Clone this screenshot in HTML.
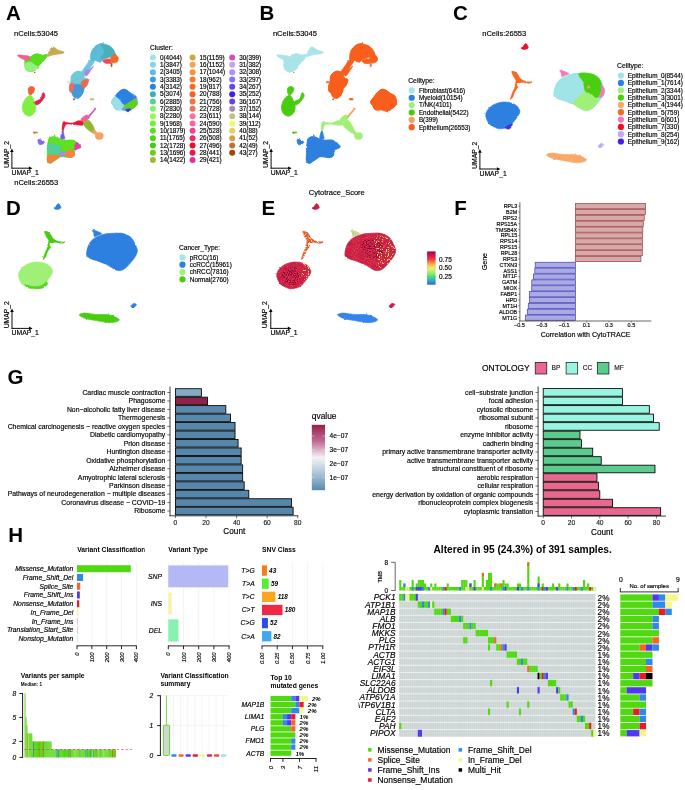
<!DOCTYPE html>
<html lang="en"><head><meta charset="utf-8"><title>Figure</title>
<style>html,body{margin:0;padding:0;background:#fff}svg{display:block}text{white-space:pre}</style>
</head><body>
<svg width="685" height="790" viewBox="0 0 685 790" font-family='"Liberation Sans", sans-serif'>
<defs>
<filter color-interpolation-filters="sRGB" id="rough" x="-5%" y="-5%" width="110%" height="110%"><feTurbulence type="fractalNoise" baseFrequency="0.09" numOctaves="2" seed="3" result="n"/><feDisplacementMap in="SourceGraphic" in2="n" scale="9" xChannelSelector="R" yChannelSelector="G"/></filter>
<filter color-interpolation-filters="sRGB" id="speckA" x="0" y="0" width="100%" height="100%"><feTurbulence type="fractalNoise" baseFrequency="0.2" numOctaves="2" seed="7" result="n"/><feColorMatrix in="n" type="matrix" values="0 0 0 0 0.92  0 0 0 0 0.22  0 0 0 0 0.22  14 0 0 0 -7.8" result="m"/><feComposite in="m" in2="SourceGraphic" operator="in"/></filter>
<filter color-interpolation-filters="sRGB" id="speckB" x="0" y="0" width="100%" height="100%"><feTurbulence type="fractalNoise" baseFrequency="0.2" numOctaves="2" seed="11" result="n"/><feColorMatrix in="n" type="matrix" values="0 0 0 0 0.97  0 0 0 0 0.86  0 0 0 0 0.4  0 14 0 0 -8.2" result="m"/><feComposite in="m" in2="SourceGraphic" operator="in"/></filter>
<filter color-interpolation-filters="sRGB" id="speckC" x="0" y="0" width="100%" height="100%"><feTurbulence type="fractalNoise" baseFrequency="0.2" numOctaves="2" seed="19" result="n"/><feColorMatrix in="n" type="matrix" values="0 0 0 0 0.55  0 0 0 0 0.02  0 0 0 0 0.24  0 0 14 0 -7.6" result="m"/><feComposite in="m" in2="SourceGraphic" operator="in"/></filter>
<linearGradient id="cyto" x1="0" y1="0" x2="0" y2="1"><stop offset="0" stop-color="#9E0058"/><stop offset="0.1" stop-color="#D01050"/><stop offset="0.22" stop-color="#F53040"/><stop offset="0.36" stop-color="#FF9A48"/><stop offset="0.5" stop-color="#F4F070"/><stop offset="0.64" stop-color="#9CF068"/><stop offset="0.78" stop-color="#40D880"/><stop offset="0.88" stop-color="#30A8C8"/><stop offset="1" stop-color="#3858F0"/></linearGradient>
<linearGradient id="qv" x1="0" y1="0" x2="0" y2="1"><stop offset="0" stop-color="#96204C"/><stop offset="0.25" stop-color="#C06A90"/><stop offset="0.5" stop-color="#F4F2F6"/><stop offset="0.75" stop-color="#A8C4D6"/><stop offset="1" stop-color="#5A8AAE"/></linearGradient>
<clipPath id="clipVC"><rect x="70" y="540" width="74.6" height="20"/></clipPath>
<clipPath id="clipGene"><rect x="358.6" y="585" width="50" height="160"/></clipPath>
</defs>
<rect x="0.00" y="0.00" width="685.00" height="790.00" fill="#fff" />
<text x="6.10" y="19.70" font-size="20.5" font-weight="bold" >A</text>
<text x="14.00" y="35.70" font-size="7.55" stroke="#000" stroke-width="0.16" >nCells:53045</text>
<g transform="translate(10.00,35.00) scale(0.20437)" filter="url(#rough)">
<path d="M497.0,327.0 C499.0,318.8 508.7,306.2 518.0,296.0 C527.3,285.8 541.3,268.2 553.0,266.0 C564.7,263.8 577.3,277.3 588.0,283.0 C598.7,288.7 611.3,291.0 617.0,300.0 C622.7,309.0 624.0,327.5 622.0,337.0 C620.0,346.5 612.3,351.0 605.0,357.0 C597.7,363.0 588.3,371.5 578.0,373.0 C567.7,374.5 553.0,367.5 543.0,366.0 C533.0,364.5 524.2,367.5 518.0,364.0 C511.8,360.5 509.5,351.2 506.0,345.0 C502.5,338.8 495.0,335.2 497.0,327.0Z" fill="#5CA8E0" stroke="#5CA8E0" stroke-width="3" stroke-linejoin="round" />
<path d="M190.0,508.0 C195.8,497.7 208.3,497.7 218.0,498.0 C227.7,498.3 238.8,507.2 248.0,510.0 C257.2,512.8 263.0,514.2 273.0,515.0 C283.0,515.8 299.7,512.8 308.0,515.0 C316.3,517.2 321.7,518.5 323.0,528.0 C324.3,537.5 317.8,561.3 316.0,572.0 C314.2,582.7 316.0,587.3 312.0,592.0 C308.0,596.7 300.3,599.3 292.0,600.0 C283.7,600.7 270.2,596.3 262.0,596.0 C253.8,595.7 250.3,594.8 243.0,598.0 C235.7,601.2 225.5,610.2 218.0,615.0 C210.5,619.8 203.8,626.7 198.0,627.0 C192.2,627.3 185.5,628.2 183.0,617.0 C180.5,605.8 181.8,578.2 183.0,560.0 C184.2,541.8 184.2,518.3 190.0,508.0Z" fill="#50D840" stroke="#50D840" stroke-width="3" stroke-linejoin="round" />
<path d="M75.0,112.0 C80.0,102.5 95.8,108.2 105.0,105.0 C114.2,101.8 120.8,94.0 130.0,93.0 C139.2,92.0 151.3,98.3 160.0,99.0 C168.7,99.7 180.3,93.5 182.0,97.0 C183.7,100.5 176.2,112.0 170.0,120.0 C163.8,128.0 150.8,138.0 145.0,145.0 C139.2,152.0 140.0,156.7 135.0,162.0 C130.0,167.3 122.5,174.5 115.0,177.0 C107.5,179.5 96.7,179.5 90.0,177.0 C83.3,174.5 77.5,172.8 75.0,162.0 C72.5,151.2 70.0,121.5 75.0,112.0Z" fill="#58DC20" stroke="#58DC20" stroke-width="3" stroke-linejoin="round" />
<path d="M304.0,195.0 C309.0,188.0 320.7,179.7 329.0,178.0 C337.3,176.3 347.7,179.7 354.0,185.0 C360.3,190.3 362.0,204.7 367.0,210.0 C372.0,215.3 382.3,211.2 384.0,217.0 C385.7,222.8 380.7,237.8 377.0,245.0 C373.3,252.2 365.8,252.5 362.0,260.0 C358.2,267.5 358.7,281.8 354.0,290.0 C349.3,298.2 340.7,306.7 334.0,309.0 C327.3,311.3 319.3,308.8 314.0,304.0 C308.7,299.2 305.7,285.0 302.0,280.0 C298.3,275.0 293.7,279.8 292.0,274.0 C290.3,268.2 290.8,254.0 292.0,245.0 C293.2,236.0 297.0,228.3 299.0,220.0 C301.0,211.7 299.0,202.0 304.0,195.0Z" fill="#78C8E0" stroke="#78C8E0" stroke-width="3" stroke-linejoin="round" />
<path d="M185.0,95.0 C187.5,88.3 195.0,70.8 200.0,65.0 C205.0,59.2 209.2,58.5 215.0,60.0 C220.8,61.5 226.7,70.0 235.0,74.0 C243.3,78.0 262.5,81.0 265.0,84.0 C267.5,87.0 256.7,90.2 250.0,92.0 C243.3,93.8 233.3,93.7 225.0,95.0 C216.7,96.3 206.7,98.3 200.0,100.0 C193.3,101.7 187.5,105.8 185.0,105.0 C182.5,104.2 182.5,101.7 185.0,95.0Z" fill="#C8A850" stroke="#C8A850" stroke-width="3" stroke-linejoin="round" />
<path d="M37.0,99.0 C38.7,96.5 55.8,98.2 65.0,99.0 C74.2,99.8 86.7,100.7 92.0,104.0 C97.3,107.3 99.0,115.7 97.0,119.0 C95.0,122.3 87.0,124.8 80.0,124.0 C73.0,123.2 62.2,118.2 55.0,114.0 C47.8,109.8 35.3,101.5 37.0,99.0Z" fill="#F06090" stroke="#F06090" stroke-width="3" stroke-linejoin="round" />
<path d="M72.0,142.0 C76.2,137.0 90.3,131.2 100.0,132.0 C109.7,132.8 124.2,142.0 130.0,147.0 C135.8,152.0 137.5,157.0 135.0,162.0 C132.5,167.0 122.5,174.5 115.0,177.0 C107.5,179.5 96.7,179.5 90.0,177.0 C83.3,174.5 78.0,167.8 75.0,162.0 C72.0,156.2 67.8,147.0 72.0,142.0Z" fill="#90F080" stroke="#90F080" stroke-width="3" stroke-linejoin="round" />
<path d="M105.0,104.0 C109.7,98.5 120.8,92.8 130.0,92.0 C139.2,91.2 151.3,98.2 160.0,99.0 C168.7,99.8 180.3,93.5 182.0,97.0 C183.7,100.5 176.2,112.0 170.0,120.0 C163.8,128.0 152.5,140.8 145.0,145.0 C137.5,149.2 132.2,148.3 125.0,145.0 C117.8,141.7 105.3,131.8 102.0,125.0 C98.7,118.2 100.3,109.5 105.0,104.0Z" fill="#58DC20" stroke="#58DC20" stroke-width="3" stroke-linejoin="round" />
<circle cx="121.00" cy="183.00" r="3.50" fill="#E03050" />
<path d="M392.0,122.0 C398.3,119.0 412.5,122.3 413.0,128.0 C413.5,133.7 400.7,147.8 395.0,156.0 C389.3,164.2 384.0,170.5 379.0,177.0 C374.0,183.5 370.3,193.0 365.0,195.0 C359.7,197.0 348.0,193.5 347.0,189.0 C346.0,184.5 354.3,175.2 359.0,168.0 C363.7,160.8 369.5,153.7 375.0,146.0 C380.5,138.3 385.7,125.0 392.0,122.0Z" fill="#70C4DC" stroke="#70C4DC" stroke-width="3" stroke-linejoin="round" />
<path d="M394.0,100.0 C395.2,91.3 398.2,78.8 404.0,70.0 C409.8,61.2 419.8,51.3 429.0,47.0 C438.2,42.7 452.2,40.2 459.0,44.0 C465.8,47.8 469.0,60.7 470.0,70.0 C471.0,79.3 469.3,89.7 465.0,100.0 C460.7,110.3 451.7,127.8 444.0,132.0 C436.3,136.2 426.8,126.7 419.0,125.0 C411.2,123.3 401.2,126.2 397.0,122.0 C392.8,117.8 392.8,108.7 394.0,100.0Z" fill="#5CBCD8" stroke="#5CBCD8" stroke-width="3" stroke-linejoin="round" />
<path d="M445.0,44.0 C449.5,39.7 478.0,48.2 489.0,54.0 C500.0,59.8 506.5,72.2 511.0,79.0 C515.5,85.8 518.8,90.3 516.0,95.0 C513.2,99.7 503.5,103.3 494.0,107.0 C484.5,110.7 467.0,116.5 459.0,117.0 C451.0,117.5 445.5,116.2 446.0,110.0 C446.5,103.8 462.2,91.0 462.0,80.0 C461.8,69.0 440.5,48.3 445.0,44.0Z" fill="#48B0BC" stroke="#48B0BC" stroke-width="3" stroke-linejoin="round" />
<path d="M454.0,124.0 C456.5,120.7 471.5,117.0 479.0,117.0 C486.5,117.0 497.3,120.3 499.0,124.0 C500.7,127.7 494.8,136.8 489.0,139.0 C483.2,141.2 469.8,139.5 464.0,137.0 C458.2,134.5 451.5,127.3 454.0,124.0Z" fill="#F04860" stroke="#F04860" stroke-width="3" stroke-linejoin="round" />
<path d="M494.0,109.0 C497.7,104.0 508.2,94.8 514.0,95.0 C519.8,95.2 527.0,104.2 529.0,110.0 C531.0,115.8 530.2,125.5 526.0,130.0 C521.8,134.5 509.7,137.8 504.0,137.0 C498.3,136.2 493.7,129.7 492.0,125.0 C490.3,120.3 490.3,114.0 494.0,109.0Z" fill="#F86820" stroke="#F86820" stroke-width="3" stroke-linejoin="round" />
<path d="M495.0,139.0 C495.7,136.5 498.3,136.5 499.0,139.0 C499.7,141.5 499.7,151.5 499.0,154.0 C498.3,156.5 495.7,156.5 495.0,154.0 C494.3,151.5 494.3,141.5 495.0,139.0Z" fill="#B04818" stroke="#B04818" stroke-width="3" stroke-linejoin="round" />
<path d="M304.0,195.0 C309.0,187.8 320.7,178.7 329.0,177.0 C337.3,175.3 347.7,179.5 354.0,185.0 C360.3,190.5 367.0,203.3 367.0,210.0 C367.0,216.7 358.7,220.0 354.0,225.0 C349.3,230.0 345.7,238.0 339.0,240.0 C332.3,242.0 320.7,240.3 314.0,237.0 C307.3,233.7 300.7,227.0 299.0,220.0 C297.3,213.0 299.0,202.2 304.0,195.0Z" fill="#70C8D8" stroke="#70C8D8" stroke-width="3" stroke-linejoin="round" />
<path d="M309.0,245.0 C316.0,239.0 335.2,241.5 344.0,244.0 C352.8,246.5 360.3,252.3 362.0,260.0 C363.7,267.7 358.7,281.8 354.0,290.0 C349.3,298.2 340.7,306.7 334.0,309.0 C327.3,311.3 319.3,308.8 314.0,304.0 C308.7,299.2 302.8,289.8 302.0,280.0 C301.2,270.2 302.0,251.0 309.0,245.0Z" fill="#4498D8" stroke="#4498D8" stroke-width="3" stroke-linejoin="round" />
<path d="M292.0,245.0 C294.0,238.5 300.3,235.0 304.0,235.0 C307.7,235.0 314.0,237.7 314.0,245.0 C314.0,252.3 307.7,274.2 304.0,279.0 C300.3,283.8 294.0,279.7 292.0,274.0 C290.0,268.3 290.0,251.5 292.0,245.0Z" fill="#F06868" stroke="#F06868" stroke-width="3" stroke-linejoin="round" />
<path d="M354.0,225.0 C359.8,220.3 380.2,213.7 384.0,217.0 C387.8,220.3 380.7,237.8 377.0,245.0 C373.3,252.2 366.7,260.0 362.0,260.0 C357.3,260.0 350.3,250.8 349.0,245.0 C347.7,239.2 348.2,229.7 354.0,225.0Z" fill="#F06850" stroke="#F06850" stroke-width="3" stroke-linejoin="round" />
<path d="M369.0,175.0 C372.7,170.5 382.3,170.8 389.0,167.0 C395.7,163.2 408.2,150.7 409.0,152.0 C409.8,153.3 399.3,167.2 394.0,175.0 C388.7,182.8 381.5,195.8 377.0,199.0 C372.5,202.2 368.3,198.0 367.0,194.0 C365.7,190.0 365.3,179.5 369.0,175.0Z" fill="#A888F0" stroke="#A888F0" stroke-width="3" stroke-linejoin="round" />
<circle cx="313.00" cy="314.00" r="5.00" fill="#8040D8" />
<path d="M280.0,229.0 C282.0,228.3 290.0,228.3 292.0,229.0 C294.0,229.7 294.0,232.3 292.0,233.0 C290.0,233.7 282.0,233.7 280.0,233.0 C278.0,232.3 278.0,229.7 280.0,229.0Z" fill="#E8F060" stroke="#E8F060" stroke-width="3" stroke-linejoin="round" />
<path d="M392.0,312.0 C394.3,311.0 405.0,310.2 408.0,311.0 C411.0,311.8 412.3,316.0 410.0,317.0 C407.7,318.0 397.0,317.8 394.0,317.0 C391.0,316.2 389.7,313.0 392.0,312.0Z" fill="#C0B860" stroke="#C0B860" stroke-width="3" stroke-linejoin="round" />
<path d="M496.0,327.0 C498.0,319.5 511.0,302.0 518.0,300.0 C525.0,298.0 531.3,308.3 538.0,315.0 C544.7,321.7 557.2,331.7 558.0,340.0 C558.8,348.3 549.7,360.8 543.0,365.0 C536.3,369.2 524.2,368.3 518.0,365.0 C511.8,361.7 509.7,351.3 506.0,345.0 C502.3,338.7 494.0,334.5 496.0,327.0Z" fill="#98E0E8" stroke="#98E0E8" stroke-width="3" stroke-linejoin="round" />
<path d="M518.0,295.0 C520.5,286.7 541.3,267.2 553.0,265.0 C564.7,262.8 578.8,274.5 588.0,282.0 C597.2,289.5 608.0,302.5 608.0,310.0 C608.0,317.5 596.3,322.0 588.0,327.0 C579.7,332.0 566.3,342.0 558.0,340.0 C549.7,338.0 544.7,322.5 538.0,315.0 C531.3,307.5 515.5,303.3 518.0,295.0Z" fill="#2C80E0" stroke="#2C80E0" stroke-width="3" stroke-linejoin="round" />
<path d="M558.0,350.0 C559.7,343.7 578.8,332.8 588.0,327.0 C597.2,321.2 607.0,313.3 613.0,315.0 C619.0,316.7 625.3,330.0 624.0,337.0 C622.7,344.0 612.7,352.3 605.0,357.0 C597.3,361.7 585.8,366.2 578.0,365.0 C570.2,363.8 556.3,356.3 558.0,350.0Z" fill="#60D020" stroke="#60D020" stroke-width="3" stroke-linejoin="round" />
<circle cx="613.00" cy="305.00" r="5.00" fill="#7050E0" />
<path d="M566.0,365.0 C568.0,362.7 588.0,360.2 590.0,362.0 C592.0,363.8 582.0,375.5 578.0,376.0 C574.0,376.5 564.0,367.3 566.0,365.0Z" fill="#3838E0" stroke="#3838E0" stroke-width="3" stroke-linejoin="round" />
<path d="M92.0,297.0 C98.2,293.7 102.3,295.3 107.0,300.0 C111.7,304.7 116.7,316.7 120.0,325.0 C123.3,333.3 127.0,340.8 127.0,350.0 C127.0,359.2 125.3,372.2 120.0,380.0 C114.7,387.8 103.3,396.2 95.0,397.0 C86.7,397.8 75.8,392.0 70.0,385.0 C64.2,378.0 60.0,365.8 60.0,355.0 C60.0,344.2 64.7,329.7 70.0,320.0 C75.3,310.3 85.8,300.3 92.0,297.0Z" fill="#80F040" stroke="#80F040" stroke-width="3" stroke-linejoin="round" />
<path d="M90.0,260.0 C92.5,254.2 102.0,252.0 107.0,252.0 C112.0,252.0 118.3,255.8 120.0,260.0 C121.7,264.2 119.5,271.7 117.0,277.0 C114.5,282.3 109.2,290.3 105.0,292.0 C100.8,293.7 94.5,292.3 92.0,287.0 C89.5,281.7 87.5,265.8 90.0,260.0Z" fill="#F06030" stroke="#F06030" stroke-width="3" stroke-linejoin="round" />
<path d="M122.0,327.0 C125.3,322.0 143.8,319.0 150.0,312.0 C156.2,305.0 156.2,289.5 159.0,285.0 C161.8,280.5 165.2,282.2 167.0,285.0 C168.8,287.8 172.8,294.5 170.0,302.0 C167.2,309.5 156.7,323.3 150.0,330.0 C143.3,336.7 134.7,342.5 130.0,342.0 C125.3,341.5 118.7,332.0 122.0,327.0Z" fill="#E02050" stroke="#E02050" stroke-width="3" stroke-linejoin="round" />
<path d="M257.0,440.0 C258.2,434.0 258.5,426.0 262.0,424.0 C265.5,422.0 270.3,426.8 278.0,428.0 C285.7,429.2 298.8,432.3 308.0,431.0 C317.2,429.7 324.7,421.3 333.0,420.0 C341.3,418.7 353.8,419.7 358.0,423.0 C362.2,426.3 362.2,437.2 358.0,440.0 C353.8,442.8 341.3,440.3 333.0,440.0 C324.7,439.7 317.2,438.7 308.0,438.0 C298.8,437.3 285.0,433.7 278.0,436.0 C271.0,438.3 269.2,445.8 266.0,452.0 C262.8,458.2 260.8,471.7 259.0,473.0 C257.2,474.3 255.3,465.5 255.0,460.0 C254.7,454.5 255.8,446.0 257.0,440.0Z" fill="#E81830" stroke="#E81830" stroke-width="3" stroke-linejoin="round" />
<path d="M348.0,412.0 C350.5,406.8 366.3,393.7 373.0,392.0 C379.7,390.3 387.7,397.7 388.0,402.0 C388.3,406.3 380.0,414.5 375.0,418.0 C370.0,421.5 362.5,424.0 358.0,423.0 C353.5,422.0 345.5,417.2 348.0,412.0Z" fill="#F060A0" stroke="#F060A0" stroke-width="3" stroke-linejoin="round" />
<path d="M383.0,397.0 C385.0,393.2 394.2,384.5 400.0,378.0 C405.8,371.5 414.8,360.5 418.0,358.0 C421.2,355.5 421.5,358.8 419.0,363.0 C416.5,367.2 408.2,376.7 403.0,383.0 C397.8,389.3 391.3,398.7 388.0,401.0 C384.7,403.3 381.0,400.8 383.0,397.0Z" fill="#D050C0" stroke="#D050C0" stroke-width="3" stroke-linejoin="round" />
<path d="M360.0,430.0 C362.5,424.5 375.8,415.7 383.0,417.0 C390.2,418.3 397.7,429.5 403.0,438.0 C408.3,446.5 414.2,461.0 415.0,468.0 C415.8,475.0 412.5,480.0 408.0,480.0 C403.5,480.0 394.7,473.0 388.0,468.0 C381.3,463.0 372.7,456.3 368.0,450.0 C363.3,443.7 357.5,435.5 360.0,430.0Z" fill="#90B830" stroke="#90B830" stroke-width="3" stroke-linejoin="round" />
<ellipse cx="437.0" cy="494.0" rx="21.0" ry="18.0" fill="#F8A060" />
<path d="M405.0,470.0 C405.3,466.7 412.7,464.3 416.0,466.0 C419.3,467.7 425.3,476.7 425.0,480.0 C424.7,483.3 417.3,487.7 414.0,486.0 C410.7,484.3 404.7,473.3 405.0,470.0Z" fill="#F8A060" stroke="#F8A060" stroke-width="3" stroke-linejoin="round" />
<path d="M248.0,507.0 C245.5,502.2 251.0,484.2 253.0,478.0 C255.0,471.8 258.0,467.7 260.0,470.0 C262.0,472.3 263.7,485.8 265.0,492.0 C266.3,498.2 270.8,504.5 268.0,507.0 C265.2,509.5 250.5,511.8 248.0,507.0Z" fill="#7060F0" stroke="#7060F0" stroke-width="3" stroke-linejoin="round" />
<path d="M137.0,512.0 C138.7,509.8 142.8,510.3 148.0,512.0 C153.2,513.7 165.5,518.7 168.0,522.0 C170.5,525.3 166.8,529.5 163.0,532.0 C159.2,534.5 149.2,538.2 145.0,537.0 C140.8,535.8 139.3,529.2 138.0,525.0 C136.7,520.8 135.3,514.2 137.0,512.0Z" fill="#8868F0" stroke="#8868F0" stroke-width="3" stroke-linejoin="round" />
<path d="M190.0,508.0 C193.3,502.3 208.3,497.7 218.0,498.0 C227.7,498.3 238.8,507.2 248.0,510.0 C257.2,512.8 263.0,514.2 273.0,515.0 C283.0,515.8 299.7,512.8 308.0,515.0 C316.3,517.2 322.2,521.8 323.0,528.0 C323.8,534.2 318.8,545.5 313.0,552.0 C307.2,558.5 296.3,564.5 288.0,567.0 C279.7,569.5 269.7,571.2 263.0,567.0 C256.3,562.8 253.8,547.8 248.0,542.0 C242.2,536.2 236.3,533.7 228.0,532.0 C219.7,530.3 204.3,536.0 198.0,532.0 C191.7,528.0 186.7,513.7 190.0,508.0Z" fill="#60E020" stroke="#60E020" stroke-width="3" stroke-linejoin="round" />
<path d="M183.0,542.0 C185.5,536.7 190.5,531.2 198.0,530.0 C205.5,528.8 219.7,531.3 228.0,535.0 C236.3,538.7 245.5,545.0 248.0,552.0 C250.5,559.0 248.0,571.2 243.0,577.0 C238.0,582.8 226.3,586.2 218.0,587.0 C209.7,587.8 198.8,586.2 193.0,582.0 C187.2,577.8 184.7,568.7 183.0,562.0 C181.3,555.3 180.5,547.3 183.0,542.0Z" fill="#50D098" stroke="#50D098" stroke-width="3" stroke-linejoin="round" />
<path d="M243.0,577.0 C244.7,572.8 258.0,569.2 263.0,570.0 C268.0,570.8 274.7,577.8 273.0,582.0 C271.3,586.2 258.0,595.8 253.0,595.0 C248.0,594.2 241.3,581.2 243.0,577.0Z" fill="#B088E0" stroke="#B088E0" stroke-width="3" stroke-linejoin="round" />
<path d="M273.0,577.0 C276.8,572.0 291.0,562.8 298.0,562.0 C305.0,561.2 312.5,567.0 315.0,572.0 C317.5,577.0 316.7,587.3 313.0,592.0 C309.3,596.7 299.3,600.0 293.0,600.0 C286.7,600.0 278.3,595.8 275.0,592.0 C271.7,588.2 269.2,582.0 273.0,577.0Z" fill="#F88040" stroke="#F88040" stroke-width="3" stroke-linejoin="round" />
<path d="M183.0,597.0 C185.5,592.0 190.5,588.2 198.0,587.0 C205.5,585.8 220.5,588.3 228.0,590.0 C235.5,591.7 244.7,592.8 243.0,597.0 C241.3,601.2 225.5,610.0 218.0,615.0 C210.5,620.0 203.8,626.7 198.0,627.0 C192.2,627.3 185.5,622.0 183.0,617.0 C180.5,612.0 180.5,602.0 183.0,597.0Z" fill="#F88038" stroke="#F88038" stroke-width="3" stroke-linejoin="round" />
<path d="M318.0,537.0 C319.7,530.8 323.0,523.3 328.0,525.0 C333.0,526.7 347.2,541.7 348.0,547.0 C348.8,552.3 338.0,554.5 333.0,557.0 C328.0,559.5 320.5,565.3 318.0,562.0 C315.5,558.7 316.3,543.2 318.0,537.0Z" fill="#E040A0" stroke="#E040A0" stroke-width="3" stroke-linejoin="round" />
<path d="M115.0,475.0 C118.0,474.3 130.0,474.3 133.0,475.0 C136.0,475.7 136.0,478.3 133.0,479.0 C130.0,479.7 118.0,479.7 115.0,479.0 C112.0,478.3 112.0,475.7 115.0,475.0Z" fill="#C08030" stroke="#C08030" stroke-width="3" stroke-linejoin="round" />
<circle cx="218.00" cy="491.00" r="4.00" fill="#B0B030" />
<circle cx="333.00" cy="366.00" r="2.00" fill="#6080D0" />
</g>
<line x1="11.90" y1="168.65" x2="11.90" y2="151.40" stroke="#000" stroke-width="0.95" />
<line x1="11.45" y1="168.20" x2="29.40" y2="168.20" stroke="#000" stroke-width="0.95" />
<path d="M10.10,151.90 L11.90,148.40 L13.70,151.90Z" fill="#000"/>
<path d="M28.90,166.40 L32.40,168.20 L28.90,170.00Z" fill="#000"/>
<text x="8.60" y="168.10" font-size="6.8" transform="rotate(-90 8.60 168.10)" stroke="#000" stroke-width="0.16" >UMAP_2</text>
<text x="11.50" y="175.00" font-size="6.8" stroke="#000" stroke-width="0.16" >UMAP_1</text>
<text x="14.20" y="184.50" font-size="7.55" stroke="#000" stroke-width="0.16" >nCells:26553</text>
<text x="150.00" y="49.70" font-size="6.6" stroke="#000" stroke-width="0.16" >Cluster:</text>
<circle cx="152.90" cy="57.50" r="3.00" fill="#A0E4E6" />
<text x="159.90" y="59.70" font-size="6.4" stroke="#000" stroke-width="0.16" >0(4044)</text>
<circle cx="152.90" cy="64.83" r="3.00" fill="#80D6E4" />
<text x="159.90" y="67.03" font-size="6.4" stroke="#000" stroke-width="0.16" >1(3847)</text>
<circle cx="152.90" cy="72.16" r="3.00" fill="#5CBCE6" />
<text x="159.90" y="74.36" font-size="6.4" stroke="#000" stroke-width="0.16" >2(3405)</text>
<circle cx="152.90" cy="79.49" r="3.00" fill="#3C9CE6" />
<text x="159.90" y="81.69" font-size="6.4" stroke="#000" stroke-width="0.16" >3(3383)</text>
<circle cx="152.90" cy="86.82" r="3.00" fill="#2A82E0" />
<text x="159.90" y="89.02" font-size="6.4" stroke="#000" stroke-width="0.16" >4(3142)</text>
<circle cx="152.90" cy="94.15" r="3.00" fill="#40AEB4" />
<text x="159.90" y="96.35" font-size="6.4" stroke="#000" stroke-width="0.16" >5(3074)</text>
<circle cx="152.90" cy="101.48" r="3.00" fill="#54D096" />
<text x="159.90" y="103.68" font-size="6.4" stroke="#000" stroke-width="0.16" >6(2885)</text>
<circle cx="152.90" cy="108.81" r="3.00" fill="#84F074" />
<text x="159.90" y="111.01" font-size="6.4" stroke="#000" stroke-width="0.16" >7(2830)</text>
<circle cx="152.90" cy="116.14" r="3.00" fill="#92F852" />
<text x="159.90" y="118.34" font-size="6.4" stroke="#000" stroke-width="0.16" >8(2280)</text>
<circle cx="152.90" cy="123.47" r="3.00" fill="#70F030" />
<text x="159.90" y="125.67" font-size="6.4" stroke="#000" stroke-width="0.16" >9(1968)</text>
<circle cx="152.90" cy="130.80" r="3.00" fill="#58E020" />
<text x="159.90" y="133.00" font-size="6.4" stroke="#000" stroke-width="0.16" >10(1879)</text>
<circle cx="152.90" cy="138.13" r="3.00" fill="#48D818" />
<text x="159.90" y="140.33" font-size="6.4" stroke="#000" stroke-width="0.16" >11(1765)</text>
<circle cx="152.90" cy="145.46" r="3.00" fill="#40CC10" />
<text x="159.90" y="147.66" font-size="6.4" stroke="#000" stroke-width="0.16" >12(1728)</text>
<circle cx="152.90" cy="152.79" r="3.00" fill="#6CCC20" />
<text x="159.90" y="154.99" font-size="6.4" stroke="#000" stroke-width="0.16" >13(1696)</text>
<circle cx="152.90" cy="160.12" r="3.00" fill="#A0B838" />
<text x="159.90" y="162.32" font-size="6.4" stroke="#000" stroke-width="0.16" >14(1422)</text>
<circle cx="192.55" cy="57.50" r="3.00" fill="#D0A83C" />
<text x="199.55" y="59.70" font-size="6.4" stroke="#000" stroke-width="0.16" >15(1159)</text>
<circle cx="192.55" cy="64.83" r="3.00" fill="#F6A254" />
<text x="199.55" y="67.03" font-size="6.4" stroke="#000" stroke-width="0.16" >16(1152)</text>
<circle cx="192.55" cy="72.16" r="3.00" fill="#F89040" />
<text x="199.55" y="74.36" font-size="6.4" stroke="#000" stroke-width="0.16" >17(1044)</text>
<circle cx="192.55" cy="79.49" r="3.00" fill="#F87A2A" />
<text x="199.55" y="81.69" font-size="6.4" stroke="#000" stroke-width="0.16" >18(962)</text>
<circle cx="192.55" cy="86.82" r="3.00" fill="#F86A20" />
<text x="199.55" y="89.02" font-size="6.4" stroke="#000" stroke-width="0.16" >19(817)</text>
<circle cx="192.55" cy="94.15" r="3.00" fill="#F86020" />
<text x="199.55" y="96.35" font-size="6.4" stroke="#000" stroke-width="0.16" >20(788)</text>
<circle cx="192.55" cy="101.48" r="3.00" fill="#F8703A" />
<text x="199.55" y="103.68" font-size="6.4" stroke="#000" stroke-width="0.16" >21(756)</text>
<circle cx="192.55" cy="108.81" r="3.00" fill="#F07062" />
<text x="199.55" y="111.01" font-size="6.4" stroke="#000" stroke-width="0.16" >22(728)</text>
<circle cx="192.55" cy="116.14" r="3.00" fill="#F872A0" />
<text x="199.55" y="118.34" font-size="6.4" stroke="#000" stroke-width="0.16" >23(611)</text>
<circle cx="192.55" cy="123.47" r="3.00" fill="#F862A8" />
<text x="199.55" y="125.67" font-size="6.4" stroke="#000" stroke-width="0.16" >24(590)</text>
<circle cx="192.55" cy="130.80" r="3.00" fill="#F2428A" />
<text x="199.55" y="133.00" font-size="6.4" stroke="#000" stroke-width="0.16" >25(528)</text>
<circle cx="192.55" cy="138.13" r="3.00" fill="#F02A62" />
<text x="199.55" y="140.33" font-size="6.4" stroke="#000" stroke-width="0.16" >26(508)</text>
<circle cx="192.55" cy="145.46" r="3.00" fill="#E81030" />
<text x="199.55" y="147.66" font-size="6.4" stroke="#000" stroke-width="0.16" >27(496)</text>
<circle cx="192.55" cy="152.79" r="3.00" fill="#E81A4A" />
<text x="199.55" y="154.99" font-size="6.4" stroke="#000" stroke-width="0.16" >28(441)</text>
<circle cx="192.55" cy="160.12" r="3.00" fill="#E030A0" />
<text x="199.55" y="162.32" font-size="6.4" stroke="#000" stroke-width="0.16" >29(421)</text>
<circle cx="232.20" cy="57.50" r="3.00" fill="#D050C0" />
<text x="239.20" y="59.70" font-size="6.4" stroke="#000" stroke-width="0.16" >30(399)</text>
<circle cx="232.20" cy="64.83" r="3.00" fill="#C8A0F0" />
<text x="239.20" y="67.03" font-size="6.4" stroke="#000" stroke-width="0.16" >31(382)</text>
<circle cx="232.20" cy="72.16" r="3.00" fill="#B090F8" />
<text x="239.20" y="74.36" font-size="6.4" stroke="#000" stroke-width="0.16" >32(308)</text>
<circle cx="232.20" cy="79.49" r="3.00" fill="#8A72F8" />
<text x="239.20" y="81.69" font-size="6.4" stroke="#000" stroke-width="0.16" >33(297)</text>
<circle cx="232.20" cy="86.82" r="3.00" fill="#5A4AF0" />
<text x="239.20" y="89.02" font-size="6.4" stroke="#000" stroke-width="0.16" >34(267)</text>
<circle cx="232.20" cy="94.15" r="3.00" fill="#4020F0" />
<text x="239.20" y="96.35" font-size="6.4" stroke="#000" stroke-width="0.16" >35(252)</text>
<circle cx="232.20" cy="101.48" r="3.00" fill="#6248D8" />
<text x="239.20" y="103.68" font-size="6.4" stroke="#000" stroke-width="0.16" >36(167)</text>
<circle cx="232.20" cy="108.81" r="3.00" fill="#A090B4" />
<text x="239.20" y="111.01" font-size="6.4" stroke="#000" stroke-width="0.16" >37(152)</text>
<circle cx="232.20" cy="116.14" r="3.00" fill="#C2C084" />
<text x="239.20" y="118.34" font-size="6.4" stroke="#000" stroke-width="0.16" >38(144)</text>
<circle cx="232.20" cy="123.47" r="3.00" fill="#F0F870" />
<text x="239.20" y="125.67" font-size="6.4" stroke="#000" stroke-width="0.16" >39(112)</text>
<circle cx="232.20" cy="130.80" r="3.00" fill="#E8D060" />
<text x="239.20" y="133.00" font-size="6.4" stroke="#000" stroke-width="0.16" >40(88)</text>
<circle cx="232.20" cy="138.13" r="3.00" fill="#D2A24A" />
<text x="239.20" y="140.33" font-size="6.4" stroke="#000" stroke-width="0.16" >41(52)</text>
<circle cx="232.20" cy="145.46" r="3.00" fill="#C07232" />
<text x="239.20" y="147.66" font-size="6.4" stroke="#000" stroke-width="0.16" >42(49)</text>
<circle cx="232.20" cy="152.79" r="3.00" fill="#A84010" />
<text x="239.20" y="154.99" font-size="6.4" stroke="#000" stroke-width="0.16" >43(27)</text>
<text x="259.40" y="19.50" font-size="20.5" font-weight="bold" >B</text>
<text x="272.90" y="35.70" font-size="7.55" stroke="#000" stroke-width="0.16" >nCells:53045</text>
<g transform="translate(269.20,35.00) scale(0.20437)" filter="url(#rough)">
<path d="M497.0,327.0 C499.0,318.8 508.7,306.2 518.0,296.0 C527.3,285.8 541.3,268.2 553.0,266.0 C564.7,263.8 577.3,277.3 588.0,283.0 C598.7,288.7 611.3,291.0 617.0,300.0 C622.7,309.0 624.0,327.5 622.0,337.0 C620.0,346.5 612.3,351.0 605.0,357.0 C597.7,363.0 588.3,371.5 578.0,373.0 C567.7,374.5 553.0,367.5 543.0,366.0 C533.0,364.5 524.2,367.5 518.0,364.0 C511.8,360.5 509.5,351.2 506.0,345.0 C502.5,338.8 495.0,335.2 497.0,327.0Z" fill="#F85E1C" stroke="#F85E1C" stroke-width="4" stroke-linejoin="round" />
<path d="M190.0,508.0 C195.8,497.7 208.3,497.7 218.0,498.0 C227.7,498.3 238.8,507.2 248.0,510.0 C257.2,512.8 263.0,514.2 273.0,515.0 C283.0,515.8 299.7,512.8 308.0,515.0 C316.3,517.2 321.7,518.5 323.0,528.0 C324.3,537.5 317.8,561.3 316.0,572.0 C314.2,582.7 316.0,587.3 312.0,592.0 C308.0,596.7 300.3,599.3 292.0,600.0 C283.7,600.7 270.2,596.3 262.0,596.0 C253.8,595.7 250.3,594.8 243.0,598.0 C235.7,601.2 225.5,610.2 218.0,615.0 C210.5,619.8 203.8,626.7 198.0,627.0 C192.2,627.3 185.5,628.2 183.0,617.0 C180.5,605.8 181.8,578.2 183.0,560.0 C184.2,541.8 184.2,518.3 190.0,508.0Z" fill="#2E80E0" stroke="#2E80E0" stroke-width="4" stroke-linejoin="round" />
<path d="M75.0,112.0 C80.0,102.5 95.8,108.2 105.0,105.0 C114.2,101.8 120.8,94.0 130.0,93.0 C139.2,92.0 151.3,98.3 160.0,99.0 C168.7,99.7 180.3,93.5 182.0,97.0 C183.7,100.5 176.2,112.0 170.0,120.0 C163.8,128.0 150.8,138.0 145.0,145.0 C139.2,152.0 140.0,156.7 135.0,162.0 C130.0,167.3 122.5,174.5 115.0,177.0 C107.5,179.5 96.7,179.5 90.0,177.0 C83.3,174.5 77.5,172.8 75.0,162.0 C72.5,151.2 70.0,121.5 75.0,112.0Z" fill="#A8E4EA" stroke="#A8E4EA" stroke-width="4" stroke-linejoin="round" />
<path d="M304.0,195.0 C309.0,188.0 320.7,179.7 329.0,178.0 C337.3,176.3 347.7,179.7 354.0,185.0 C360.3,190.3 362.0,204.7 367.0,210.0 C372.0,215.3 382.3,211.2 384.0,217.0 C385.7,222.8 380.7,237.8 377.0,245.0 C373.3,252.2 365.8,252.5 362.0,260.0 C358.2,267.5 358.7,281.8 354.0,290.0 C349.3,298.2 340.7,306.7 334.0,309.0 C327.3,311.3 319.3,308.8 314.0,304.0 C308.7,299.2 305.7,285.0 302.0,280.0 C298.3,275.0 293.7,279.8 292.0,274.0 C290.3,268.2 290.8,254.0 292.0,245.0 C293.2,236.0 297.0,228.3 299.0,220.0 C301.0,211.7 299.0,202.0 304.0,195.0Z" fill="#F85E1C" stroke="#F85E1C" stroke-width="4" stroke-linejoin="round" />
<path d="M185.0,95.0 C187.5,88.3 195.0,70.8 200.0,65.0 C205.0,59.2 209.2,58.5 215.0,60.0 C220.8,61.5 226.7,70.0 235.0,74.0 C243.3,78.0 262.5,81.0 265.0,84.0 C267.5,87.0 256.7,90.2 250.0,92.0 C243.3,93.8 233.3,93.7 225.0,95.0 C216.7,96.3 206.7,98.3 200.0,100.0 C193.3,101.7 187.5,105.8 185.0,105.0 C182.5,104.2 182.5,101.7 185.0,95.0Z" fill="#A8E4EA" stroke="#A8E4EA" stroke-width="4" stroke-linejoin="round" />
<path d="M37.0,99.0 C38.7,96.5 55.8,98.2 65.0,99.0 C74.2,99.8 86.7,100.7 92.0,104.0 C97.3,107.3 99.0,115.7 97.0,119.0 C95.0,122.3 87.0,124.8 80.0,124.0 C73.0,123.2 62.2,118.2 55.0,114.0 C47.8,109.8 35.3,101.5 37.0,99.0Z" fill="#A8E4EA" stroke="#A8E4EA" stroke-width="4" stroke-linejoin="round" />
<path d="M72.0,142.0 C76.2,137.0 90.3,131.2 100.0,132.0 C109.7,132.8 124.2,142.0 130.0,147.0 C135.8,152.0 137.5,157.0 135.0,162.0 C132.5,167.0 122.5,174.5 115.0,177.0 C107.5,179.5 96.7,179.5 90.0,177.0 C83.3,174.5 78.0,167.8 75.0,162.0 C72.0,156.2 67.8,147.0 72.0,142.0Z" fill="#A8E4EA" stroke="#A8E4EA" stroke-width="4" stroke-linejoin="round" />
<path d="M105.0,104.0 C109.7,98.5 120.8,92.8 130.0,92.0 C139.2,91.2 151.3,98.2 160.0,99.0 C168.7,99.8 180.3,93.5 182.0,97.0 C183.7,100.5 176.2,112.0 170.0,120.0 C163.8,128.0 152.5,140.8 145.0,145.0 C137.5,149.2 132.2,148.3 125.0,145.0 C117.8,141.7 105.3,131.8 102.0,125.0 C98.7,118.2 100.3,109.5 105.0,104.0Z" fill="#A8E4EA" stroke="#A8E4EA" stroke-width="4" stroke-linejoin="round" />
<circle cx="121.00" cy="183.00" r="3.50" fill="#48CC10" />
<path d="M392.0,122.0 C398.3,119.0 412.5,122.3 413.0,128.0 C413.5,133.7 400.7,147.8 395.0,156.0 C389.3,164.2 384.0,170.5 379.0,177.0 C374.0,183.5 370.3,193.0 365.0,195.0 C359.7,197.0 348.0,193.5 347.0,189.0 C346.0,184.5 354.3,175.2 359.0,168.0 C363.7,160.8 369.5,153.7 375.0,146.0 C380.5,138.3 385.7,125.0 392.0,122.0Z" fill="#F85E1C" stroke="#F85E1C" stroke-width="4" stroke-linejoin="round" />
<path d="M394.0,100.0 C395.2,91.3 398.2,78.8 404.0,70.0 C409.8,61.2 419.8,51.3 429.0,47.0 C438.2,42.7 452.2,40.2 459.0,44.0 C465.8,47.8 469.0,60.7 470.0,70.0 C471.0,79.3 469.3,89.7 465.0,100.0 C460.7,110.3 451.7,127.8 444.0,132.0 C436.3,136.2 426.8,126.7 419.0,125.0 C411.2,123.3 401.2,126.2 397.0,122.0 C392.8,117.8 392.8,108.7 394.0,100.0Z" fill="#F85E1C" stroke="#F85E1C" stroke-width="4" stroke-linejoin="round" />
<path d="M445.0,44.0 C449.5,39.7 478.0,48.2 489.0,54.0 C500.0,59.8 506.5,72.2 511.0,79.0 C515.5,85.8 518.8,90.3 516.0,95.0 C513.2,99.7 503.5,103.3 494.0,107.0 C484.5,110.7 467.0,116.5 459.0,117.0 C451.0,117.5 445.5,116.2 446.0,110.0 C446.5,103.8 462.2,91.0 462.0,80.0 C461.8,69.0 440.5,48.3 445.0,44.0Z" fill="#F85E1C" stroke="#F85E1C" stroke-width="4" stroke-linejoin="round" />
<path d="M454.0,124.0 C456.5,120.7 471.5,117.0 479.0,117.0 C486.5,117.0 497.3,120.3 499.0,124.0 C500.7,127.7 494.8,136.8 489.0,139.0 C483.2,141.2 469.8,139.5 464.0,137.0 C458.2,134.5 451.5,127.3 454.0,124.0Z" fill="#F85E1C" stroke="#F85E1C" stroke-width="4" stroke-linejoin="round" />
<path d="M494.0,109.0 C497.7,104.0 508.2,94.8 514.0,95.0 C519.8,95.2 527.0,104.2 529.0,110.0 C531.0,115.8 530.2,125.5 526.0,130.0 C521.8,134.5 509.7,137.8 504.0,137.0 C498.3,136.2 493.7,129.7 492.0,125.0 C490.3,120.3 490.3,114.0 494.0,109.0Z" fill="#F85E1C" stroke="#F85E1C" stroke-width="4" stroke-linejoin="round" />
<path d="M495.0,139.0 C495.7,136.5 498.3,136.5 499.0,139.0 C499.7,141.5 499.7,151.5 499.0,154.0 C498.3,156.5 495.7,156.5 495.0,154.0 C494.3,151.5 494.3,141.5 495.0,139.0Z" fill="#F85E1C" stroke="#F85E1C" stroke-width="4" stroke-linejoin="round" />
<path d="M304.0,195.0 C309.0,187.8 320.7,178.7 329.0,177.0 C337.3,175.3 347.7,179.5 354.0,185.0 C360.3,190.5 367.0,203.3 367.0,210.0 C367.0,216.7 358.7,220.0 354.0,225.0 C349.3,230.0 345.7,238.0 339.0,240.0 C332.3,242.0 320.7,240.3 314.0,237.0 C307.3,233.7 300.7,227.0 299.0,220.0 C297.3,213.0 299.0,202.2 304.0,195.0Z" fill="#F85E1C" stroke="#F85E1C" stroke-width="4" stroke-linejoin="round" />
<path d="M309.0,245.0 C316.0,239.0 335.2,241.5 344.0,244.0 C352.8,246.5 360.3,252.3 362.0,260.0 C363.7,267.7 358.7,281.8 354.0,290.0 C349.3,298.2 340.7,306.7 334.0,309.0 C327.3,311.3 319.3,308.8 314.0,304.0 C308.7,299.2 302.8,289.8 302.0,280.0 C301.2,270.2 302.0,251.0 309.0,245.0Z" fill="#F85E1C" stroke="#F85E1C" stroke-width="4" stroke-linejoin="round" />
<path d="M292.0,245.0 C294.0,238.5 300.3,235.0 304.0,235.0 C307.7,235.0 314.0,237.7 314.0,245.0 C314.0,252.3 307.7,274.2 304.0,279.0 C300.3,283.8 294.0,279.7 292.0,274.0 C290.0,268.3 290.0,251.5 292.0,245.0Z" fill="#F85E1C" stroke="#F85E1C" stroke-width="4" stroke-linejoin="round" />
<path d="M354.0,225.0 C359.8,220.3 380.2,213.7 384.0,217.0 C387.8,220.3 380.7,237.8 377.0,245.0 C373.3,252.2 366.7,260.0 362.0,260.0 C357.3,260.0 350.3,250.8 349.0,245.0 C347.7,239.2 348.2,229.7 354.0,225.0Z" fill="#F85E1C" stroke="#F85E1C" stroke-width="4" stroke-linejoin="round" />
<path d="M369.0,175.0 C372.7,170.5 382.3,170.8 389.0,167.0 C395.7,163.2 408.2,150.7 409.0,152.0 C409.8,153.3 399.3,167.2 394.0,175.0 C388.7,182.8 381.5,195.8 377.0,199.0 C372.5,202.2 368.3,198.0 367.0,194.0 C365.7,190.0 365.3,179.5 369.0,175.0Z" fill="#F85E1C" stroke="#F85E1C" stroke-width="4" stroke-linejoin="round" />
<circle cx="313.00" cy="314.00" r="5.00" fill="#F85E1C" />
<path d="M280.0,229.0 C282.0,228.3 290.0,228.3 292.0,229.0 C294.0,229.7 294.0,232.3 292.0,233.0 C290.0,233.7 282.0,233.7 280.0,233.0 C278.0,232.3 278.0,229.7 280.0,229.0Z" fill="#F85E1C" stroke="#F85E1C" stroke-width="4" stroke-linejoin="round" />
<path d="M392.0,312.0 C394.3,311.0 405.0,310.2 408.0,311.0 C411.0,311.8 412.3,316.0 410.0,317.0 C407.7,318.0 397.0,317.8 394.0,317.0 C391.0,316.2 389.7,313.0 392.0,312.0Z" fill="#F85E1C" stroke="#F85E1C" stroke-width="4" stroke-linejoin="round" />
<path d="M496.0,327.0 C498.0,319.5 511.0,302.0 518.0,300.0 C525.0,298.0 531.3,308.3 538.0,315.0 C544.7,321.7 557.2,331.7 558.0,340.0 C558.8,348.3 549.7,360.8 543.0,365.0 C536.3,369.2 524.2,368.3 518.0,365.0 C511.8,361.7 509.7,351.3 506.0,345.0 C502.3,338.7 494.0,334.5 496.0,327.0Z" fill="#F85E1C" stroke="#F85E1C" stroke-width="4" stroke-linejoin="round" />
<path d="M518.0,295.0 C520.5,286.7 541.3,267.2 553.0,265.0 C564.7,262.8 578.8,274.5 588.0,282.0 C597.2,289.5 608.0,302.5 608.0,310.0 C608.0,317.5 596.3,322.0 588.0,327.0 C579.7,332.0 566.3,342.0 558.0,340.0 C549.7,338.0 544.7,322.5 538.0,315.0 C531.3,307.5 515.5,303.3 518.0,295.0Z" fill="#F85E1C" stroke="#F85E1C" stroke-width="4" stroke-linejoin="round" />
<path d="M558.0,350.0 C559.7,343.7 578.8,332.8 588.0,327.0 C597.2,321.2 607.0,313.3 613.0,315.0 C619.0,316.7 625.3,330.0 624.0,337.0 C622.7,344.0 612.7,352.3 605.0,357.0 C597.3,361.7 585.8,366.2 578.0,365.0 C570.2,363.8 556.3,356.3 558.0,350.0Z" fill="#F85E1C" stroke="#F85E1C" stroke-width="4" stroke-linejoin="round" />
<circle cx="613.00" cy="305.00" r="5.00" fill="#F85E1C" />
<path d="M566.0,365.0 C568.0,362.7 588.0,360.2 590.0,362.0 C592.0,363.8 582.0,375.5 578.0,376.0 C574.0,376.5 564.0,367.3 566.0,365.0Z" fill="#F85E1C" stroke="#F85E1C" stroke-width="4" stroke-linejoin="round" />
<path d="M92.0,297.0 C98.2,293.7 102.3,295.3 107.0,300.0 C111.7,304.7 116.7,316.7 120.0,325.0 C123.3,333.3 127.0,340.8 127.0,350.0 C127.0,359.2 125.3,372.2 120.0,380.0 C114.7,387.8 103.3,396.2 95.0,397.0 C86.7,397.8 75.8,392.0 70.0,385.0 C64.2,378.0 60.0,365.8 60.0,355.0 C60.0,344.2 64.7,329.7 70.0,320.0 C75.3,310.3 85.8,300.3 92.0,297.0Z" fill="#48CC10" stroke="#48CC10" stroke-width="4" stroke-linejoin="round" />
<path d="M90.0,260.0 C92.5,254.2 102.0,252.0 107.0,252.0 C112.0,252.0 118.3,255.8 120.0,260.0 C121.7,264.2 119.5,271.7 117.0,277.0 C114.5,282.3 109.2,290.3 105.0,292.0 C100.8,293.7 94.5,292.3 92.0,287.0 C89.5,281.7 87.5,265.8 90.0,260.0Z" fill="#48CC10" stroke="#48CC10" stroke-width="4" stroke-linejoin="round" />
<path d="M122.0,327.0 C125.3,322.0 143.8,319.0 150.0,312.0 C156.2,305.0 156.2,289.5 159.0,285.0 C161.8,280.5 165.2,282.2 167.0,285.0 C168.8,287.8 172.8,294.5 170.0,302.0 C167.2,309.5 156.7,323.3 150.0,330.0 C143.3,336.7 134.7,342.5 130.0,342.0 C125.3,341.5 118.7,332.0 122.0,327.0Z" fill="#48CC10" stroke="#48CC10" stroke-width="4" stroke-linejoin="round" />
<path d="M257.0,440.0 C258.2,434.0 258.5,426.0 262.0,424.0 C265.5,422.0 270.3,426.8 278.0,428.0 C285.7,429.2 298.8,432.3 308.0,431.0 C317.2,429.7 324.7,421.3 333.0,420.0 C341.3,418.7 353.8,419.7 358.0,423.0 C362.2,426.3 362.2,437.2 358.0,440.0 C353.8,442.8 341.3,440.3 333.0,440.0 C324.7,439.7 317.2,438.7 308.0,438.0 C298.8,437.3 285.0,433.7 278.0,436.0 C271.0,438.3 269.2,445.8 266.0,452.0 C262.8,458.2 260.8,471.7 259.0,473.0 C257.2,474.3 255.3,465.5 255.0,460.0 C254.7,454.5 255.8,446.0 257.0,440.0Z" fill="#A0F078" stroke="#A0F078" stroke-width="4" stroke-linejoin="round" />
<path d="M348.0,412.0 C350.5,406.8 366.3,393.7 373.0,392.0 C379.7,390.3 387.7,397.7 388.0,402.0 C388.3,406.3 380.0,414.5 375.0,418.0 C370.0,421.5 362.5,424.0 358.0,423.0 C353.5,422.0 345.5,417.2 348.0,412.0Z" fill="#A0F078" stroke="#A0F078" stroke-width="4" stroke-linejoin="round" />
<path d="M383.0,397.0 C385.0,393.2 394.2,384.5 400.0,378.0 C405.8,371.5 414.8,360.5 418.0,358.0 C421.2,355.5 421.5,358.8 419.0,363.0 C416.5,367.2 408.2,376.7 403.0,383.0 C397.8,389.3 391.3,398.7 388.0,401.0 C384.7,403.3 381.0,400.8 383.0,397.0Z" fill="#F5A060" stroke="#F5A060" stroke-width="4" stroke-linejoin="round" />
<path d="M360.0,430.0 C362.5,424.5 375.8,415.7 383.0,417.0 C390.2,418.3 397.7,429.5 403.0,438.0 C408.3,446.5 414.2,461.0 415.0,468.0 C415.8,475.0 412.5,480.0 408.0,480.0 C403.5,480.0 394.7,473.0 388.0,468.0 C381.3,463.0 372.7,456.3 368.0,450.0 C363.3,443.7 357.5,435.5 360.0,430.0Z" fill="#A0F078" stroke="#A0F078" stroke-width="4" stroke-linejoin="round" />
<ellipse cx="437.0" cy="494.0" rx="21.0" ry="18.0" fill="#A0F078" />
<path d="M405.0,470.0 C405.3,466.7 412.7,464.3 416.0,466.0 C419.3,467.7 425.3,476.7 425.0,480.0 C424.7,483.3 417.3,487.7 414.0,486.0 C410.7,484.3 404.7,473.3 405.0,470.0Z" fill="#A0F078" stroke="#A0F078" stroke-width="4" stroke-linejoin="round" />
<path d="M248.0,507.0 C245.5,502.2 251.0,484.2 253.0,478.0 C255.0,471.8 258.0,467.7 260.0,470.0 C262.0,472.3 263.7,485.8 265.0,492.0 C266.3,498.2 270.8,504.5 268.0,507.0 C265.2,509.5 250.5,511.8 248.0,507.0Z" fill="#2E80E0" stroke="#2E80E0" stroke-width="4" stroke-linejoin="round" />
<path d="M137.0,512.0 C138.7,509.8 142.8,510.3 148.0,512.0 C153.2,513.7 165.5,518.7 168.0,522.0 C170.5,525.3 166.8,529.5 163.0,532.0 C159.2,534.5 149.2,538.2 145.0,537.0 C140.8,535.8 139.3,529.2 138.0,525.0 C136.7,520.8 135.3,514.2 137.0,512.0Z" fill="#2E80E0" stroke="#2E80E0" stroke-width="4" stroke-linejoin="round" />
<path d="M190.0,508.0 C193.3,502.3 208.3,497.7 218.0,498.0 C227.7,498.3 238.8,507.2 248.0,510.0 C257.2,512.8 263.0,514.2 273.0,515.0 C283.0,515.8 299.7,512.8 308.0,515.0 C316.3,517.2 322.2,521.8 323.0,528.0 C323.8,534.2 318.8,545.5 313.0,552.0 C307.2,558.5 296.3,564.5 288.0,567.0 C279.7,569.5 269.7,571.2 263.0,567.0 C256.3,562.8 253.8,547.8 248.0,542.0 C242.2,536.2 236.3,533.7 228.0,532.0 C219.7,530.3 204.3,536.0 198.0,532.0 C191.7,528.0 186.7,513.7 190.0,508.0Z" fill="#2E80E0" stroke="#2E80E0" stroke-width="4" stroke-linejoin="round" />
<path d="M183.0,542.0 C185.5,536.7 190.5,531.2 198.0,530.0 C205.5,528.8 219.7,531.3 228.0,535.0 C236.3,538.7 245.5,545.0 248.0,552.0 C250.5,559.0 248.0,571.2 243.0,577.0 C238.0,582.8 226.3,586.2 218.0,587.0 C209.7,587.8 198.8,586.2 193.0,582.0 C187.2,577.8 184.7,568.7 183.0,562.0 C181.3,555.3 180.5,547.3 183.0,542.0Z" fill="#2E80E0" stroke="#2E80E0" stroke-width="4" stroke-linejoin="round" />
<path d="M243.0,577.0 C244.7,572.8 258.0,569.2 263.0,570.0 C268.0,570.8 274.7,577.8 273.0,582.0 C271.3,586.2 258.0,595.8 253.0,595.0 C248.0,594.2 241.3,581.2 243.0,577.0Z" fill="#2E80E0" stroke="#2E80E0" stroke-width="4" stroke-linejoin="round" />
<path d="M273.0,577.0 C276.8,572.0 291.0,562.8 298.0,562.0 C305.0,561.2 312.5,567.0 315.0,572.0 C317.5,577.0 316.7,587.3 313.0,592.0 C309.3,596.7 299.3,600.0 293.0,600.0 C286.7,600.0 278.3,595.8 275.0,592.0 C271.7,588.2 269.2,582.0 273.0,577.0Z" fill="#2E80E0" stroke="#2E80E0" stroke-width="4" stroke-linejoin="round" />
<path d="M183.0,597.0 C185.5,592.0 190.5,588.2 198.0,587.0 C205.5,585.8 220.5,588.3 228.0,590.0 C235.5,591.7 244.7,592.8 243.0,597.0 C241.3,601.2 225.5,610.0 218.0,615.0 C210.5,620.0 203.8,626.7 198.0,627.0 C192.2,627.3 185.5,622.0 183.0,617.0 C180.5,612.0 180.5,602.0 183.0,597.0Z" fill="#2E80E0" stroke="#2E80E0" stroke-width="4" stroke-linejoin="round" />
<path d="M318.0,537.0 C319.7,530.8 323.0,523.3 328.0,525.0 C333.0,526.7 347.2,541.7 348.0,547.0 C348.8,552.3 338.0,554.5 333.0,557.0 C328.0,559.5 320.5,565.3 318.0,562.0 C315.5,558.7 316.3,543.2 318.0,537.0Z" fill="#2E80E0" stroke="#2E80E0" stroke-width="4" stroke-linejoin="round" />
<path d="M115.0,475.0 C118.0,474.3 130.0,474.3 133.0,475.0 C136.0,475.7 136.0,478.3 133.0,479.0 C130.0,479.7 118.0,479.7 115.0,479.0 C112.0,478.3 112.0,475.7 115.0,475.0Z" fill="#48CC10" stroke="#48CC10" stroke-width="4" stroke-linejoin="round" />
<circle cx="218.00" cy="491.00" r="4.00" fill="#2E80E0" />
<circle cx="333.00" cy="366.00" r="2.00" fill="#2E80E0" />
</g>
<line x1="271.10" y1="168.65" x2="271.10" y2="151.40" stroke="#000" stroke-width="0.95" />
<line x1="270.65" y1="168.20" x2="288.60" y2="168.20" stroke="#000" stroke-width="0.95" />
<path d="M269.30,151.90 L271.10,148.40 L272.90,151.90Z" fill="#000"/>
<path d="M288.10,166.40 L291.60,168.20 L288.10,170.00Z" fill="#000"/>
<text x="267.80" y="168.10" font-size="6.8" transform="rotate(-90 267.80 168.10)" stroke="#000" stroke-width="0.16" >UMAP_2</text>
<text x="270.70" y="175.00" font-size="6.8" stroke="#000" stroke-width="0.16" >UMAP_1</text>
<text x="408.20" y="82.80" font-size="6.8" stroke="#000" stroke-width="0.16" >Celltype:</text>
<circle cx="411.70" cy="90.40" r="3.10" fill="#A8E4EA" />
<text x="418.90" y="92.70" font-size="6.35" stroke="#000" stroke-width="0.16" >Fibroblast(6416)</text>
<circle cx="411.70" cy="97.76" r="3.10" fill="#2E80E0" />
<text x="418.90" y="100.06" font-size="6.35" stroke="#000" stroke-width="0.16" >Myeloid(10154)</text>
<circle cx="411.70" cy="105.12" r="3.10" fill="#A0F078" />
<text x="418.90" y="107.42" font-size="6.35" stroke="#000" stroke-width="0.16" >T/NK(4101)</text>
<circle cx="411.70" cy="112.48" r="3.10" fill="#48CC10" />
<text x="418.90" y="114.78" font-size="6.35" stroke="#000" stroke-width="0.16" >Endothelial(5422)</text>
<circle cx="411.70" cy="119.84" r="3.10" fill="#F5A060" />
<text x="418.90" y="122.14" font-size="6.35" stroke="#000" stroke-width="0.16" >B(399)</text>
<circle cx="411.70" cy="127.20" r="3.10" fill="#F85E1C" />
<text x="418.90" y="129.50" font-size="6.35" stroke="#000" stroke-width="0.16" >Epithelium(26553)</text>
<text x="453.10" y="19.70" font-size="20.5" font-weight="bold" >C</text>
<text x="482.20" y="35.50" font-size="7.55" stroke="#000" stroke-width="0.16" >nCells:26553</text>
<g transform="translate(470.00,30.00) scale(0.21896)" filter="url(#rough)">
<path d="M239.0,84.0 C240.0,79.5 249.5,62.5 254.0,62.0 C258.5,61.5 267.0,76.5 266.0,81.0 C265.0,85.5 252.5,88.5 248.0,89.0 C243.5,89.5 238.0,88.5 239.0,84.0Z" fill="#F01020" stroke="#F01020" stroke-width="3" stroke-linejoin="round" />
<path d="M190.0,189.0 C191.0,185.0 200.2,187.8 205.0,190.0 C209.8,192.2 214.7,196.7 219.0,202.0 C223.3,207.3 225.2,216.7 231.0,222.0 C236.8,227.3 245.2,231.3 254.0,234.0 C262.8,236.7 281.7,236.3 284.0,238.0 C286.3,239.7 275.0,243.7 268.0,244.0 C261.0,244.3 249.2,239.8 242.0,240.0 C234.8,240.2 226.8,242.7 225.0,245.0 C223.2,247.3 232.5,250.5 231.0,254.0 C229.5,257.5 220.3,261.2 216.0,266.0 C211.7,270.8 208.3,276.3 205.0,283.0 C201.7,289.7 199.5,300.2 196.0,306.0 C192.5,311.8 185.0,319.8 184.0,318.0 C183.0,316.2 187.0,303.7 190.0,295.0 C193.0,286.3 199.3,273.8 202.0,266.0 C204.7,258.2 204.8,253.8 206.0,248.0 C207.2,242.2 210.2,236.7 209.0,231.0 C207.8,225.3 202.2,221.0 199.0,214.0 C195.8,207.0 189.0,193.0 190.0,189.0Z" fill="#F86820" stroke="#F86820" stroke-width="1" stroke-linejoin="round" />
<path d="M214.0,244.0 C216.3,241.3 234.7,242.2 236.0,245.0 C237.3,247.8 225.7,261.2 222.0,261.0 C218.3,260.8 211.7,246.7 214.0,244.0Z" fill="#fff" stroke="#fff" stroke-width="0" stroke-linejoin="round" />
<path d="M72.0,387.0 C72.5,376.3 78.8,366.2 86.0,358.0 C93.2,349.8 104.3,342.8 115.0,338.0 C125.7,333.2 138.5,330.0 150.0,329.0 C161.5,328.0 173.5,329.2 184.0,332.0 C194.5,334.8 205.7,339.7 213.0,346.0 C220.3,352.3 227.0,362.2 228.0,370.0 C229.0,377.8 223.3,385.3 219.0,393.0 C214.7,400.7 207.8,408.8 202.0,416.0 C196.2,423.2 190.8,430.7 184.0,436.0 C177.2,441.3 169.7,445.5 161.0,448.0 C152.3,450.5 141.7,452.5 132.0,451.0 C122.3,449.5 111.2,443.8 103.0,439.0 C94.8,434.2 88.2,430.7 83.0,422.0 C77.8,413.3 71.5,397.7 72.0,387.0Z" fill="#2E80E0" stroke="#2E80E0" stroke-width="3" stroke-linejoin="round" />
<path d="M161.0,445.0 C163.8,440.8 188.7,428.0 193.0,428.0 C197.3,428.0 189.8,440.8 187.0,445.0 C184.2,449.2 180.3,453.0 176.0,453.0 C171.7,453.0 158.2,449.2 161.0,445.0Z" fill="#4030E0" stroke="#4030E0" stroke-width="2" stroke-linejoin="round" />
<path d="M409.0,184.0 C411.2,182.3 421.7,184.3 429.0,187.0 C436.3,189.7 451.8,196.7 453.0,200.0 C454.2,203.3 441.7,204.8 436.0,207.0 C430.3,209.2 422.3,214.7 419.0,213.0 C415.7,211.3 417.7,201.8 416.0,197.0 C414.3,192.2 406.8,185.7 409.0,184.0Z" fill="#F878B8" stroke="#F878B8" stroke-width="1" stroke-linejoin="round" />
<path d="M383.0,297.0 C381.8,286.5 387.0,262.8 393.0,250.0 C399.0,237.2 408.0,227.8 419.0,220.0 C430.0,212.2 445.7,206.7 459.0,203.0 C472.3,199.3 484.5,198.8 499.0,198.0 C513.5,197.2 531.5,194.8 546.0,198.0 C560.5,201.2 576.0,208.3 586.0,217.0 C596.0,225.7 601.2,240.0 606.0,250.0 C610.8,260.0 615.0,268.2 615.0,277.0 C615.0,285.8 610.8,294.2 606.0,303.0 C601.2,311.8 595.0,320.0 586.0,330.0 C577.0,340.0 563.2,357.0 552.0,363.0 C540.8,369.0 531.2,369.3 519.0,366.0 C506.8,362.7 492.3,349.7 479.0,343.0 C465.7,336.3 452.2,331.0 439.0,326.0 C425.8,321.0 409.3,317.8 400.0,313.0 C390.7,308.2 384.2,307.5 383.0,297.0Z" fill="#A0E4E8" stroke="#A0E4E8" stroke-width="3" stroke-linejoin="round" />
<path d="M383.0,297.0 C381.8,286.5 387.0,262.8 393.0,250.0 C399.0,237.2 408.0,227.8 419.0,220.0 C430.0,212.2 446.2,206.3 459.0,203.0 C471.8,199.7 486.5,194.3 496.0,200.0 C505.5,205.7 511.0,223.7 516.0,237.0 C521.0,250.3 528.8,269.0 526.0,280.0 C523.2,291.0 508.5,293.7 499.0,303.0 C489.5,312.3 479.0,332.2 469.0,336.0 C459.0,339.8 450.5,329.8 439.0,326.0 C427.5,322.2 409.3,317.8 400.0,313.0 C390.7,308.2 384.2,307.5 383.0,297.0Z" fill="#A0E4E8" stroke="#A0E4E8" stroke-width="1" stroke-linejoin="round" />
<path d="M526.0,280.0 C534.8,277.8 542.7,284.5 552.0,290.0 C561.3,295.5 576.3,306.3 582.0,313.0 C587.7,319.7 591.0,321.7 586.0,330.0 C581.0,338.3 563.2,357.0 552.0,363.0 C540.8,369.0 531.2,369.3 519.0,366.0 C506.8,362.7 487.3,348.0 479.0,343.0 C470.7,338.0 465.7,342.7 469.0,336.0 C472.3,329.3 489.5,312.3 499.0,303.0 C508.5,293.7 517.2,282.2 526.0,280.0Z" fill="#A0F078" stroke="#A0F078" stroke-width="1" stroke-linejoin="round" />
<path d="M496.0,200.0 C501.0,193.5 531.0,195.2 546.0,198.0 C561.0,200.8 576.7,208.3 586.0,217.0 C595.3,225.7 599.8,239.0 602.0,250.0 C604.2,261.0 602.8,273.0 599.0,283.0 C595.2,293.0 586.8,308.8 579.0,310.0 C571.2,311.2 560.8,295.0 552.0,290.0 C543.2,285.0 532.0,288.8 526.0,280.0 C520.0,271.2 521.0,250.3 516.0,237.0 C511.0,223.7 491.0,206.5 496.0,200.0Z" fill="#48D010" stroke="#48D010" stroke-width="1" stroke-linejoin="round" />
<path d="M599.0,250.0 C601.7,248.3 613.3,264.7 615.0,273.0 C616.7,281.3 613.3,293.8 609.0,300.0 C604.7,306.2 590.7,312.8 589.0,310.0 C587.3,307.2 597.3,293.0 599.0,283.0 C600.7,273.0 596.3,251.7 599.0,250.0Z" fill="#F878B8" stroke="#F878B8" stroke-width="1" stroke-linejoin="round" />
<circle cx="542.00" cy="260.00" r="7.00" fill="#E8A070" />
<path d="M350.0,569.0 C352.2,566.2 363.7,562.5 373.0,562.0 C382.3,561.5 395.0,564.8 406.0,566.0 C417.0,567.2 426.8,568.5 439.0,569.0 C451.2,569.5 466.8,567.3 479.0,569.0 C491.2,570.7 503.2,575.2 512.0,579.0 C520.8,582.8 530.8,588.2 532.0,592.0 C533.2,595.8 526.7,599.7 519.0,602.0 C511.3,604.3 496.0,606.0 486.0,606.0 C476.0,606.0 469.0,603.7 459.0,602.0 C449.0,600.3 438.2,598.2 426.0,596.0 C413.8,593.8 397.0,591.8 386.0,589.0 C375.0,586.2 366.0,582.3 360.0,579.0 C354.0,575.7 347.8,571.8 350.0,569.0Z" fill="#F8A868" stroke="#F8A868" stroke-width="3" stroke-linejoin="round" />
<path d="M586.0,529.0 C587.7,525.8 594.8,518.0 599.0,517.0 C603.2,516.0 610.5,520.2 611.0,523.0 C611.5,525.8 605.7,531.8 602.0,534.0 C598.3,536.2 591.7,536.8 589.0,536.0 C586.3,535.2 584.3,532.2 586.0,529.0Z" fill="#C0A8F8" stroke="#C0A8F8" stroke-width="2" stroke-linejoin="round" />
</g>
<line x1="479.90" y1="169.45" x2="479.90" y2="152.20" stroke="#000" stroke-width="0.95" />
<line x1="479.45" y1="169.00" x2="497.40" y2="169.00" stroke="#000" stroke-width="0.95" />
<path d="M478.10,152.70 L479.90,149.20 L481.70,152.70Z" fill="#000"/>
<path d="M496.90,167.20 L500.40,169.00 L496.90,170.80Z" fill="#000"/>
<text x="476.60" y="168.90" font-size="6.8" transform="rotate(-90 476.60 168.90)" stroke="#000" stroke-width="0.16" >UMAP_2</text>
<text x="479.50" y="175.80" font-size="6.8" stroke="#000" stroke-width="0.16" >UMAP_1</text>
<text x="617.00" y="68.00" font-size="6.8" stroke="#000" stroke-width="0.16" >Celltype:</text>
<circle cx="620.90" cy="75.60" r="3.10" fill="#A0E4E8" />
<text x="627.80" y="77.90" font-size="6.35" stroke="#000" stroke-width="0.16" >Epithelium_0(8544)</text>
<circle cx="620.90" cy="82.92" r="3.10" fill="#2E80E0" />
<text x="627.80" y="85.22" font-size="6.35" stroke="#000" stroke-width="0.16" >Epithelium_1(7614)</text>
<circle cx="620.90" cy="90.25" r="3.10" fill="#A0F078" />
<text x="627.80" y="92.55" font-size="6.35" stroke="#000" stroke-width="0.16" >Epithelium_2(3344)</text>
<circle cx="620.90" cy="97.57" r="3.10" fill="#48D010" />
<text x="627.80" y="99.87" font-size="6.35" stroke="#000" stroke-width="0.16" >Epithelium_3(3001)</text>
<circle cx="620.90" cy="104.90" r="3.10" fill="#F8A868" />
<text x="627.80" y="107.20" font-size="6.35" stroke="#000" stroke-width="0.16" >Epithelium_4(1944)</text>
<circle cx="620.90" cy="112.22" r="3.10" fill="#F86820" />
<text x="627.80" y="114.52" font-size="6.35" stroke="#000" stroke-width="0.16" >Epithelium_5(759)</text>
<circle cx="620.90" cy="119.55" r="3.10" fill="#F878B8" />
<text x="627.80" y="121.85" font-size="6.35" stroke="#000" stroke-width="0.16" >Epithelium_6(601)</text>
<circle cx="620.90" cy="126.88" r="3.10" fill="#F01020" />
<text x="627.80" y="129.18" font-size="6.35" stroke="#000" stroke-width="0.16" >Epithelium_7(330)</text>
<circle cx="620.90" cy="134.20" r="3.10" fill="#C0A8F8" />
<text x="627.80" y="136.50" font-size="6.35" stroke="#000" stroke-width="0.16" >Epithelium_8(254)</text>
<circle cx="620.90" cy="141.52" r="3.10" fill="#4020F0" />
<text x="627.80" y="143.82" font-size="6.35" stroke="#000" stroke-width="0.16" >Epithelium_9(162)</text>
<text x="6.10" y="215.10" font-size="20.5" font-weight="bold" >D</text>
<g transform="translate(2.70,190.00) scale(0.21896)" filter="url(#rough)">
<path d="M239.0,84.0 C240.0,79.5 249.5,62.5 254.0,62.0 C258.5,61.5 267.0,76.5 266.0,81.0 C265.0,85.5 252.5,88.5 248.0,89.0 C243.5,89.5 238.0,88.5 239.0,84.0Z" fill="#2E80E0" stroke="#2E80E0" stroke-width="3" stroke-linejoin="round" />
<path d="M190.0,189.0 C191.0,185.0 200.2,187.8 205.0,190.0 C209.8,192.2 214.7,196.7 219.0,202.0 C223.3,207.3 225.2,216.7 231.0,222.0 C236.8,227.3 245.2,231.3 254.0,234.0 C262.8,236.7 281.7,236.3 284.0,238.0 C286.3,239.7 275.0,243.7 268.0,244.0 C261.0,244.3 249.2,239.8 242.0,240.0 C234.8,240.2 226.8,242.7 225.0,245.0 C223.2,247.3 232.5,250.5 231.0,254.0 C229.5,257.5 220.3,261.2 216.0,266.0 C211.7,270.8 208.3,276.3 205.0,283.0 C201.7,289.7 199.5,300.2 196.0,306.0 C192.5,311.8 185.0,319.8 184.0,318.0 C183.0,316.2 187.0,303.7 190.0,295.0 C193.0,286.3 199.3,273.8 202.0,266.0 C204.7,258.2 204.8,253.8 206.0,248.0 C207.2,242.2 210.2,236.7 209.0,231.0 C207.8,225.3 202.2,221.0 199.0,214.0 C195.8,207.0 189.0,193.0 190.0,189.0Z" fill="#48CC10" stroke="#48CC10" stroke-width="1" stroke-linejoin="round" />
<path d="M214.0,244.0 C216.3,241.3 234.7,242.2 236.0,245.0 C237.3,247.8 225.7,261.2 222.0,261.0 C218.3,260.8 211.7,246.7 214.0,244.0Z" fill="#fff" stroke="#fff" stroke-width="0" stroke-linejoin="round" />
<path d="M72.0,387.0 C72.5,376.3 78.8,366.2 86.0,358.0 C93.2,349.8 104.3,342.8 115.0,338.0 C125.7,333.2 138.5,330.0 150.0,329.0 C161.5,328.0 173.5,329.2 184.0,332.0 C194.5,334.8 205.7,339.7 213.0,346.0 C220.3,352.3 227.0,362.2 228.0,370.0 C229.0,377.8 223.3,385.3 219.0,393.0 C214.7,400.7 207.8,408.8 202.0,416.0 C196.2,423.2 190.8,430.7 184.0,436.0 C177.2,441.3 169.7,445.5 161.0,448.0 C152.3,450.5 141.7,452.5 132.0,451.0 C122.3,449.5 111.2,443.8 103.0,439.0 C94.8,434.2 88.2,430.7 83.0,422.0 C77.8,413.3 71.5,397.7 72.0,387.0Z" fill="#A0F078" stroke="#A0F078" stroke-width="3" stroke-linejoin="round" />
<path d="M100.0,432.0 C103.3,430.7 127.5,439.3 140.0,440.0 C152.5,440.7 165.0,439.3 175.0,436.0 C185.0,432.7 195.0,420.7 200.0,420.0 C205.0,419.3 207.5,427.5 205.0,432.0 C202.5,436.5 192.5,443.7 185.0,447.0 C177.5,450.3 170.8,451.8 160.0,452.0 C149.2,452.2 130.0,451.3 120.0,448.0 C110.0,444.7 96.7,433.3 100.0,432.0Z" fill="#58D424" stroke="#58D424" stroke-width="1" stroke-linejoin="round" />
<path d="M409.0,184.0 C411.2,182.3 421.7,184.3 429.0,187.0 C436.3,189.7 451.8,196.7 453.0,200.0 C454.2,203.3 441.7,204.8 436.0,207.0 C430.3,209.2 422.3,214.7 419.0,213.0 C415.7,211.3 417.7,201.8 416.0,197.0 C414.3,192.2 406.8,185.7 409.0,184.0Z" fill="#2E80E0" stroke="#2E80E0" stroke-width="2" stroke-linejoin="round" />
<path d="M383.0,297.0 C381.8,286.5 387.0,262.8 393.0,250.0 C399.0,237.2 408.0,227.8 419.0,220.0 C430.0,212.2 445.7,206.7 459.0,203.0 C472.3,199.3 484.5,198.8 499.0,198.0 C513.5,197.2 531.5,194.8 546.0,198.0 C560.5,201.2 576.0,208.3 586.0,217.0 C596.0,225.7 601.2,240.0 606.0,250.0 C610.8,260.0 615.0,268.2 615.0,277.0 C615.0,285.8 610.8,294.2 606.0,303.0 C601.2,311.8 595.0,320.0 586.0,330.0 C577.0,340.0 563.2,357.0 552.0,363.0 C540.8,369.0 531.2,369.3 519.0,366.0 C506.8,362.7 492.3,349.7 479.0,343.0 C465.7,336.3 452.2,331.0 439.0,326.0 C425.8,321.0 409.3,317.8 400.0,313.0 C390.7,308.2 384.2,307.5 383.0,297.0Z" fill="#2E80E0" stroke="#2E80E0" stroke-width="3" stroke-linejoin="round" />
<path d="M350.0,569.0 C352.2,566.2 363.7,562.5 373.0,562.0 C382.3,561.5 395.0,564.8 406.0,566.0 C417.0,567.2 426.8,568.5 439.0,569.0 C451.2,569.5 466.8,567.3 479.0,569.0 C491.2,570.7 503.2,575.2 512.0,579.0 C520.8,582.8 530.8,588.2 532.0,592.0 C533.2,595.8 526.7,599.7 519.0,602.0 C511.3,604.3 496.0,606.0 486.0,606.0 C476.0,606.0 469.0,603.7 459.0,602.0 C449.0,600.3 438.2,598.2 426.0,596.0 C413.8,593.8 397.0,591.8 386.0,589.0 C375.0,586.2 366.0,582.3 360.0,579.0 C354.0,575.7 347.8,571.8 350.0,569.0Z" fill="#48CC10" stroke="#48CC10" stroke-width="3" stroke-linejoin="round" />
<path d="M586.0,529.0 C587.7,525.8 594.8,518.0 599.0,517.0 C603.2,516.0 610.5,520.2 611.0,523.0 C611.5,525.8 605.7,531.8 602.0,534.0 C598.3,536.2 591.7,536.8 589.0,536.0 C586.3,535.2 584.3,532.2 586.0,529.0Z" fill="#2E80E0" stroke="#2E80E0" stroke-width="2" stroke-linejoin="round" />
</g>
<line x1="12.00" y1="328.85" x2="12.00" y2="311.60" stroke="#000" stroke-width="0.95" />
<line x1="11.55" y1="328.40" x2="29.50" y2="328.40" stroke="#000" stroke-width="0.95" />
<path d="M10.20,312.10 L12.00,308.60 L13.80,312.10Z" fill="#000"/>
<path d="M29.00,326.60 L32.50,328.40 L29.00,330.20Z" fill="#000"/>
<text x="8.70" y="328.30" font-size="6.8" transform="rotate(-90 8.70 328.30)" stroke="#000" stroke-width="0.16" >UMAP_2</text>
<text x="11.60" y="335.20" font-size="6.8" stroke="#000" stroke-width="0.16" >UMAP_1</text>
<text x="179.00" y="249.60" font-size="6.6" stroke="#000" stroke-width="0.16" >Cancer_Type:</text>
<circle cx="182.50" cy="257.40" r="3.10" fill="#A8E4EA" />
<text x="189.80" y="259.70" font-size="6.35" stroke="#000" stroke-width="0.16" >pRCC(16)</text>
<circle cx="182.50" cy="264.70" r="3.10" fill="#2E80E0" />
<text x="189.80" y="267.00" font-size="6.35" stroke="#000" stroke-width="0.16" >ccRCC(15961)</text>
<circle cx="182.50" cy="272.00" r="3.10" fill="#A0F078" />
<text x="189.80" y="274.30" font-size="6.35" stroke="#000" stroke-width="0.16" >chRCC(7816)</text>
<circle cx="182.50" cy="279.30" r="3.10" fill="#48CC10" />
<text x="189.80" y="281.60" font-size="6.35" stroke="#000" stroke-width="0.16" >Normal(2760)</text>
<text x="261.60" y="215.10" font-size="20.5" font-weight="bold" >E</text>
<text x="308.80" y="194.80" font-size="7.52" stroke="#000" stroke-width="0.16" >Cytotrace_Score</text>
<g transform="translate(261.00,190.00) scale(0.21896)" filter="url(#rough)">
<path d="M239.0,84.0 C240.0,79.5 249.5,62.5 254.0,62.0 C258.5,61.5 267.0,76.5 266.0,81.0 C265.0,85.5 252.5,88.5 248.0,89.0 C243.5,89.5 238.0,88.5 239.0,84.0Z" fill="#C4204A" stroke="#C4204A" stroke-width="3" stroke-linejoin="round" />
<path d="M72.0,387.0 C72.5,376.3 78.8,366.2 86.0,358.0 C93.2,349.8 104.3,342.8 115.0,338.0 C125.7,333.2 138.5,330.0 150.0,329.0 C161.5,328.0 173.5,329.2 184.0,332.0 C194.5,334.8 205.7,339.7 213.0,346.0 C220.3,352.3 227.0,362.2 228.0,370.0 C229.0,377.8 223.3,385.3 219.0,393.0 C214.7,400.7 207.8,408.8 202.0,416.0 C196.2,423.2 190.8,430.7 184.0,436.0 C177.2,441.3 169.7,445.5 161.0,448.0 C152.3,450.5 141.7,452.5 132.0,451.0 C122.3,449.5 111.2,443.8 103.0,439.0 C94.8,434.2 88.2,430.7 83.0,422.0 C77.8,413.3 71.5,397.7 72.0,387.0Z" fill="#C4204A" stroke="#C4204A" stroke-width="3" stroke-linejoin="round" />
<path d="M383.0,297.0 C381.8,286.5 387.0,262.8 393.0,250.0 C399.0,237.2 408.0,227.8 419.0,220.0 C430.0,212.2 445.7,206.7 459.0,203.0 C472.3,199.3 484.5,198.8 499.0,198.0 C513.5,197.2 531.5,194.8 546.0,198.0 C560.5,201.2 576.0,208.3 586.0,217.0 C596.0,225.7 601.2,240.0 606.0,250.0 C610.8,260.0 615.0,268.2 615.0,277.0 C615.0,285.8 610.8,294.2 606.0,303.0 C601.2,311.8 595.0,320.0 586.0,330.0 C577.0,340.0 563.2,357.0 552.0,363.0 C540.8,369.0 531.2,369.3 519.0,366.0 C506.8,362.7 492.3,349.7 479.0,343.0 C465.7,336.3 452.2,331.0 439.0,326.0 C425.8,321.0 409.3,317.8 400.0,313.0 C390.7,308.2 384.2,307.5 383.0,297.0Z" fill="#C4204A" stroke="#C4204A" stroke-width="3" stroke-linejoin="round" />
<path d="M586.0,529.0 C587.7,525.8 594.8,518.0 599.0,517.0 C603.2,516.0 610.5,520.2 611.0,523.0 C611.5,525.8 605.7,531.8 602.0,534.0 C598.3,536.2 591.7,536.8 589.0,536.0 C586.3,535.2 584.3,532.2 586.0,529.0Z" fill="#C4204A" stroke="#C4204A" stroke-width="3" stroke-linejoin="round" />
<path d="M190.0,189.0 C191.0,185.0 200.2,187.8 205.0,190.0 C209.8,192.2 214.7,196.7 219.0,202.0 C223.3,207.3 225.2,216.7 231.0,222.0 C236.8,227.3 245.2,231.3 254.0,234.0 C262.8,236.7 281.7,236.3 284.0,238.0 C286.3,239.7 275.0,243.7 268.0,244.0 C261.0,244.3 249.2,239.8 242.0,240.0 C234.8,240.2 226.8,242.7 225.0,245.0 C223.2,247.3 232.5,250.5 231.0,254.0 C229.5,257.5 220.3,261.2 216.0,266.0 C211.7,270.8 208.3,276.3 205.0,283.0 C201.7,289.7 199.5,300.2 196.0,306.0 C192.5,311.8 185.0,319.8 184.0,318.0 C183.0,316.2 187.0,303.7 190.0,295.0 C193.0,286.3 199.3,273.8 202.0,266.0 C204.7,258.2 204.8,253.8 206.0,248.0 C207.2,242.2 210.2,236.7 209.0,231.0 C207.8,225.3 202.2,221.0 199.0,214.0 C195.8,207.0 189.0,193.0 190.0,189.0Z" fill="#E06848" stroke="#E06848" stroke-width="1" stroke-linejoin="round" />
<path d="M409.0,184.0 C411.2,182.3 421.7,184.3 429.0,187.0 C436.3,189.7 451.8,196.7 453.0,200.0 C454.2,203.3 441.7,204.8 436.0,207.0 C430.3,209.2 422.3,214.7 419.0,213.0 C415.7,211.3 417.7,201.8 416.0,197.0 C414.3,192.2 406.8,185.7 409.0,184.0Z" fill="#B8D890" stroke="#B8D890" stroke-width="1" stroke-linejoin="round" />
<path d="M214.0,244.0 C216.3,241.3 234.7,242.2 236.0,245.0 C237.3,247.8 225.7,261.2 222.0,261.0 C218.3,260.8 211.7,246.7 214.0,244.0Z" fill="#fff" stroke="#fff" stroke-width="0" stroke-linejoin="round" />
</g>
<g transform="translate(261.00,190.00) scale(0.21896)" filter="url(#speckA)">
<path d="M190.0,189.0 C191.0,185.0 200.2,187.8 205.0,190.0 C209.8,192.2 214.7,196.7 219.0,202.0 C223.3,207.3 225.2,216.7 231.0,222.0 C236.8,227.3 245.2,231.3 254.0,234.0 C262.8,236.7 281.7,236.3 284.0,238.0 C286.3,239.7 275.0,243.7 268.0,244.0 C261.0,244.3 249.2,239.8 242.0,240.0 C234.8,240.2 226.8,242.7 225.0,245.0 C223.2,247.3 232.5,250.5 231.0,254.0 C229.5,257.5 220.3,261.2 216.0,266.0 C211.7,270.8 208.3,276.3 205.0,283.0 C201.7,289.7 199.5,300.2 196.0,306.0 C192.5,311.8 185.0,319.8 184.0,318.0 C183.0,316.2 187.0,303.7 190.0,295.0 C193.0,286.3 199.3,273.8 202.0,266.0 C204.7,258.2 204.8,253.8 206.0,248.0 C207.2,242.2 210.2,236.7 209.0,231.0 C207.8,225.3 202.2,221.0 199.0,214.0 C195.8,207.0 189.0,193.0 190.0,189.0Z" fill="#fff" stroke="#fff" stroke-width="0" stroke-linejoin="round" />
<path d="M72.0,387.0 C72.5,376.3 78.8,366.2 86.0,358.0 C93.2,349.8 104.3,342.8 115.0,338.0 C125.7,333.2 138.5,330.0 150.0,329.0 C161.5,328.0 173.5,329.2 184.0,332.0 C194.5,334.8 205.7,339.7 213.0,346.0 C220.3,352.3 227.0,362.2 228.0,370.0 C229.0,377.8 223.3,385.3 219.0,393.0 C214.7,400.7 207.8,408.8 202.0,416.0 C196.2,423.2 190.8,430.7 184.0,436.0 C177.2,441.3 169.7,445.5 161.0,448.0 C152.3,450.5 141.7,452.5 132.0,451.0 C122.3,449.5 111.2,443.8 103.0,439.0 C94.8,434.2 88.2,430.7 83.0,422.0 C77.8,413.3 71.5,397.7 72.0,387.0Z" fill="#fff" stroke="#fff" stroke-width="0" stroke-linejoin="round" />
<path d="M383.0,297.0 C381.8,286.5 387.0,262.8 393.0,250.0 C399.0,237.2 408.0,227.8 419.0,220.0 C430.0,212.2 445.7,206.7 459.0,203.0 C472.3,199.3 484.5,198.8 499.0,198.0 C513.5,197.2 531.5,194.8 546.0,198.0 C560.5,201.2 576.0,208.3 586.0,217.0 C596.0,225.7 601.2,240.0 606.0,250.0 C610.8,260.0 615.0,268.2 615.0,277.0 C615.0,285.8 610.8,294.2 606.0,303.0 C601.2,311.8 595.0,320.0 586.0,330.0 C577.0,340.0 563.2,357.0 552.0,363.0 C540.8,369.0 531.2,369.3 519.0,366.0 C506.8,362.7 492.3,349.7 479.0,343.0 C465.7,336.3 452.2,331.0 439.0,326.0 C425.8,321.0 409.3,317.8 400.0,313.0 C390.7,308.2 384.2,307.5 383.0,297.0Z" fill="#fff" stroke="#fff" stroke-width="0" stroke-linejoin="round" />
</g>
<g transform="translate(261.00,190.00) scale(0.21896)" filter="url(#speckC)">
<path d="M470.0,230.0 C481.7,221.7 515.0,219.7 530.0,225.0 C545.0,230.3 558.3,248.7 560.0,262.0 C561.7,275.3 551.7,297.0 540.0,305.0 C528.3,313.0 503.3,315.0 490.0,310.0 C476.7,305.0 463.3,288.3 460.0,275.0 C456.7,261.7 458.3,238.3 470.0,230.0Z" fill="#fff" stroke="#fff" stroke-width="0" stroke-linejoin="round" />
<path d="M95.0,370.0 C100.8,357.5 135.8,346.7 150.0,350.0 C164.2,353.3 178.3,376.7 180.0,390.0 C181.7,403.3 170.8,424.2 160.0,430.0 C149.2,435.8 125.8,435.0 115.0,425.0 C104.2,415.0 89.2,382.5 95.0,370.0Z" fill="#fff" stroke="#fff" stroke-width="0" stroke-linejoin="round" />
</g>
<g transform="translate(261.00,190.00) scale(0.21896)" filter="url(#speckB)">
<path d="M520.0,212.0 C530.3,199.5 574.7,216.2 590.0,225.0 C605.3,233.8 609.3,252.5 612.0,265.0 C614.7,277.5 610.5,288.3 606.0,300.0 C601.5,311.7 595.2,325.7 585.0,335.0 C574.8,344.3 554.5,361.8 545.0,356.0 C535.5,350.2 532.2,324.0 528.0,300.0 C523.8,276.0 509.7,224.5 520.0,212.0Z" fill="#fff" stroke="#fff" stroke-width="0" stroke-linejoin="round" />
<path d="M172.0,335.0 C177.5,328.3 205.7,335.0 215.0,340.0 C224.3,345.0 227.8,355.0 228.0,365.0 C228.2,375.0 221.5,389.8 216.0,400.0 C210.5,410.2 200.7,429.3 195.0,426.0 C189.3,422.7 185.8,395.2 182.0,380.0 C178.2,364.8 166.5,341.7 172.0,335.0Z" fill="#fff" stroke="#fff" stroke-width="0" stroke-linejoin="round" />
<path d="M190.0,189.0 C191.0,185.0 200.2,187.8 205.0,190.0 C209.8,192.2 214.7,196.7 219.0,202.0 C223.3,207.3 225.2,216.7 231.0,222.0 C236.8,227.3 245.2,231.3 254.0,234.0 C262.8,236.7 281.7,236.3 284.0,238.0 C286.3,239.7 275.0,243.7 268.0,244.0 C261.0,244.3 249.2,239.8 242.0,240.0 C234.8,240.2 226.8,242.7 225.0,245.0 C223.2,247.3 232.5,250.5 231.0,254.0 C229.5,257.5 220.3,261.2 216.0,266.0 C211.7,270.8 208.3,276.3 205.0,283.0 C201.7,289.7 199.5,300.2 196.0,306.0 C192.5,311.8 185.0,319.8 184.0,318.0 C183.0,316.2 187.0,303.7 190.0,295.0 C193.0,286.3 199.3,273.8 202.0,266.0 C204.7,258.2 204.8,253.8 206.0,248.0 C207.2,242.2 210.2,236.7 209.0,231.0 C207.8,225.3 202.2,221.0 199.0,214.0 C195.8,207.0 189.0,193.0 190.0,189.0Z" fill="#fff" stroke="#fff" stroke-width="0" stroke-linejoin="round" />
<path d="M409.0,184.0 C411.2,182.3 421.7,184.3 429.0,187.0 C436.3,189.7 451.8,196.7 453.0,200.0 C454.2,203.3 441.7,204.8 436.0,207.0 C430.3,209.2 422.3,214.7 419.0,213.0 C415.7,211.3 417.7,201.8 416.0,197.0 C414.3,192.2 406.8,185.7 409.0,184.0Z" fill="#fff" stroke="#fff" stroke-width="0" stroke-linejoin="round" />
</g>
<g transform="translate(261.00,190.00) scale(0.21896)" filter="url(#rough)">
<path d="M350.0,569.0 C352.2,566.2 363.7,562.5 373.0,562.0 C382.3,561.5 395.0,564.8 406.0,566.0 C417.0,567.2 426.8,568.5 439.0,569.0 C451.2,569.5 466.8,567.3 479.0,569.0 C491.2,570.7 503.2,575.2 512.0,579.0 C520.8,582.8 530.8,588.2 532.0,592.0 C533.2,595.8 526.7,599.7 519.0,602.0 C511.3,604.3 496.0,606.0 486.0,606.0 C476.0,606.0 469.0,603.7 459.0,602.0 C449.0,600.3 438.2,598.2 426.0,596.0 C413.8,593.8 397.0,591.8 386.0,589.0 C375.0,586.2 366.0,582.3 360.0,579.0 C354.0,575.7 347.8,571.8 350.0,569.0Z" fill="#3484EC" stroke="#3484EC" stroke-width="3" stroke-linejoin="round" />
</g>
<line x1="270.80" y1="328.85" x2="270.80" y2="311.60" stroke="#000" stroke-width="0.95" />
<line x1="270.35" y1="328.40" x2="288.30" y2="328.40" stroke="#000" stroke-width="0.95" />
<path d="M269.00,312.10 L270.80,308.60 L272.60,312.10Z" fill="#000"/>
<path d="M287.80,326.60 L291.30,328.40 L287.80,330.20Z" fill="#000"/>
<text x="267.50" y="328.30" font-size="6.8" transform="rotate(-90 267.50 328.30)" stroke="#000" stroke-width="0.16" >UMAP_2</text>
<text x="270.40" y="335.20" font-size="6.8" stroke="#000" stroke-width="0.16" >UMAP_1</text>
<rect x="427.10" y="251.40" width="8.50" height="33.30" fill="url(#cyto)" />
<text x="439.10" y="261.80" font-size="6.5" stroke="#000" stroke-width="0.16" >0.75</text>
<line x1="427.10" y1="259.50" x2="428.60" y2="259.50" stroke="#444" stroke-width="0.3" />
<line x1="434.10" y1="259.50" x2="435.60" y2="259.50" stroke="#444" stroke-width="0.3" />
<text x="439.10" y="270.30" font-size="6.5" stroke="#000" stroke-width="0.16" >0.50</text>
<line x1="427.10" y1="268.00" x2="428.60" y2="268.00" stroke="#444" stroke-width="0.3" />
<line x1="434.10" y1="268.00" x2="435.60" y2="268.00" stroke="#444" stroke-width="0.3" />
<text x="439.10" y="278.80" font-size="6.5" stroke="#000" stroke-width="0.16" >0.25</text>
<line x1="427.10" y1="276.50" x2="428.60" y2="276.50" stroke="#444" stroke-width="0.3" />
<line x1="434.10" y1="276.50" x2="435.60" y2="276.50" stroke="#444" stroke-width="0.3" />
<text x="454.20" y="215.10" font-size="20.5" font-weight="bold" >F</text>
<rect x="575.40" y="203.55" width="70.20" height="5.17" fill="#D7AAA8" stroke="#A0444E" stroke-width="0.75" />
<text x="517.20" y="208.03" font-size="5.4" text-anchor="end" stroke="#000" stroke-width="0.16" >RPL3</text>
<line x1="518.20" y1="206.13" x2="519.90" y2="206.13" stroke="#000" stroke-width="0.4" />
<rect x="575.40" y="209.42" width="70.20" height="5.17" fill="#D7AAA8" stroke="#A0444E" stroke-width="0.75" />
<text x="517.20" y="213.91" font-size="5.4" text-anchor="end" stroke="#000" stroke-width="0.16" >B2M</text>
<line x1="518.20" y1="212.00" x2="519.90" y2="212.00" stroke="#000" stroke-width="0.4" />
<rect x="575.40" y="215.29" width="68.80" height="5.17" fill="#D7AAA8" stroke="#A0444E" stroke-width="0.75" />
<text x="517.20" y="219.78" font-size="5.4" text-anchor="end" stroke="#000" stroke-width="0.16" >RPS2</text>
<line x1="518.20" y1="217.88" x2="519.90" y2="217.88" stroke="#000" stroke-width="0.4" />
<rect x="575.40" y="221.16" width="67.90" height="5.17" fill="#D7AAA8" stroke="#A0444E" stroke-width="0.75" />
<text x="517.20" y="225.65" font-size="5.4" text-anchor="end" stroke="#000" stroke-width="0.16" >RPS15A</text>
<line x1="518.20" y1="223.75" x2="519.90" y2="223.75" stroke="#000" stroke-width="0.4" />
<rect x="575.40" y="227.03" width="67.40" height="5.17" fill="#D7AAA8" stroke="#A0444E" stroke-width="0.75" />
<text x="517.20" y="231.51" font-size="5.4" text-anchor="end" stroke="#000" stroke-width="0.16" >TMSB4X</text>
<line x1="518.20" y1="229.61" x2="519.90" y2="229.61" stroke="#000" stroke-width="0.4" />
<rect x="575.40" y="232.90" width="67.20" height="5.17" fill="#D7AAA8" stroke="#A0444E" stroke-width="0.75" />
<text x="517.20" y="237.38" font-size="5.4" text-anchor="end" stroke="#000" stroke-width="0.16" >RPL15</text>
<line x1="518.20" y1="235.48" x2="519.90" y2="235.48" stroke="#000" stroke-width="0.4" />
<rect x="575.40" y="238.77" width="67.20" height="5.17" fill="#D7AAA8" stroke="#A0444E" stroke-width="0.75" />
<text x="517.20" y="243.25" font-size="5.4" text-anchor="end" stroke="#000" stroke-width="0.16" >RPS14</text>
<line x1="518.20" y1="241.35" x2="519.90" y2="241.35" stroke="#000" stroke-width="0.4" />
<rect x="575.40" y="244.64" width="67.00" height="5.17" fill="#D7AAA8" stroke="#A0444E" stroke-width="0.75" />
<text x="517.20" y="249.12" font-size="5.4" text-anchor="end" stroke="#000" stroke-width="0.16" >RPS15</text>
<line x1="518.20" y1="247.22" x2="519.90" y2="247.22" stroke="#000" stroke-width="0.4" />
<rect x="575.40" y="250.51" width="66.90" height="5.17" fill="#D7AAA8" stroke="#A0444E" stroke-width="0.75" />
<text x="517.20" y="255.00" font-size="5.4" text-anchor="end" stroke="#000" stroke-width="0.16" >RPL28</text>
<line x1="518.20" y1="253.09" x2="519.90" y2="253.09" stroke="#000" stroke-width="0.4" />
<rect x="575.40" y="256.38" width="65.50" height="5.17" fill="#D7AAA8" stroke="#A0444E" stroke-width="0.75" />
<text x="517.20" y="260.86" font-size="5.4" text-anchor="end" stroke="#000" stroke-width="0.16" >RPS3</text>
<line x1="518.20" y1="258.96" x2="519.90" y2="258.96" stroke="#000" stroke-width="0.4" />
<rect x="535.20" y="262.25" width="40.20" height="5.17" fill="#AAAAE4" stroke="#4E48B8" stroke-width="0.75" />
<text x="517.20" y="266.73" font-size="5.4" text-anchor="end" stroke="#000" stroke-width="0.16" >CTXN3</text>
<line x1="518.20" y1="264.83" x2="519.90" y2="264.83" stroke="#000" stroke-width="0.4" />
<rect x="534.80" y="268.12" width="40.60" height="5.17" fill="#AAAAE4" stroke="#4E48B8" stroke-width="0.75" />
<text x="517.20" y="272.60" font-size="5.4" text-anchor="end" stroke="#000" stroke-width="0.16" >ASS1</text>
<line x1="518.20" y1="270.70" x2="519.90" y2="270.70" stroke="#000" stroke-width="0.4" />
<rect x="533.40" y="273.99" width="42.00" height="5.17" fill="#AAAAE4" stroke="#4E48B8" stroke-width="0.75" />
<text x="517.20" y="278.47" font-size="5.4" text-anchor="end" stroke="#000" stroke-width="0.16" >MT1F</text>
<line x1="518.20" y1="276.57" x2="519.90" y2="276.57" stroke="#000" stroke-width="0.4" />
<rect x="531.80" y="279.86" width="43.60" height="5.17" fill="#AAAAE4" stroke="#4E48B8" stroke-width="0.75" />
<text x="517.20" y="284.34" font-size="5.4" text-anchor="end" stroke="#000" stroke-width="0.16" >GATM</text>
<line x1="518.20" y1="282.44" x2="519.90" y2="282.44" stroke="#000" stroke-width="0.4" />
<rect x="531.70" y="285.73" width="43.70" height="5.17" fill="#AAAAE4" stroke="#4E48B8" stroke-width="0.75" />
<text x="517.20" y="290.21" font-size="5.4" text-anchor="end" stroke="#000" stroke-width="0.16" >MIOX</text>
<line x1="518.20" y1="288.31" x2="519.90" y2="288.31" stroke="#000" stroke-width="0.4" />
<rect x="529.60" y="291.60" width="45.80" height="5.17" fill="#AAAAE4" stroke="#4E48B8" stroke-width="0.75" />
<text x="517.20" y="296.08" font-size="5.4" text-anchor="end" stroke="#000" stroke-width="0.16" >FABP1</text>
<line x1="518.20" y1="294.19" x2="519.90" y2="294.19" stroke="#000" stroke-width="0.4" />
<rect x="529.40" y="297.47" width="46.00" height="5.17" fill="#AAAAE4" stroke="#4E48B8" stroke-width="0.75" />
<text x="517.20" y="301.95" font-size="5.4" text-anchor="end" stroke="#000" stroke-width="0.16" >HPD</text>
<line x1="518.20" y1="300.06" x2="519.90" y2="300.06" stroke="#000" stroke-width="0.4" />
<rect x="528.30" y="303.34" width="47.10" height="5.17" fill="#AAAAE4" stroke="#4E48B8" stroke-width="0.75" />
<text x="517.20" y="307.82" font-size="5.4" text-anchor="end" stroke="#000" stroke-width="0.16" >MT1H</text>
<line x1="518.20" y1="305.93" x2="519.90" y2="305.93" stroke="#000" stroke-width="0.4" />
<rect x="527.30" y="309.21" width="48.10" height="5.17" fill="#AAAAE4" stroke="#4E48B8" stroke-width="0.75" />
<text x="517.20" y="313.69" font-size="5.4" text-anchor="end" stroke="#000" stroke-width="0.16" >ALDOB</text>
<line x1="518.20" y1="311.80" x2="519.90" y2="311.80" stroke="#000" stroke-width="0.4" />
<rect x="525.60" y="315.08" width="49.80" height="5.17" fill="#AAAAE4" stroke="#4E48B8" stroke-width="0.75" />
<text x="517.20" y="319.56" font-size="5.4" text-anchor="end" stroke="#000" stroke-width="0.16" >MT1G</text>
<line x1="518.20" y1="317.67" x2="519.90" y2="317.67" stroke="#000" stroke-width="0.4" />
<line x1="519.90" y1="202.20" x2="519.90" y2="321.20" stroke="#000" stroke-width="0.6" />
<line x1="519.40" y1="321.00" x2="651.30" y2="321.00" stroke="#000" stroke-width="0.6" />
<line x1="519.40" y1="321.00" x2="519.40" y2="322.60" stroke="#000" stroke-width="0.4" />
<text x="519.40" y="327.30" font-size="5.5" text-anchor="middle" stroke="#000" stroke-width="0.16" >−0.5</text>
<line x1="541.80" y1="321.00" x2="541.80" y2="322.60" stroke="#000" stroke-width="0.4" />
<text x="541.80" y="327.30" font-size="5.5" text-anchor="middle" stroke="#000" stroke-width="0.16" >−0.3</text>
<line x1="564.20" y1="321.00" x2="564.20" y2="322.60" stroke="#000" stroke-width="0.4" />
<text x="564.20" y="327.30" font-size="5.5" text-anchor="middle" stroke="#000" stroke-width="0.16" >−0.1</text>
<line x1="586.60" y1="321.00" x2="586.60" y2="322.60" stroke="#000" stroke-width="0.4" />
<text x="586.60" y="327.30" font-size="5.5" text-anchor="middle" stroke="#000" stroke-width="0.16" >0.1</text>
<line x1="609.00" y1="321.00" x2="609.00" y2="322.60" stroke="#000" stroke-width="0.4" />
<text x="609.00" y="327.30" font-size="5.5" text-anchor="middle" stroke="#000" stroke-width="0.16" >0.3</text>
<line x1="631.40" y1="321.00" x2="631.40" y2="322.60" stroke="#000" stroke-width="0.4" />
<text x="631.40" y="327.30" font-size="5.5" text-anchor="middle" stroke="#000" stroke-width="0.16" >0.5</text>
<text x="585.60" y="337.20" font-size="7.1" text-anchor="middle" stroke="#000" stroke-width="0.16" >Correlation with CytoTRACE</text>
<text x="487.30" y="261.60" font-size="7.0" text-anchor="middle" transform="rotate(-90 487.30 261.60)" stroke="#000" stroke-width="0.16" >Gene</text>
<text x="7.50" y="383.50" font-size="20.5" font-weight="bold" >G</text>
<rect x="175.40" y="388.70" width="25.99" height="7.60" fill="#82ACC6" stroke="#000" stroke-width="0.85" />
<text x="165.30" y="394.90" font-size="6.88" text-anchor="end" stroke="#000" stroke-width="0.16" >Cardiac muscle contraction</text>
<line x1="167.30" y1="392.50" x2="170.00" y2="392.50" stroke="#000" stroke-width="0.55" />
<rect x="175.40" y="397.16" width="32.11" height="7.60" fill="#8F2249" stroke="#000" stroke-width="0.85" />
<text x="165.30" y="403.36" font-size="6.88" text-anchor="end" stroke="#000" stroke-width="0.16" >Phagosome</text>
<line x1="167.30" y1="400.96" x2="170.00" y2="400.96" stroke="#000" stroke-width="0.55" />
<rect x="175.40" y="405.63" width="50.46" height="7.60" fill="#5A8AAE" stroke="#000" stroke-width="0.85" />
<text x="165.30" y="411.83" font-size="6.88" text-anchor="end" stroke="#000" stroke-width="0.16" >Non−alcoholic fatty liver disease</text>
<line x1="167.30" y1="409.43" x2="170.00" y2="409.43" stroke="#000" stroke-width="0.55" />
<rect x="175.40" y="414.09" width="55.04" height="7.60" fill="#5888AC" stroke="#000" stroke-width="0.85" />
<text x="165.30" y="420.29" font-size="6.88" text-anchor="end" stroke="#000" stroke-width="0.16" >Thermogenesis</text>
<line x1="167.30" y1="417.89" x2="170.00" y2="417.89" stroke="#000" stroke-width="0.55" />
<rect x="175.40" y="422.56" width="59.63" height="7.60" fill="#5686AA" stroke="#000" stroke-width="0.85" />
<text x="165.30" y="428.76" font-size="6.88" text-anchor="end" stroke="#000" stroke-width="0.16" >Chemical carcinogenesis − reactive oxygen species</text>
<line x1="167.30" y1="426.36" x2="170.00" y2="426.36" stroke="#000" stroke-width="0.55" />
<rect x="175.40" y="431.02" width="59.63" height="7.60" fill="#5686AA" stroke="#000" stroke-width="0.85" />
<text x="165.30" y="437.22" font-size="6.88" text-anchor="end" stroke="#000" stroke-width="0.16" >Diabetic cardiomyopathy</text>
<line x1="167.30" y1="434.82" x2="170.00" y2="434.82" stroke="#000" stroke-width="0.55" />
<rect x="175.40" y="439.49" width="62.69" height="7.60" fill="#5686AA" stroke="#000" stroke-width="0.85" />
<text x="165.30" y="445.69" font-size="6.88" text-anchor="end" stroke="#000" stroke-width="0.16" >Prion disease</text>
<line x1="167.30" y1="443.29" x2="170.00" y2="443.29" stroke="#000" stroke-width="0.55" />
<rect x="175.40" y="447.95" width="65.75" height="7.60" fill="#5686AA" stroke="#000" stroke-width="0.85" />
<text x="165.30" y="454.15" font-size="6.88" text-anchor="end" stroke="#000" stroke-width="0.16" >Huntington disease</text>
<line x1="167.30" y1="451.75" x2="170.00" y2="451.75" stroke="#000" stroke-width="0.55" />
<rect x="175.40" y="456.42" width="65.75" height="7.60" fill="#5686AA" stroke="#000" stroke-width="0.85" />
<text x="165.30" y="462.62" font-size="6.88" text-anchor="end" stroke="#000" stroke-width="0.16" >Oxidative phosphorylation</text>
<line x1="167.30" y1="460.22" x2="170.00" y2="460.22" stroke="#000" stroke-width="0.55" />
<rect x="175.40" y="464.88" width="67.28" height="7.60" fill="#5686AA" stroke="#000" stroke-width="0.85" />
<text x="165.30" y="471.08" font-size="6.88" text-anchor="end" stroke="#000" stroke-width="0.16" >Alzheimer disease</text>
<line x1="167.30" y1="468.69" x2="170.00" y2="468.69" stroke="#000" stroke-width="0.55" />
<rect x="175.40" y="473.35" width="67.28" height="7.60" fill="#5686AA" stroke="#000" stroke-width="0.85" />
<text x="165.30" y="479.55" font-size="6.88" text-anchor="end" stroke="#000" stroke-width="0.16" >Amyotrophic lateral sclerosis</text>
<line x1="167.30" y1="477.15" x2="170.00" y2="477.15" stroke="#000" stroke-width="0.55" />
<rect x="175.40" y="481.81" width="68.80" height="7.60" fill="#5686AA" stroke="#000" stroke-width="0.85" />
<text x="165.30" y="488.01" font-size="6.88" text-anchor="end" stroke="#000" stroke-width="0.16" >Parkinson disease</text>
<line x1="167.30" y1="485.62" x2="170.00" y2="485.62" stroke="#000" stroke-width="0.55" />
<rect x="175.40" y="490.28" width="73.39" height="7.60" fill="#5686AA" stroke="#000" stroke-width="0.85" />
<text x="165.30" y="496.48" font-size="6.88" text-anchor="end" stroke="#000" stroke-width="0.16" >Pathways of neurodegeneration − multiple diseases</text>
<line x1="167.30" y1="494.08" x2="170.00" y2="494.08" stroke="#000" stroke-width="0.55" />
<rect x="175.40" y="498.75" width="116.20" height="7.60" fill="#5686AA" stroke="#000" stroke-width="0.85" />
<text x="165.30" y="504.94" font-size="6.88" text-anchor="end" stroke="#000" stroke-width="0.16" >Coronavirus disease − COVID−19</text>
<line x1="167.30" y1="502.55" x2="170.00" y2="502.55" stroke="#000" stroke-width="0.55" />
<rect x="175.40" y="507.21" width="117.73" height="7.60" fill="#5686AA" stroke="#000" stroke-width="0.85" />
<text x="165.30" y="513.41" font-size="6.88" text-anchor="end" stroke="#000" stroke-width="0.16" >Ribosome</text>
<line x1="167.30" y1="511.01" x2="170.00" y2="511.01" stroke="#000" stroke-width="0.55" />
<line x1="170.00" y1="386.50" x2="170.00" y2="516.10" stroke="#000" stroke-width="0.75" />
<line x1="169.60" y1="515.80" x2="298.30" y2="515.80" stroke="#000" stroke-width="0.75" />
<line x1="175.40" y1="515.80" x2="175.40" y2="518.20" stroke="#000" stroke-width="0.55" />
<text x="175.40" y="525.00" font-size="6.6" text-anchor="middle" fill="#222" stroke="#222" stroke-width="0.16" >0</text>
<line x1="205.98" y1="515.80" x2="205.98" y2="518.20" stroke="#000" stroke-width="0.55" />
<text x="205.98" y="525.00" font-size="6.6" text-anchor="middle" fill="#222" stroke="#222" stroke-width="0.16" >20</text>
<line x1="236.56" y1="515.80" x2="236.56" y2="518.20" stroke="#000" stroke-width="0.55" />
<text x="236.56" y="525.00" font-size="6.6" text-anchor="middle" fill="#222" stroke="#222" stroke-width="0.16" >40</text>
<line x1="267.14" y1="515.80" x2="267.14" y2="518.20" stroke="#000" stroke-width="0.55" />
<text x="267.14" y="525.00" font-size="6.6" text-anchor="middle" fill="#222" stroke="#222" stroke-width="0.16" >60</text>
<line x1="297.72" y1="515.80" x2="297.72" y2="518.20" stroke="#000" stroke-width="0.55" />
<text x="297.72" y="525.00" font-size="6.6" text-anchor="middle" fill="#222" stroke="#222" stroke-width="0.16" >80</text>
<text x="234.30" y="534.40" font-size="8.2" text-anchor="middle" stroke="#000" stroke-width="0.16" >Count</text>
<text x="311.80" y="419.40" font-size="8.4" stroke="#000" stroke-width="0.16" >qvalue</text>
<rect x="311.80" y="424.80" width="13.20" height="65.40" fill="url(#qv)" />
<text x="329.60" y="438.30" font-size="6.6" stroke="#000" stroke-width="0.16" >4e−07</text>
<line x1="311.80" y1="435.90" x2="314.40" y2="435.90" stroke="#fff" stroke-width="0.4" />
<line x1="322.40" y1="435.90" x2="325.00" y2="435.90" stroke="#fff" stroke-width="0.4" />
<text x="329.60" y="452.10" font-size="6.6" stroke="#000" stroke-width="0.16" >3e−07</text>
<line x1="311.80" y1="449.70" x2="314.40" y2="449.70" stroke="#fff" stroke-width="0.4" />
<line x1="322.40" y1="449.70" x2="325.00" y2="449.70" stroke="#fff" stroke-width="0.4" />
<text x="329.60" y="465.80" font-size="6.6" stroke="#000" stroke-width="0.16" >2e−07</text>
<line x1="311.80" y1="463.40" x2="314.40" y2="463.40" stroke="#fff" stroke-width="0.4" />
<line x1="322.40" y1="463.40" x2="325.00" y2="463.40" stroke="#fff" stroke-width="0.4" />
<text x="329.60" y="479.60" font-size="6.6" stroke="#000" stroke-width="0.16" >1e−07</text>
<line x1="311.80" y1="477.20" x2="314.40" y2="477.20" stroke="#fff" stroke-width="0.4" />
<line x1="322.40" y1="477.20" x2="325.00" y2="477.20" stroke="#fff" stroke-width="0.4" />
<rect x="543.20" y="388.60" width="79.24" height="7.60" fill="#98F5E1" stroke="#000" stroke-width="0.85" />
<text x="533.20" y="394.80" font-size="6.88" text-anchor="end" stroke="#000" stroke-width="0.16" >cell−substrate junction</text>
<line x1="535.40" y1="392.40" x2="538.10" y2="392.40" stroke="#000" stroke-width="0.55" />
<rect x="543.20" y="397.11" width="79.24" height="7.60" fill="#98F5E1" stroke="#000" stroke-width="0.85" />
<text x="533.20" y="403.31" font-size="6.88" text-anchor="end" stroke="#000" stroke-width="0.16" >focal adhesion</text>
<line x1="535.40" y1="400.91" x2="538.10" y2="400.91" stroke="#000" stroke-width="0.55" />
<rect x="543.20" y="405.62" width="106.12" height="7.60" fill="#98F5E1" stroke="#000" stroke-width="0.85" />
<text x="533.20" y="411.82" font-size="6.88" text-anchor="end" stroke="#000" stroke-width="0.16" >cytosolic ribosome</text>
<line x1="535.40" y1="409.42" x2="538.10" y2="409.42" stroke="#000" stroke-width="0.55" />
<rect x="543.20" y="414.13" width="110.37" height="7.60" fill="#98F5E1" stroke="#000" stroke-width="0.85" />
<text x="533.20" y="420.33" font-size="6.88" text-anchor="end" stroke="#000" stroke-width="0.16" >ribosomal subunit</text>
<line x1="535.40" y1="417.93" x2="538.10" y2="417.93" stroke="#000" stroke-width="0.55" />
<rect x="543.20" y="422.64" width="116.03" height="7.60" fill="#98F5E1" stroke="#000" stroke-width="0.85" />
<text x="533.20" y="428.84" font-size="6.88" text-anchor="end" stroke="#000" stroke-width="0.16" >ribosome</text>
<line x1="535.40" y1="426.44" x2="538.10" y2="426.44" stroke="#000" stroke-width="0.55" />
<rect x="543.20" y="431.15" width="36.79" height="7.60" fill="#5CCB8E" stroke="#000" stroke-width="0.85" />
<text x="533.20" y="437.35" font-size="6.88" text-anchor="end" stroke="#000" stroke-width="0.16" >enzyme inhibitor activity</text>
<line x1="535.40" y1="434.95" x2="538.10" y2="434.95" stroke="#000" stroke-width="0.55" />
<rect x="543.20" y="439.66" width="38.20" height="7.60" fill="#5CCB8E" stroke="#000" stroke-width="0.85" />
<text x="533.20" y="445.86" font-size="6.88" text-anchor="end" stroke="#000" stroke-width="0.16" >cadherin binding</text>
<line x1="535.40" y1="443.46" x2="538.10" y2="443.46" stroke="#000" stroke-width="0.55" />
<rect x="543.20" y="448.17" width="49.52" height="7.60" fill="#5CCB8E" stroke="#000" stroke-width="0.85" />
<text x="533.20" y="454.37" font-size="6.88" text-anchor="end" stroke="#000" stroke-width="0.16" >primary active transmembrane transporter activity</text>
<line x1="535.40" y1="451.97" x2="538.10" y2="451.97" stroke="#000" stroke-width="0.55" />
<rect x="543.20" y="456.68" width="58.02" height="7.60" fill="#5CCB8E" stroke="#000" stroke-width="0.85" />
<text x="533.20" y="462.88" font-size="6.88" text-anchor="end" stroke="#000" stroke-width="0.16" >active transmembrane transporter activity</text>
<line x1="535.40" y1="460.48" x2="538.10" y2="460.48" stroke="#000" stroke-width="0.55" />
<rect x="543.20" y="465.19" width="111.78" height="7.60" fill="#5CCB8E" stroke="#000" stroke-width="0.85" />
<text x="533.20" y="471.39" font-size="6.88" text-anchor="end" stroke="#000" stroke-width="0.16" >structural constituent of ribosome</text>
<line x1="535.40" y1="468.99" x2="538.10" y2="468.99" stroke="#000" stroke-width="0.55" />
<rect x="543.20" y="473.70" width="53.77" height="7.60" fill="#E8688F" stroke="#000" stroke-width="0.85" />
<text x="533.20" y="479.90" font-size="6.88" text-anchor="end" stroke="#000" stroke-width="0.16" >aerobic respiration</text>
<line x1="535.40" y1="477.50" x2="538.10" y2="477.50" stroke="#000" stroke-width="0.55" />
<rect x="543.20" y="482.21" width="55.19" height="7.60" fill="#E8688F" stroke="#000" stroke-width="0.85" />
<text x="533.20" y="488.41" font-size="6.88" text-anchor="end" stroke="#000" stroke-width="0.16" >cellular respiration</text>
<line x1="535.40" y1="486.01" x2="538.10" y2="486.01" stroke="#000" stroke-width="0.55" />
<rect x="543.20" y="490.72" width="56.60" height="7.60" fill="#E8688F" stroke="#000" stroke-width="0.85" />
<text x="533.20" y="496.92" font-size="6.88" text-anchor="end" stroke="#000" stroke-width="0.16" >energy derivation by oxidation of organic compounds</text>
<line x1="535.40" y1="494.52" x2="538.10" y2="494.52" stroke="#000" stroke-width="0.55" />
<rect x="543.20" y="499.23" width="69.34" height="7.60" fill="#E8688F" stroke="#000" stroke-width="0.85" />
<text x="533.20" y="505.43" font-size="6.88" text-anchor="end" stroke="#000" stroke-width="0.16" >ribonucleoprotein complex biogenesis</text>
<line x1="535.40" y1="503.03" x2="538.10" y2="503.03" stroke="#000" stroke-width="0.55" />
<rect x="543.20" y="507.74" width="117.45" height="7.60" fill="#E8688F" stroke="#000" stroke-width="0.85" />
<text x="533.20" y="513.94" font-size="6.88" text-anchor="end" stroke="#000" stroke-width="0.16" >cytoplasmic translation</text>
<line x1="535.40" y1="511.54" x2="538.10" y2="511.54" stroke="#000" stroke-width="0.55" />
<line x1="538.10" y1="386.50" x2="538.10" y2="516.40" stroke="#000" stroke-width="0.75" />
<line x1="537.70" y1="516.10" x2="665.90" y2="516.10" stroke="#000" stroke-width="0.75" />
<line x1="543.20" y1="516.10" x2="543.20" y2="518.50" stroke="#000" stroke-width="0.55" />
<text x="543.20" y="525.20" font-size="6.6" text-anchor="middle" fill="#222" stroke="#222" stroke-width="0.16" >0</text>
<line x1="571.50" y1="516.10" x2="571.50" y2="518.50" stroke="#000" stroke-width="0.55" />
<text x="571.50" y="525.20" font-size="6.6" text-anchor="middle" fill="#222" stroke="#222" stroke-width="0.16" >20</text>
<line x1="599.80" y1="516.10" x2="599.80" y2="518.50" stroke="#000" stroke-width="0.55" />
<text x="599.80" y="525.20" font-size="6.6" text-anchor="middle" fill="#222" stroke="#222" stroke-width="0.16" >40</text>
<line x1="628.10" y1="516.10" x2="628.10" y2="518.50" stroke="#000" stroke-width="0.55" />
<text x="628.10" y="525.20" font-size="6.6" text-anchor="middle" fill="#222" stroke="#222" stroke-width="0.16" >60</text>
<line x1="656.40" y1="516.10" x2="656.40" y2="518.50" stroke="#000" stroke-width="0.55" />
<text x="656.40" y="525.20" font-size="6.6" text-anchor="middle" fill="#222" stroke="#222" stroke-width="0.16" >80</text>
<text x="602.00" y="534.80" font-size="8.2" text-anchor="middle" stroke="#000" stroke-width="0.16" >Count</text>
<text x="482.00" y="371.00" font-size="8.45" stroke="#000" stroke-width="0.16" >ONTOLOGY</text>
<rect x="535.20" y="362.40" width="11.60" height="11.60" fill="#E8688F" stroke="#111" stroke-width="0.7" />
<text x="551.60" y="370.20" font-size="6.6" fill="#222" stroke="#222" stroke-width="0.16" >BP</text>
<rect x="566.10" y="362.40" width="11.60" height="11.60" fill="#98F5E1" stroke="#111" stroke-width="0.7" />
<text x="582.80" y="370.20" font-size="6.6" fill="#222" stroke="#222" stroke-width="0.16" >CC</text>
<rect x="597.30" y="362.40" width="11.60" height="11.60" fill="#5CCB8E" stroke="#111" stroke-width="0.7" />
<text x="614.20" y="370.20" font-size="6.6" fill="#222" stroke="#222" stroke-width="0.16" >MF</text>
<text x="8.30" y="542.30" font-size="20.5" font-weight="bold" >H</text>
<text x="77.20" y="551.90" font-size="6.75" font-weight="bold" clip-path="url(#clipVC)">Variant Classification</text>
<line x1="77.00" y1="562.00" x2="77.00" y2="645.80" stroke="#E6EAEA" stroke-width="0.5" />
<line x1="91.85" y1="562.00" x2="91.85" y2="645.80" stroke="#E6EAEA" stroke-width="0.5" />
<line x1="106.70" y1="562.00" x2="106.70" y2="645.80" stroke="#E6EAEA" stroke-width="0.5" />
<line x1="121.55" y1="562.00" x2="121.55" y2="645.80" stroke="#E6EAEA" stroke-width="0.5" />
<line x1="136.40" y1="562.00" x2="136.40" y2="645.80" stroke="#E6EAEA" stroke-width="0.5" />
<rect x="77.00" y="565.20" width="53.76" height="7.00" fill="#50D810" />
<text x="73.30" y="571.00" font-size="6.75" text-anchor="end" font-style="italic" stroke="#000" stroke-width="0.16" >Missense_Mutation</text>
<rect x="77.00" y="573.96" width="6.09" height="7.00" fill="#3088E8" />
<text x="73.30" y="579.76" font-size="6.75" text-anchor="end" font-style="italic" stroke="#000" stroke-width="0.16" >Frame_Shift_Del</text>
<rect x="77.00" y="582.72" width="3.27" height="7.00" fill="#F86428" />
<text x="73.30" y="588.52" font-size="6.75" text-anchor="end" font-style="italic" stroke="#000" stroke-width="0.16" >Splice_Site</text>
<rect x="77.00" y="591.48" width="2.82" height="7.00" fill="#5038F0" />
<text x="73.30" y="597.28" font-size="6.75" text-anchor="end" font-style="italic" stroke="#000" stroke-width="0.16" >Frame_Shift_Ins</text>
<rect x="77.00" y="600.24" width="2.23" height="7.00" fill="#F01828" />
<text x="73.30" y="606.04" font-size="6.75" text-anchor="end" font-style="italic" stroke="#000" stroke-width="0.16" >Nonsense_Mutation</text>
<rect x="77.00" y="609.00" width="1.19" height="7.00" fill="#F6F68C" />
<text x="73.30" y="614.80" font-size="6.75" text-anchor="end" font-style="italic" stroke="#000" stroke-width="0.16" >In_Frame_Del</text>
<rect x="77.00" y="617.76" width="0.70" height="7.00" fill="#D8A8D8" />
<text x="73.30" y="623.56" font-size="6.75" text-anchor="end" font-style="italic" stroke="#000" stroke-width="0.16" >In_Frame_Ins</text>
<rect x="77.00" y="626.52" width="0.70" height="7.00" fill="#F0A8B8" />
<text x="73.30" y="632.32" font-size="6.75" text-anchor="end" font-style="italic" stroke="#000" stroke-width="0.16" >Translation_Start_Site</text>
<rect x="77.00" y="635.28" width="0.70" height="7.00" fill="#C8F0F0" />
<text x="73.30" y="641.08" font-size="6.75" text-anchor="end" font-style="italic" stroke="#000" stroke-width="0.16" >Nonstop_Mutation</text>
<line x1="76.60" y1="645.80" x2="136.80" y2="645.80" stroke="#000" stroke-width="0.85" />
<line x1="77.00" y1="645.80" x2="77.00" y2="649.20" stroke="#000" stroke-width="0.85" />
<text x="79.10" y="652.40" font-size="5.9" text-anchor="end" font-style="italic" transform="rotate(-90 79.10 652.40)" stroke="#000" stroke-width="0.16" >0</text>
<line x1="91.85" y1="645.80" x2="91.85" y2="649.20" stroke="#000" stroke-width="0.85" />
<text x="93.95" y="652.40" font-size="5.9" text-anchor="end" font-style="italic" transform="rotate(-90 93.95 652.40)" stroke="#000" stroke-width="0.16" >100</text>
<line x1="106.70" y1="645.80" x2="106.70" y2="649.20" stroke="#000" stroke-width="0.85" />
<text x="108.80" y="652.40" font-size="5.9" text-anchor="end" font-style="italic" transform="rotate(-90 108.80 652.40)" stroke="#000" stroke-width="0.16" >200</text>
<line x1="121.55" y1="645.80" x2="121.55" y2="649.20" stroke="#000" stroke-width="0.85" />
<text x="123.65" y="652.40" font-size="5.9" text-anchor="end" font-style="italic" transform="rotate(-90 123.65 652.40)" stroke="#000" stroke-width="0.16" >300</text>
<line x1="136.40" y1="645.80" x2="136.40" y2="649.20" stroke="#000" stroke-width="0.85" />
<text x="138.50" y="652.40" font-size="5.9" text-anchor="end" font-style="italic" transform="rotate(-90 138.50 652.40)" stroke="#000" stroke-width="0.16" >400</text>
<text x="168.30" y="552.20" font-size="6.75" font-weight="bold" >Variant Type</text>
<line x1="168.30" y1="562.00" x2="168.30" y2="645.90" stroke="#E6EAEA" stroke-width="0.5" />
<line x1="183.50" y1="562.00" x2="183.50" y2="645.90" stroke="#E6EAEA" stroke-width="0.5" />
<line x1="198.70" y1="562.00" x2="198.70" y2="645.90" stroke="#E6EAEA" stroke-width="0.5" />
<line x1="213.90" y1="562.00" x2="213.90" y2="645.90" stroke="#E6EAEA" stroke-width="0.5" />
<line x1="229.10" y1="562.00" x2="229.10" y2="645.90" stroke="#E6EAEA" stroke-width="0.5" />
<rect x="168.30" y="565.40" width="59.89" height="21.90" fill="#B4B8F4" />
<text x="162.00" y="578.65" font-size="6.75" text-anchor="end" font-style="italic" stroke="#000" stroke-width="0.16" >SNP</text>
<rect x="168.30" y="592.60" width="3.50" height="21.90" fill="#F4F4A8" />
<text x="162.00" y="605.85" font-size="6.75" text-anchor="end" font-style="italic" stroke="#000" stroke-width="0.16" >INS</text>
<rect x="168.30" y="619.40" width="10.18" height="22.20" fill="#88F0B0" />
<text x="162.00" y="632.80" font-size="6.75" text-anchor="end" font-style="italic" stroke="#000" stroke-width="0.16" >DEL</text>
<line x1="167.90" y1="645.90" x2="229.50" y2="645.90" stroke="#000" stroke-width="0.85" />
<line x1="168.30" y1="645.90" x2="168.30" y2="649.30" stroke="#000" stroke-width="0.85" />
<text x="170.40" y="652.40" font-size="5.9" text-anchor="end" font-style="italic" transform="rotate(-90 170.40 652.40)" stroke="#000" stroke-width="0.16" >0</text>
<line x1="183.50" y1="645.90" x2="183.50" y2="649.30" stroke="#000" stroke-width="0.85" />
<text x="185.60" y="652.40" font-size="5.9" text-anchor="end" font-style="italic" transform="rotate(-90 185.60 652.40)" stroke="#000" stroke-width="0.16" >100</text>
<line x1="198.70" y1="645.90" x2="198.70" y2="649.30" stroke="#000" stroke-width="0.85" />
<text x="200.80" y="652.40" font-size="5.9" text-anchor="end" font-style="italic" transform="rotate(-90 200.80 652.40)" stroke="#000" stroke-width="0.16" >200</text>
<line x1="213.90" y1="645.90" x2="213.90" y2="649.30" stroke="#000" stroke-width="0.85" />
<text x="216.00" y="652.40" font-size="5.9" text-anchor="end" font-style="italic" transform="rotate(-90 216.00 652.40)" stroke="#000" stroke-width="0.16" >300</text>
<line x1="229.10" y1="645.90" x2="229.10" y2="649.30" stroke="#000" stroke-width="0.85" />
<text x="231.20" y="652.40" font-size="5.9" text-anchor="end" font-style="italic" transform="rotate(-90 231.20 652.40)" stroke="#000" stroke-width="0.16" >400</text>
<text x="262.00" y="552.20" font-size="6.75" font-weight="bold" >SNV Class</text>
<line x1="262.00" y1="562.00" x2="262.00" y2="645.90" stroke="#E6EAEA" stroke-width="0.5" />
<line x1="277.20" y1="562.00" x2="277.20" y2="645.90" stroke="#E6EAEA" stroke-width="0.5" />
<line x1="292.40" y1="562.00" x2="292.40" y2="645.90" stroke="#E6EAEA" stroke-width="0.5" />
<line x1="307.60" y1="562.00" x2="307.60" y2="645.90" stroke="#E6EAEA" stroke-width="0.5" />
<line x1="322.80" y1="562.00" x2="322.80" y2="645.90" stroke="#E6EAEA" stroke-width="0.5" />
<rect x="262.00" y="565.40" width="4.90" height="10.30" fill="#F57C18" />
<text x="254.70" y="572.90" font-size="6.75" text-anchor="end" font-style="italic" stroke="#000" stroke-width="0.16" >T&gt;G</text>
<text x="269.10" y="572.90" font-size="6.4" font-weight="bold" font-style="italic" >43</text>
<rect x="262.00" y="578.54" width="6.72" height="10.30" fill="#58EE30" />
<text x="254.70" y="586.04" font-size="6.75" text-anchor="end" font-style="italic" stroke="#000" stroke-width="0.16" >T&gt;A</text>
<text x="270.92" y="586.04" font-size="6.4" font-weight="bold" font-style="italic" >59</text>
<rect x="262.00" y="591.68" width="13.44" height="10.30" fill="#F8A820" />
<text x="254.70" y="599.18" font-size="6.75" text-anchor="end" font-style="italic" stroke="#000" stroke-width="0.16" >T&gt;C</text>
<text x="277.64" y="599.18" font-size="6.4" font-weight="bold" font-style="italic" >118</text>
<rect x="262.00" y="604.82" width="20.49" height="10.30" fill="#F02848" />
<text x="254.70" y="612.32" font-size="6.75" text-anchor="end" font-style="italic" stroke="#000" stroke-width="0.16" >C&gt;T</text>
<text x="284.69" y="612.32" font-size="6.4" font-weight="bold" font-style="italic" >180</text>
<rect x="262.00" y="617.96" width="5.92" height="10.30" fill="#3048F0" />
<text x="254.70" y="625.46" font-size="6.75" text-anchor="end" font-style="italic" stroke="#000" stroke-width="0.16" >C&gt;G</text>
<text x="270.12" y="625.46" font-size="6.4" font-weight="bold" font-style="italic" >52</text>
<rect x="262.00" y="631.10" width="9.34" height="10.30" fill="#40A8F0" />
<text x="254.70" y="638.60" font-size="6.75" text-anchor="end" font-style="italic" stroke="#000" stroke-width="0.16" >C&gt;A</text>
<text x="273.54" y="638.60" font-size="6.4" font-weight="bold" font-style="italic" >82</text>
<line x1="261.60" y1="645.90" x2="323.20" y2="645.90" stroke="#000" stroke-width="0.85" />
<line x1="262.00" y1="645.90" x2="262.00" y2="649.30" stroke="#000" stroke-width="0.85" />
<text x="264.10" y="652.60" font-size="5.9" text-anchor="end" font-style="italic" transform="rotate(-90 264.10 652.60)" stroke="#000" stroke-width="0.16" >0.00</text>
<line x1="277.20" y1="645.90" x2="277.20" y2="649.30" stroke="#000" stroke-width="0.85" />
<text x="279.30" y="652.60" font-size="5.9" text-anchor="end" font-style="italic" transform="rotate(-90 279.30 652.60)" stroke="#000" stroke-width="0.16" >0.25</text>
<line x1="292.40" y1="645.90" x2="292.40" y2="649.30" stroke="#000" stroke-width="0.85" />
<text x="294.50" y="652.60" font-size="5.9" text-anchor="end" font-style="italic" transform="rotate(-90 294.50 652.60)" stroke="#000" stroke-width="0.16" >0.50</text>
<line x1="307.60" y1="645.90" x2="307.60" y2="649.30" stroke="#000" stroke-width="0.85" />
<text x="309.70" y="652.60" font-size="5.9" text-anchor="end" font-style="italic" transform="rotate(-90 309.70 652.60)" stroke="#000" stroke-width="0.16" >0.75</text>
<line x1="322.80" y1="645.90" x2="322.80" y2="649.30" stroke="#000" stroke-width="0.85" />
<text x="324.90" y="652.60" font-size="5.9" text-anchor="end" font-style="italic" transform="rotate(-90 324.90 652.60)" stroke="#000" stroke-width="0.16" >1.00</text>
<text x="20.80" y="677.80" font-size="6.75" font-weight="bold" >Variants per sample</text>
<text x="20.80" y="685.60" font-size="4.6" font-weight="bold" >Median: 1</text>
<line x1="22.60" y1="693.10" x2="22.60" y2="757.80" stroke="#000" stroke-width="0.9" />
<line x1="19.40" y1="693.48" x2="22.60" y2="693.48" stroke="#000" stroke-width="0.9" />
<text x="16.20" y="695.88" font-size="6.6" text-anchor="end" font-style="italic" stroke="#000" stroke-width="0.16" >8</text>
<line x1="19.40" y1="717.45" x2="22.60" y2="717.45" stroke="#000" stroke-width="0.9" />
<text x="16.20" y="719.85" font-size="6.6" text-anchor="end" font-style="italic" stroke="#000" stroke-width="0.16" >5</text>
<line x1="19.40" y1="741.42" x2="22.60" y2="741.42" stroke="#000" stroke-width="0.9" />
<text x="16.20" y="743.82" font-size="6.6" text-anchor="end" font-style="italic" stroke="#000" stroke-width="0.16" >2</text>
<line x1="19.40" y1="757.40" x2="22.60" y2="757.40" stroke="#000" stroke-width="0.9" />
<text x="16.20" y="759.80" font-size="6.6" text-anchor="end" font-style="italic" stroke="#000" stroke-width="0.16" >0</text>
<rect x="24.50" y="693.48" width="1.04" height="63.92" fill="#50D810" />
<rect x="24.50" y="693.48" width="1.04" height="63.92" fill="#E8E8D0" opacity="0.55"/>
<rect x="25.46" y="717.45" width="1.04" height="39.95" fill="#50D810" />
<rect x="26.43" y="725.44" width="1.04" height="31.96" fill="#50D810" />
<rect x="27.39" y="733.43" width="1.04" height="23.97" fill="#50D810" />
<rect x="27.39" y="733.43" width="1.04" height="23.97" fill="#F86428" opacity="0.55"/>
<rect x="28.35" y="733.43" width="1.04" height="23.97" fill="#50D810" />
<rect x="28.35" y="733.43" width="1.04" height="23.97" fill="#F6F68C" opacity="0.55"/>
<rect x="29.32" y="733.43" width="1.04" height="23.97" fill="#50D810" />
<rect x="30.28" y="733.43" width="1.04" height="23.97" fill="#50D810" />
<rect x="31.24" y="733.43" width="1.04" height="23.97" fill="#50D810" />
<rect x="32.21" y="741.42" width="1.04" height="15.98" fill="#50D810" />
<rect x="33.17" y="741.42" width="1.04" height="15.98" fill="#50D810" />
<rect x="33.17" y="741.42" width="1.04" height="15.98" fill="#5038F0" opacity="0.55"/>
<rect x="34.13" y="741.42" width="1.04" height="15.98" fill="#50D810" />
<rect x="35.09" y="741.42" width="1.04" height="15.98" fill="#50D810" />
<rect x="36.06" y="741.42" width="1.04" height="15.98" fill="#50D810" />
<rect x="37.02" y="741.42" width="1.04" height="15.98" fill="#50D810" />
<rect x="37.98" y="741.42" width="1.04" height="15.98" fill="#50D810" />
<rect x="38.95" y="741.42" width="1.04" height="15.98" fill="#50D810" />
<rect x="38.95" y="741.42" width="1.04" height="15.98" fill="#F86428" opacity="0.55"/>
<rect x="39.91" y="741.42" width="1.04" height="15.98" fill="#50D810" />
<rect x="40.87" y="741.42" width="1.04" height="15.98" fill="#50D810" />
<rect x="41.84" y="741.42" width="1.04" height="15.98" fill="#50D810" />
<rect x="42.80" y="741.42" width="1.04" height="15.98" fill="#50D810" />
<rect x="42.80" y="741.42" width="1.04" height="15.98" fill="#F01828" opacity="0.55"/>
<rect x="43.76" y="741.42" width="1.04" height="15.98" fill="#50D810" />
<rect x="44.73" y="741.42" width="1.04" height="15.98" fill="#50D810" />
<rect x="45.69" y="741.42" width="1.04" height="15.98" fill="#50D810" />
<rect x="46.65" y="741.42" width="1.04" height="15.98" fill="#50D810" />
<rect x="47.62" y="741.42" width="1.04" height="15.98" fill="#50D810" />
<rect x="48.58" y="741.42" width="1.04" height="15.98" fill="#50D810" />
<rect x="49.54" y="741.42" width="1.04" height="15.98" fill="#50D810" />
<rect x="50.51" y="741.42" width="1.04" height="15.98" fill="#50D810" />
<rect x="51.47" y="749.41" width="1.04" height="7.99" fill="#50D810" />
<rect x="52.43" y="749.41" width="1.04" height="7.99" fill="#50D810" />
<rect x="53.39" y="749.41" width="1.04" height="7.99" fill="#50D810" />
<rect x="54.36" y="749.41" width="1.04" height="7.99" fill="#50D810" />
<rect x="55.32" y="749.41" width="1.04" height="7.99" fill="#50D810" />
<rect x="56.28" y="749.41" width="1.04" height="7.99" fill="#50D810" />
<rect x="56.28" y="749.41" width="1.04" height="7.99" fill="#3088E8" opacity="0.55"/>
<rect x="57.25" y="749.41" width="1.04" height="7.99" fill="#50D810" />
<rect x="57.25" y="749.41" width="1.04" height="7.99" fill="#3088E8" opacity="0.55"/>
<rect x="58.21" y="749.41" width="1.04" height="7.99" fill="#50D810" />
<rect x="58.21" y="749.41" width="1.04" height="7.99" fill="#5038F0" opacity="0.55"/>
<rect x="59.17" y="749.41" width="1.04" height="7.99" fill="#50D810" />
<rect x="60.14" y="749.41" width="1.04" height="7.99" fill="#50D810" />
<rect x="61.10" y="749.41" width="1.04" height="7.99" fill="#50D810" />
<rect x="62.06" y="749.41" width="1.04" height="7.99" fill="#50D810" />
<rect x="63.03" y="749.41" width="1.04" height="7.99" fill="#50D810" />
<rect x="63.99" y="749.41" width="1.04" height="7.99" fill="#50D810" />
<rect x="64.95" y="749.41" width="1.04" height="7.99" fill="#50D810" />
<rect x="65.92" y="749.41" width="1.04" height="7.99" fill="#50D810" />
<rect x="66.88" y="749.41" width="1.04" height="7.99" fill="#50D810" />
<rect x="67.84" y="749.41" width="1.04" height="7.99" fill="#50D810" />
<rect x="67.84" y="749.41" width="1.04" height="7.99" fill="#3088E8" opacity="0.55"/>
<rect x="68.81" y="749.41" width="1.04" height="7.99" fill="#50D810" />
<rect x="69.77" y="749.41" width="1.04" height="7.99" fill="#50D810" />
<rect x="69.77" y="749.41" width="1.04" height="7.99" fill="#F01828" opacity="0.55"/>
<rect x="70.73" y="749.41" width="1.04" height="7.99" fill="#50D810" />
<rect x="71.69" y="749.41" width="1.04" height="7.99" fill="#50D810" />
<rect x="72.66" y="749.41" width="1.04" height="7.99" fill="#50D810" />
<rect x="73.62" y="749.41" width="1.04" height="7.99" fill="#50D810" />
<rect x="74.58" y="749.41" width="1.04" height="7.99" fill="#50D810" />
<rect x="74.58" y="749.41" width="1.04" height="7.99" fill="#F6F68C" opacity="0.55"/>
<rect x="75.55" y="749.41" width="1.04" height="7.99" fill="#50D810" />
<rect x="76.51" y="749.41" width="1.04" height="7.99" fill="#50D810" />
<rect x="77.47" y="749.41" width="1.04" height="7.99" fill="#50D810" />
<rect x="78.44" y="749.41" width="1.04" height="7.99" fill="#50D810" />
<rect x="79.40" y="749.41" width="1.04" height="7.99" fill="#50D810" />
<rect x="79.40" y="749.41" width="1.04" height="7.99" fill="#F86428" opacity="0.55"/>
<rect x="80.36" y="749.41" width="1.04" height="7.99" fill="#50D810" />
<rect x="81.33" y="749.41" width="1.04" height="7.99" fill="#50D810" />
<rect x="82.29" y="749.41" width="1.04" height="7.99" fill="#50D810" />
<rect x="83.25" y="749.41" width="1.04" height="7.99" fill="#50D810" />
<rect x="84.22" y="749.41" width="1.04" height="7.99" fill="#50D810" />
<rect x="85.18" y="749.41" width="1.04" height="7.99" fill="#50D810" />
<rect x="85.18" y="749.41" width="1.04" height="7.99" fill="#3088E8" opacity="0.55"/>
<rect x="86.14" y="749.41" width="1.04" height="7.99" fill="#50D810" />
<rect x="87.11" y="749.41" width="1.04" height="7.99" fill="#50D810" />
<rect x="87.11" y="749.41" width="1.04" height="7.99" fill="#3088E8" opacity="0.55"/>
<rect x="88.07" y="749.41" width="1.04" height="7.99" fill="#50D810" />
<rect x="89.03" y="749.41" width="1.04" height="7.99" fill="#50D810" />
<rect x="89.99" y="749.41" width="1.04" height="7.99" fill="#50D810" />
<rect x="89.99" y="749.41" width="1.04" height="7.99" fill="#3088E8" opacity="0.55"/>
<rect x="90.96" y="749.41" width="1.04" height="7.99" fill="#50D810" />
<rect x="91.92" y="749.41" width="1.04" height="7.99" fill="#50D810" />
<rect x="91.92" y="749.41" width="1.04" height="7.99" fill="#F6F68C" opacity="0.55"/>
<rect x="92.88" y="749.41" width="1.04" height="7.99" fill="#50D810" />
<rect x="92.88" y="749.41" width="1.04" height="7.99" fill="#3088E8" opacity="0.55"/>
<rect x="93.85" y="749.41" width="1.04" height="7.99" fill="#50D810" />
<rect x="94.81" y="749.41" width="1.04" height="7.99" fill="#50D810" />
<rect x="95.77" y="749.41" width="1.04" height="7.99" fill="#50D810" />
<rect x="95.77" y="749.41" width="1.04" height="7.99" fill="#F86428" opacity="0.55"/>
<rect x="96.74" y="749.41" width="1.04" height="7.99" fill="#50D810" />
<rect x="97.70" y="749.41" width="1.04" height="7.99" fill="#50D810" />
<rect x="98.66" y="749.41" width="1.04" height="7.99" fill="#50D810" />
<rect x="98.66" y="749.41" width="1.04" height="7.99" fill="#F6F68C" opacity="0.55"/>
<rect x="99.63" y="749.41" width="1.04" height="7.99" fill="#50D810" />
<rect x="99.63" y="749.41" width="1.04" height="7.99" fill="#3088E8" opacity="0.55"/>
<rect x="100.59" y="749.41" width="1.04" height="7.99" fill="#50D810" />
<rect x="101.55" y="749.41" width="1.04" height="7.99" fill="#50D810" />
<rect x="102.52" y="749.41" width="1.04" height="7.99" fill="#50D810" />
<rect x="103.48" y="749.41" width="1.04" height="7.99" fill="#50D810" />
<rect x="103.48" y="749.41" width="1.04" height="7.99" fill="#F6F68C" opacity="0.55"/>
<rect x="104.44" y="749.41" width="1.04" height="7.99" fill="#50D810" />
<rect x="105.41" y="749.41" width="1.04" height="7.99" fill="#50D810" />
<rect x="106.37" y="749.41" width="1.04" height="7.99" fill="#50D810" />
<rect x="107.33" y="749.41" width="1.04" height="7.99" fill="#50D810" />
<rect x="108.29" y="749.41" width="1.04" height="7.99" fill="#50D810" />
<rect x="109.26" y="749.41" width="1.04" height="7.99" fill="#50D810" />
<rect x="109.26" y="749.41" width="1.04" height="7.99" fill="#F86428" opacity="0.55"/>
<rect x="110.22" y="749.41" width="1.04" height="7.99" fill="#50D810" />
<rect x="111.18" y="749.41" width="1.04" height="7.99" fill="#50D810" />
<rect x="112.15" y="749.41" width="1.04" height="7.99" fill="#50D810" />
<rect x="112.15" y="749.41" width="1.04" height="7.99" fill="#F01828" opacity="0.55"/>
<rect x="113.11" y="749.41" width="1.04" height="7.99" fill="#50D810" />
<rect x="114.07" y="749.41" width="1.04" height="7.99" fill="#50D810" />
<rect x="114.07" y="749.41" width="1.04" height="7.99" fill="#F86428" opacity="0.55"/>
<rect x="115.04" y="749.41" width="1.04" height="7.99" fill="#50D810" />
<line x1="24.50" y1="749.50" x2="132.50" y2="749.50" stroke="#B03070" stroke-width="0.6" stroke-dasharray="2.2 2.2"/>
<text x="160.40" y="678.10" font-size="6.75" font-weight="bold" >Variant Classification</text>
<text x="160.40" y="685.70" font-size="6.75" font-weight="bold" >summary</text>
<line x1="166.40" y1="695.70" x2="166.40" y2="755.50" stroke="#E6EAEA" stroke-width="0.5" />
<line x1="173.50" y1="695.70" x2="173.50" y2="755.50" stroke="#E6EAEA" stroke-width="0.5" />
<line x1="180.60" y1="695.70" x2="180.60" y2="755.50" stroke="#E6EAEA" stroke-width="0.5" />
<line x1="187.70" y1="695.70" x2="187.70" y2="755.50" stroke="#E6EAEA" stroke-width="0.5" />
<line x1="194.80" y1="695.70" x2="194.80" y2="755.50" stroke="#E6EAEA" stroke-width="0.5" />
<line x1="201.90" y1="695.70" x2="201.90" y2="755.50" stroke="#E6EAEA" stroke-width="0.5" />
<line x1="209.00" y1="695.70" x2="209.00" y2="755.50" stroke="#E6EAEA" stroke-width="0.5" />
<line x1="216.10" y1="695.70" x2="216.10" y2="755.50" stroke="#E6EAEA" stroke-width="0.5" />
<line x1="223.20" y1="695.70" x2="223.20" y2="755.50" stroke="#E6EAEA" stroke-width="0.5" />
<line x1="160.40" y1="695.70" x2="229.00" y2="695.70" stroke="#E6EAEA" stroke-width="0.5" />
<line x1="160.40" y1="725.60" x2="229.00" y2="725.60" stroke="#E6EAEA" stroke-width="0.5" />
<line x1="160.40" y1="695.30" x2="160.40" y2="755.90" stroke="#000" stroke-width="0.9" />
<line x1="157.20" y1="695.70" x2="160.40" y2="695.70" stroke="#000" stroke-width="0.9" />
<text x="153.20" y="698.10" font-size="6.6" text-anchor="end" font-style="italic" stroke="#000" stroke-width="0.16" >2</text>
<line x1="157.20" y1="725.60" x2="160.40" y2="725.60" stroke="#000" stroke-width="0.9" />
<text x="153.20" y="728.00" font-size="6.6" text-anchor="end" font-style="italic" stroke="#000" stroke-width="0.16" >1</text>
<line x1="157.20" y1="755.50" x2="160.40" y2="755.50" stroke="#000" stroke-width="0.9" />
<text x="153.20" y="757.90" font-size="6.6" text-anchor="end" font-style="italic" stroke="#000" stroke-width="0.16" >0</text>
<line x1="166.40" y1="695.70" x2="166.40" y2="725.00" stroke="#50D810" stroke-width="0.8" />
<rect x="163.40" y="725.20" width="6.20" height="30.30" fill="#D2D6D2" stroke="#50D810" stroke-width="0.9" rx="1"/>
<rect x="171.40" y="754.20" width="5.20" height="2.60" fill="#3088E8" rx="0.8"/>
<rect x="178.50" y="754.20" width="5.20" height="2.60" fill="#F86428" rx="0.8"/>
<rect x="185.60" y="754.20" width="5.20" height="2.60" fill="#5038F0" rx="0.8"/>
<rect x="192.70" y="754.20" width="5.20" height="2.60" fill="#F01828" rx="0.8"/>
<rect x="199.80" y="754.20" width="5.20" height="2.60" fill="#F6F68C" rx="0.8"/>
<rect x="206.90" y="754.20" width="5.20" height="2.60" fill="#E02070" rx="0.8"/>
<rect x="214.00" y="754.20" width="5.20" height="2.60" fill="#F84838" rx="0.8"/>
<rect x="221.10" y="754.20" width="5.20" height="2.60" fill="#90E8F0" rx="0.8"/>
<text x="270.50" y="680.00" font-size="6.75" font-weight="bold" >Top 10</text>
<text x="270.50" y="688.40" font-size="6.75" font-weight="bold" >mutated genes</text>
<rect x="270.50" y="695.90" width="20.75" height="5.30" fill="#50D810" />
<rect x="291.20" y="695.90" width="4.19" height="5.30" fill="#3088E8" />
<rect x="295.34" y="695.90" width="4.19" height="5.30" fill="#5038F0" />
<rect x="299.48" y="695.90" width="8.33" height="5.30" fill="#F6F68C" />
<text x="311.96" y="700.90" font-size="6.1" font-weight="bold" font-style="italic" >2%</text>
<rect x="270.50" y="701.97" width="24.89" height="5.30" fill="#50D810" />
<rect x="295.34" y="701.97" width="4.19" height="5.30" fill="#3088E8" />
<rect x="299.48" y="701.97" width="4.19" height="5.30" fill="#F01828" />
<text x="264.30" y="706.97" font-size="6.75" text-anchor="end" font-style="italic" stroke="#000" stroke-width="0.16" >MAP1B</text>
<text x="307.82" y="706.97" font-size="6.1" font-weight="bold" font-style="italic" >2%</text>
<rect x="270.50" y="708.04" width="20.75" height="5.30" fill="#50D810" />
<rect x="291.20" y="708.04" width="8.33" height="5.30" fill="#3088E8" />
<rect x="299.48" y="708.04" width="4.19" height="5.30" fill="#F6F68C" />
<text x="307.82" y="713.04" font-size="6.1" font-weight="bold" font-style="italic" >2%</text>
<rect x="270.50" y="714.11" width="12.47" height="5.30" fill="#50D810" />
<rect x="282.92" y="714.11" width="4.19" height="5.30" fill="#3088E8" />
<rect x="287.06" y="714.11" width="4.19" height="5.30" fill="#5038F0" />
<rect x="291.20" y="714.11" width="4.19" height="5.30" fill="#F01828" />
<text x="264.30" y="719.11" font-size="6.75" text-anchor="end" font-style="italic" stroke="#000" stroke-width="0.16" >LIMA1</text>
<text x="299.54" y="719.11" font-size="6.1" font-weight="bold" font-style="italic" >1%</text>
<rect x="270.50" y="720.18" width="12.47" height="5.30" fill="#50D810" />
<rect x="282.92" y="720.18" width="4.19" height="5.30" fill="#3088E8" />
<rect x="287.06" y="720.18" width="4.19" height="5.30" fill="#5038F0" />
<rect x="291.20" y="720.18" width="4.19" height="5.30" fill="#F86428" />
<text x="299.54" y="725.18" font-size="6.1" font-weight="bold" font-style="italic" >2%</text>
<rect x="270.50" y="726.25" width="20.75" height="5.30" fill="#50D810" />
<rect x="291.20" y="726.25" width="4.19" height="5.30" fill="#F86428" />
<text x="264.30" y="731.25" font-size="6.75" text-anchor="end" font-style="italic" stroke="#000" stroke-width="0.16" >PLG</text>
<text x="299.54" y="731.25" font-size="6.1" font-weight="bold" font-style="italic" >2%</text>
<rect x="270.50" y="732.32" width="24.89" height="5.30" fill="#50D810" />
<text x="299.54" y="737.32" font-size="6.1" font-weight="bold" font-style="italic" >2%</text>
<rect x="270.50" y="738.39" width="20.75" height="5.30" fill="#50D810" />
<rect x="291.20" y="738.39" width="4.19" height="5.30" fill="#3088E8" />
<text x="264.30" y="743.39" font-size="6.75" text-anchor="end" font-style="italic" stroke="#000" stroke-width="0.16" >FMO1</text>
<text x="299.54" y="743.39" font-size="6.1" font-weight="bold" font-style="italic" >2%</text>
<rect x="270.50" y="744.46" width="20.75" height="5.30" fill="#50D810" />
<rect x="291.20" y="744.46" width="4.19" height="5.30" fill="#3088E8" />
<text x="299.54" y="749.46" font-size="6.1" font-weight="bold" font-style="italic" >2%</text>
<rect x="270.50" y="750.53" width="20.75" height="5.30" fill="#50D810" />
<text x="264.30" y="755.53" font-size="6.75" text-anchor="end" font-style="italic" stroke="#000" stroke-width="0.16" >ACTB</text>
<text x="295.40" y="755.53" font-size="6.1" font-weight="bold" font-style="italic" >1%</text>
<line x1="270.10" y1="758.50" x2="316.50" y2="758.50" stroke="#000" stroke-width="0.85" />
<line x1="270.50" y1="758.50" x2="270.50" y2="761.90" stroke="#000" stroke-width="0.85" />
<text x="272.60" y="766.00" font-size="5.9" text-anchor="end" font-style="italic" transform="rotate(-90 272.60 766.00)" stroke="#000" stroke-width="0.16" >0</text>
<line x1="282.92" y1="758.50" x2="282.92" y2="761.90" stroke="#000" stroke-width="0.85" />
<text x="285.02" y="766.00" font-size="5.9" text-anchor="end" font-style="italic" transform="rotate(-90 285.02 766.00)" stroke="#000" stroke-width="0.16" >3</text>
<line x1="299.48" y1="758.50" x2="299.48" y2="761.90" stroke="#000" stroke-width="0.85" />
<text x="301.58" y="766.00" font-size="5.9" text-anchor="end" font-style="italic" transform="rotate(-90 301.58 766.00)" stroke="#000" stroke-width="0.16" >7</text>
<line x1="316.04" y1="758.50" x2="316.04" y2="761.90" stroke="#000" stroke-width="0.85" />
<text x="318.14" y="766.00" font-size="5.9" text-anchor="end" font-style="italic" transform="rotate(-90 318.14 766.00)" stroke="#000" stroke-width="0.16" >11</text>
<text x="433.50" y="553.30" font-size="10.2" font-weight="bold" >Altered in 95 (24.3%) of 391 samples.</text>
<rect x="399.20" y="593.90" width="196.17" height="142.80" fill="#CDD5D5" />
<line x1="401.26" y1="593.90" x2="401.26" y2="736.70" stroke="#fff" stroke-width="0.25" opacity="0.55"/>
<line x1="403.33" y1="593.90" x2="403.33" y2="736.70" stroke="#fff" stroke-width="0.25" opacity="0.55"/>
<line x1="405.39" y1="593.90" x2="405.39" y2="736.70" stroke="#fff" stroke-width="0.25" opacity="0.55"/>
<line x1="407.46" y1="593.90" x2="407.46" y2="736.70" stroke="#fff" stroke-width="0.25" opacity="0.55"/>
<line x1="409.52" y1="593.90" x2="409.52" y2="736.70" stroke="#fff" stroke-width="0.25" opacity="0.55"/>
<line x1="411.59" y1="593.90" x2="411.59" y2="736.70" stroke="#fff" stroke-width="0.25" opacity="0.55"/>
<line x1="413.65" y1="593.90" x2="413.65" y2="736.70" stroke="#fff" stroke-width="0.25" opacity="0.55"/>
<line x1="415.72" y1="593.90" x2="415.72" y2="736.70" stroke="#fff" stroke-width="0.25" opacity="0.55"/>
<line x1="417.78" y1="593.90" x2="417.78" y2="736.70" stroke="#fff" stroke-width="0.25" opacity="0.55"/>
<line x1="419.85" y1="593.90" x2="419.85" y2="736.70" stroke="#fff" stroke-width="0.25" opacity="0.55"/>
<line x1="421.91" y1="593.90" x2="421.91" y2="736.70" stroke="#fff" stroke-width="0.25" opacity="0.55"/>
<line x1="423.98" y1="593.90" x2="423.98" y2="736.70" stroke="#fff" stroke-width="0.25" opacity="0.55"/>
<line x1="426.04" y1="593.90" x2="426.04" y2="736.70" stroke="#fff" stroke-width="0.25" opacity="0.55"/>
<line x1="428.11" y1="593.90" x2="428.11" y2="736.70" stroke="#fff" stroke-width="0.25" opacity="0.55"/>
<line x1="430.18" y1="593.90" x2="430.18" y2="736.70" stroke="#fff" stroke-width="0.25" opacity="0.55"/>
<line x1="432.24" y1="593.90" x2="432.24" y2="736.70" stroke="#fff" stroke-width="0.25" opacity="0.55"/>
<line x1="434.31" y1="593.90" x2="434.31" y2="736.70" stroke="#fff" stroke-width="0.25" opacity="0.55"/>
<line x1="436.37" y1="593.90" x2="436.37" y2="736.70" stroke="#fff" stroke-width="0.25" opacity="0.55"/>
<line x1="438.44" y1="593.90" x2="438.44" y2="736.70" stroke="#fff" stroke-width="0.25" opacity="0.55"/>
<line x1="440.50" y1="593.90" x2="440.50" y2="736.70" stroke="#fff" stroke-width="0.25" opacity="0.55"/>
<line x1="442.56" y1="593.90" x2="442.56" y2="736.70" stroke="#fff" stroke-width="0.25" opacity="0.55"/>
<line x1="444.63" y1="593.90" x2="444.63" y2="736.70" stroke="#fff" stroke-width="0.25" opacity="0.55"/>
<line x1="446.69" y1="593.90" x2="446.69" y2="736.70" stroke="#fff" stroke-width="0.25" opacity="0.55"/>
<line x1="448.76" y1="593.90" x2="448.76" y2="736.70" stroke="#fff" stroke-width="0.25" opacity="0.55"/>
<line x1="450.82" y1="593.90" x2="450.82" y2="736.70" stroke="#fff" stroke-width="0.25" opacity="0.55"/>
<line x1="452.89" y1="593.90" x2="452.89" y2="736.70" stroke="#fff" stroke-width="0.25" opacity="0.55"/>
<line x1="454.95" y1="593.90" x2="454.95" y2="736.70" stroke="#fff" stroke-width="0.25" opacity="0.55"/>
<line x1="457.02" y1="593.90" x2="457.02" y2="736.70" stroke="#fff" stroke-width="0.25" opacity="0.55"/>
<line x1="459.08" y1="593.90" x2="459.08" y2="736.70" stroke="#fff" stroke-width="0.25" opacity="0.55"/>
<line x1="461.15" y1="593.90" x2="461.15" y2="736.70" stroke="#fff" stroke-width="0.25" opacity="0.55"/>
<line x1="463.21" y1="593.90" x2="463.21" y2="736.70" stroke="#fff" stroke-width="0.25" opacity="0.55"/>
<line x1="465.28" y1="593.90" x2="465.28" y2="736.70" stroke="#fff" stroke-width="0.25" opacity="0.55"/>
<line x1="467.34" y1="593.90" x2="467.34" y2="736.70" stroke="#fff" stroke-width="0.25" opacity="0.55"/>
<line x1="469.41" y1="593.90" x2="469.41" y2="736.70" stroke="#fff" stroke-width="0.25" opacity="0.55"/>
<line x1="471.47" y1="593.90" x2="471.47" y2="736.70" stroke="#fff" stroke-width="0.25" opacity="0.55"/>
<line x1="473.54" y1="593.90" x2="473.54" y2="736.70" stroke="#fff" stroke-width="0.25" opacity="0.55"/>
<line x1="475.61" y1="593.90" x2="475.61" y2="736.70" stroke="#fff" stroke-width="0.25" opacity="0.55"/>
<line x1="477.67" y1="593.90" x2="477.67" y2="736.70" stroke="#fff" stroke-width="0.25" opacity="0.55"/>
<line x1="479.74" y1="593.90" x2="479.74" y2="736.70" stroke="#fff" stroke-width="0.25" opacity="0.55"/>
<line x1="481.80" y1="593.90" x2="481.80" y2="736.70" stroke="#fff" stroke-width="0.25" opacity="0.55"/>
<line x1="483.87" y1="593.90" x2="483.87" y2="736.70" stroke="#fff" stroke-width="0.25" opacity="0.55"/>
<line x1="485.93" y1="593.90" x2="485.93" y2="736.70" stroke="#fff" stroke-width="0.25" opacity="0.55"/>
<line x1="488.00" y1="593.90" x2="488.00" y2="736.70" stroke="#fff" stroke-width="0.25" opacity="0.55"/>
<line x1="490.06" y1="593.90" x2="490.06" y2="736.70" stroke="#fff" stroke-width="0.25" opacity="0.55"/>
<line x1="492.12" y1="593.90" x2="492.12" y2="736.70" stroke="#fff" stroke-width="0.25" opacity="0.55"/>
<line x1="494.19" y1="593.90" x2="494.19" y2="736.70" stroke="#fff" stroke-width="0.25" opacity="0.55"/>
<line x1="496.25" y1="593.90" x2="496.25" y2="736.70" stroke="#fff" stroke-width="0.25" opacity="0.55"/>
<line x1="498.32" y1="593.90" x2="498.32" y2="736.70" stroke="#fff" stroke-width="0.25" opacity="0.55"/>
<line x1="500.38" y1="593.90" x2="500.38" y2="736.70" stroke="#fff" stroke-width="0.25" opacity="0.55"/>
<line x1="502.45" y1="593.90" x2="502.45" y2="736.70" stroke="#fff" stroke-width="0.25" opacity="0.55"/>
<line x1="504.51" y1="593.90" x2="504.51" y2="736.70" stroke="#fff" stroke-width="0.25" opacity="0.55"/>
<line x1="506.58" y1="593.90" x2="506.58" y2="736.70" stroke="#fff" stroke-width="0.25" opacity="0.55"/>
<line x1="508.64" y1="593.90" x2="508.64" y2="736.70" stroke="#fff" stroke-width="0.25" opacity="0.55"/>
<line x1="510.71" y1="593.90" x2="510.71" y2="736.70" stroke="#fff" stroke-width="0.25" opacity="0.55"/>
<line x1="512.77" y1="593.90" x2="512.77" y2="736.70" stroke="#fff" stroke-width="0.25" opacity="0.55"/>
<line x1="514.84" y1="593.90" x2="514.84" y2="736.70" stroke="#fff" stroke-width="0.25" opacity="0.55"/>
<line x1="516.90" y1="593.90" x2="516.90" y2="736.70" stroke="#fff" stroke-width="0.25" opacity="0.55"/>
<line x1="518.97" y1="593.90" x2="518.97" y2="736.70" stroke="#fff" stroke-width="0.25" opacity="0.55"/>
<line x1="521.03" y1="593.90" x2="521.03" y2="736.70" stroke="#fff" stroke-width="0.25" opacity="0.55"/>
<line x1="523.10" y1="593.90" x2="523.10" y2="736.70" stroke="#fff" stroke-width="0.25" opacity="0.55"/>
<line x1="525.16" y1="593.90" x2="525.16" y2="736.70" stroke="#fff" stroke-width="0.25" opacity="0.55"/>
<line x1="527.23" y1="593.90" x2="527.23" y2="736.70" stroke="#fff" stroke-width="0.25" opacity="0.55"/>
<line x1="529.29" y1="593.90" x2="529.29" y2="736.70" stroke="#fff" stroke-width="0.25" opacity="0.55"/>
<line x1="531.36" y1="593.90" x2="531.36" y2="736.70" stroke="#fff" stroke-width="0.25" opacity="0.55"/>
<line x1="533.42" y1="593.90" x2="533.42" y2="736.70" stroke="#fff" stroke-width="0.25" opacity="0.55"/>
<line x1="535.49" y1="593.90" x2="535.49" y2="736.70" stroke="#fff" stroke-width="0.25" opacity="0.55"/>
<line x1="537.55" y1="593.90" x2="537.55" y2="736.70" stroke="#fff" stroke-width="0.25" opacity="0.55"/>
<line x1="539.62" y1="593.90" x2="539.62" y2="736.70" stroke="#fff" stroke-width="0.25" opacity="0.55"/>
<line x1="541.68" y1="593.90" x2="541.68" y2="736.70" stroke="#fff" stroke-width="0.25" opacity="0.55"/>
<line x1="543.75" y1="593.90" x2="543.75" y2="736.70" stroke="#fff" stroke-width="0.25" opacity="0.55"/>
<line x1="545.82" y1="593.90" x2="545.82" y2="736.70" stroke="#fff" stroke-width="0.25" opacity="0.55"/>
<line x1="547.88" y1="593.90" x2="547.88" y2="736.70" stroke="#fff" stroke-width="0.25" opacity="0.55"/>
<line x1="549.94" y1="593.90" x2="549.94" y2="736.70" stroke="#fff" stroke-width="0.25" opacity="0.55"/>
<line x1="552.01" y1="593.90" x2="552.01" y2="736.70" stroke="#fff" stroke-width="0.25" opacity="0.55"/>
<line x1="554.08" y1="593.90" x2="554.08" y2="736.70" stroke="#fff" stroke-width="0.25" opacity="0.55"/>
<line x1="556.14" y1="593.90" x2="556.14" y2="736.70" stroke="#fff" stroke-width="0.25" opacity="0.55"/>
<line x1="558.20" y1="593.90" x2="558.20" y2="736.70" stroke="#fff" stroke-width="0.25" opacity="0.55"/>
<line x1="560.27" y1="593.90" x2="560.27" y2="736.70" stroke="#fff" stroke-width="0.25" opacity="0.55"/>
<line x1="562.34" y1="593.90" x2="562.34" y2="736.70" stroke="#fff" stroke-width="0.25" opacity="0.55"/>
<line x1="564.40" y1="593.90" x2="564.40" y2="736.70" stroke="#fff" stroke-width="0.25" opacity="0.55"/>
<line x1="566.46" y1="593.90" x2="566.46" y2="736.70" stroke="#fff" stroke-width="0.25" opacity="0.55"/>
<line x1="568.53" y1="593.90" x2="568.53" y2="736.70" stroke="#fff" stroke-width="0.25" opacity="0.55"/>
<line x1="570.60" y1="593.90" x2="570.60" y2="736.70" stroke="#fff" stroke-width="0.25" opacity="0.55"/>
<line x1="572.66" y1="593.90" x2="572.66" y2="736.70" stroke="#fff" stroke-width="0.25" opacity="0.55"/>
<line x1="574.73" y1="593.90" x2="574.73" y2="736.70" stroke="#fff" stroke-width="0.25" opacity="0.55"/>
<line x1="576.79" y1="593.90" x2="576.79" y2="736.70" stroke="#fff" stroke-width="0.25" opacity="0.55"/>
<line x1="578.86" y1="593.90" x2="578.86" y2="736.70" stroke="#fff" stroke-width="0.25" opacity="0.55"/>
<line x1="580.92" y1="593.90" x2="580.92" y2="736.70" stroke="#fff" stroke-width="0.25" opacity="0.55"/>
<line x1="582.99" y1="593.90" x2="582.99" y2="736.70" stroke="#fff" stroke-width="0.25" opacity="0.55"/>
<line x1="585.05" y1="593.90" x2="585.05" y2="736.70" stroke="#fff" stroke-width="0.25" opacity="0.55"/>
<line x1="587.12" y1="593.90" x2="587.12" y2="736.70" stroke="#fff" stroke-width="0.25" opacity="0.55"/>
<line x1="589.18" y1="593.90" x2="589.18" y2="736.70" stroke="#fff" stroke-width="0.25" opacity="0.55"/>
<line x1="591.25" y1="593.90" x2="591.25" y2="736.70" stroke="#fff" stroke-width="0.25" opacity="0.55"/>
<line x1="593.31" y1="593.90" x2="593.31" y2="736.70" stroke="#fff" stroke-width="0.25" opacity="0.55"/>
<rect x="399.20" y="593.90" width="2.11" height="7.14" fill="#50D810" />
<rect x="401.26" y="593.90" width="2.11" height="7.14" fill="#50D810" />
<rect x="403.33" y="593.90" width="2.11" height="7.14" fill="#3088E8" />
<rect x="405.39" y="593.90" width="2.11" height="7.14" fill="#F6F68C" />
<rect x="407.46" y="593.90" width="2.11" height="7.14" fill="#F6F68C" />
<rect x="409.52" y="593.90" width="2.11" height="7.14" fill="#50D810" />
<rect x="411.59" y="593.90" width="2.11" height="7.14" fill="#50D810" />
<rect x="413.65" y="593.90" width="2.11" height="7.14" fill="#50D810" />
<rect x="415.72" y="593.90" width="2.11" height="7.14" fill="#5038F0" />
<rect x="417.78" y="601.04" width="2.11" height="7.14" fill="#50D810" />
<rect x="419.85" y="601.04" width="2.11" height="7.14" fill="#50D810" />
<rect x="421.91" y="601.04" width="2.11" height="7.14" fill="#3088E8" />
<rect x="423.98" y="601.04" width="2.11" height="7.14" fill="#50D810" />
<rect x="426.04" y="601.04" width="2.11" height="7.14" fill="#50D810" />
<rect x="428.11" y="601.04" width="2.11" height="7.14" fill="#3088E8" />
<rect x="430.18" y="601.04" width="2.11" height="7.14" fill="#F6F68C" />
<rect x="432.24" y="601.04" width="2.11" height="7.14" fill="#50D810" />
<rect x="434.31" y="608.18" width="2.11" height="7.14" fill="#50D810" />
<rect x="436.37" y="608.18" width="2.11" height="7.14" fill="#50D810" />
<rect x="438.44" y="608.18" width="2.11" height="7.14" fill="#50D810" />
<rect x="440.50" y="608.18" width="2.11" height="7.14" fill="#50D810" />
<rect x="442.56" y="608.18" width="2.11" height="7.14" fill="#3088E8" />
<rect x="444.63" y="608.18" width="2.11" height="7.14" fill="#F01828" />
<rect x="446.69" y="608.18" width="2.11" height="7.14" fill="#50D810" />
<rect x="448.76" y="608.18" width="2.11" height="7.14" fill="#50D810" />
<rect x="450.82" y="615.32" width="2.11" height="7.14" fill="#50D810" />
<rect x="452.89" y="615.32" width="2.11" height="7.14" fill="#50D810" />
<rect x="454.95" y="615.32" width="2.11" height="7.14" fill="#50D810" />
<rect x="457.02" y="615.32" width="2.11" height="7.14" fill="#50D810" />
<rect x="459.08" y="615.32" width="2.11" height="7.14" fill="#3088E8" />
<rect x="461.15" y="615.32" width="2.11" height="7.14" fill="#50D810" />
<rect x="463.21" y="622.46" width="2.11" height="7.14" fill="#50D810" />
<rect x="465.28" y="622.46" width="2.11" height="7.14" fill="#50D810" />
<rect x="467.34" y="622.46" width="2.11" height="7.14" fill="#50D810" />
<rect x="469.41" y="622.46" width="2.11" height="7.14" fill="#3088E8" />
<rect x="471.47" y="622.46" width="2.11" height="7.14" fill="#50D810" />
<rect x="473.54" y="622.46" width="2.11" height="7.14" fill="#50D810" />
<rect x="475.61" y="629.60" width="2.11" height="7.14" fill="#50D810" />
<rect x="477.67" y="629.60" width="2.11" height="7.14" fill="#50D810" />
<rect x="479.74" y="629.60" width="2.11" height="7.14" fill="#50D810" />
<rect x="481.80" y="629.60" width="2.11" height="7.14" fill="#50D810" />
<rect x="483.87" y="629.60" width="2.11" height="7.14" fill="#50D810" />
<rect x="485.93" y="629.60" width="2.11" height="7.14" fill="#50D810" />
<rect x="463.21" y="636.74" width="2.11" height="7.14" fill="#50D810" />
<rect x="465.28" y="636.74" width="2.11" height="7.14" fill="#50D810" />
<rect x="488.00" y="636.74" width="2.11" height="7.14" fill="#50D810" />
<rect x="490.06" y="636.74" width="2.11" height="7.14" fill="#50D810" />
<rect x="492.12" y="636.74" width="2.11" height="7.14" fill="#50D810" />
<rect x="494.19" y="636.74" width="2.11" height="7.14" fill="#F86428" />
<rect x="488.00" y="643.88" width="2.11" height="7.14" fill="#50D810" />
<rect x="496.25" y="643.88" width="2.11" height="7.14" fill="#50D810" />
<rect x="498.32" y="643.88" width="2.11" height="7.14" fill="#50D810" />
<rect x="500.38" y="643.88" width="2.11" height="7.14" fill="#F86428" />
<rect x="502.45" y="643.88" width="2.11" height="7.14" fill="#3088E8" />
<rect x="504.51" y="643.88" width="2.11" height="7.14" fill="#5038F0" />
<rect x="506.58" y="651.02" width="2.11" height="7.14" fill="#50D810" />
<rect x="508.64" y="651.02" width="2.11" height="7.14" fill="#50D810" />
<rect x="510.71" y="651.02" width="2.11" height="7.14" fill="#50D810" />
<rect x="512.77" y="651.02" width="2.11" height="7.14" fill="#50D810" />
<rect x="514.84" y="651.02" width="2.11" height="7.14" fill="#50D810" />
<rect x="516.90" y="658.16" width="2.11" height="7.14" fill="#50D810" />
<rect x="518.97" y="658.16" width="2.11" height="7.14" fill="#50D810" />
<rect x="521.03" y="658.16" width="2.11" height="7.14" fill="#3088E8" />
<rect x="523.10" y="658.16" width="2.11" height="7.14" fill="#50D810" />
<rect x="525.16" y="658.16" width="2.11" height="7.14" fill="#50D810" />
<rect x="527.23" y="665.30" width="2.11" height="7.14" fill="#F86428" />
<rect x="529.29" y="665.30" width="2.11" height="7.14" fill="#50D810" />
<rect x="531.36" y="665.30" width="2.11" height="7.14" fill="#50D810" />
<rect x="533.42" y="665.30" width="2.11" height="7.14" fill="#50D810" />
<rect x="535.49" y="665.30" width="2.11" height="7.14" fill="#50D810" />
<rect x="537.55" y="672.44" width="2.11" height="7.14" fill="#000000" />
<rect x="539.62" y="672.44" width="2.11" height="7.14" fill="#50D810" />
<rect x="541.68" y="672.44" width="2.11" height="7.14" fill="#F01828" />
<rect x="543.75" y="672.44" width="2.11" height="7.14" fill="#3088E8" />
<rect x="545.82" y="672.44" width="2.11" height="7.14" fill="#5038F0" />
<rect x="490.06" y="679.58" width="2.11" height="7.14" fill="#50D810" />
<rect x="547.88" y="679.58" width="2.11" height="7.14" fill="#50D810" />
<rect x="549.94" y="679.58" width="2.11" height="7.14" fill="#50D810" />
<rect x="552.01" y="679.58" width="2.11" height="7.14" fill="#50D810" />
<rect x="554.08" y="679.58" width="2.11" height="7.14" fill="#50D810" />
<rect x="516.90" y="686.72" width="2.11" height="7.14" fill="#5038F0" />
<rect x="537.55" y="686.72" width="2.11" height="7.14" fill="#5038F0" />
<rect x="556.14" y="686.72" width="2.11" height="7.14" fill="#5038F0" />
<rect x="558.20" y="686.72" width="2.11" height="7.14" fill="#50D810" />
<rect x="560.27" y="693.86" width="2.11" height="7.14" fill="#50D810" />
<rect x="562.34" y="693.86" width="2.11" height="7.14" fill="#50D810" />
<rect x="564.40" y="693.86" width="2.11" height="7.14" fill="#50D810" />
<rect x="566.46" y="693.86" width="2.11" height="7.14" fill="#3088E8" />
<rect x="506.58" y="701.00" width="2.11" height="7.14" fill="#50D810" />
<rect x="527.23" y="701.00" width="2.11" height="7.14" fill="#50D810" />
<rect x="568.53" y="701.00" width="2.11" height="7.14" fill="#50D810" />
<rect x="570.60" y="701.00" width="2.11" height="7.14" fill="#50D810" />
<rect x="488.00" y="708.14" width="2.11" height="7.14" fill="#50D810" />
<rect x="518.97" y="708.14" width="2.11" height="7.14" fill="#50D810" />
<rect x="572.66" y="708.14" width="2.11" height="7.14" fill="#3088E8" />
<rect x="574.73" y="708.14" width="2.11" height="7.14" fill="#F01828" />
<rect x="576.79" y="715.28" width="2.11" height="7.14" fill="#50D810" />
<rect x="578.86" y="715.28" width="2.11" height="7.14" fill="#50D810" />
<rect x="580.92" y="715.28" width="2.11" height="7.14" fill="#3088E8" />
<rect x="582.99" y="715.28" width="2.11" height="7.14" fill="#50D810" />
<rect x="399.20" y="722.42" width="2.11" height="7.14" fill="#50D810" />
<rect x="585.05" y="722.42" width="2.11" height="7.14" fill="#50D810" />
<rect x="587.12" y="722.42" width="2.11" height="7.14" fill="#50D810" />
<rect x="589.18" y="722.42" width="2.11" height="7.14" fill="#F01828" />
<rect x="417.78" y="729.56" width="2.11" height="7.14" fill="#5038F0" />
<rect x="419.85" y="729.56" width="2.11" height="7.14" fill="#5038F0" />
<rect x="591.25" y="729.56" width="2.11" height="7.14" fill="#50D810" />
<rect x="593.31" y="729.56" width="2.11" height="7.14" fill="#F6F68C" />
<line x1="399.20" y1="601.04" x2="595.38" y2="601.04" stroke="#fff" stroke-width="0.6" />
<line x1="399.20" y1="608.18" x2="595.38" y2="608.18" stroke="#fff" stroke-width="0.6" />
<line x1="399.20" y1="615.32" x2="595.38" y2="615.32" stroke="#fff" stroke-width="0.6" />
<line x1="399.20" y1="622.46" x2="595.38" y2="622.46" stroke="#fff" stroke-width="0.6" />
<line x1="399.20" y1="629.60" x2="595.38" y2="629.60" stroke="#fff" stroke-width="0.6" />
<line x1="399.20" y1="636.74" x2="595.38" y2="636.74" stroke="#fff" stroke-width="0.6" />
<line x1="399.20" y1="643.88" x2="595.38" y2="643.88" stroke="#fff" stroke-width="0.6" />
<line x1="399.20" y1="651.02" x2="595.38" y2="651.02" stroke="#fff" stroke-width="0.6" />
<line x1="399.20" y1="658.16" x2="595.38" y2="658.16" stroke="#fff" stroke-width="0.6" />
<line x1="399.20" y1="665.30" x2="595.38" y2="665.30" stroke="#fff" stroke-width="0.6" />
<line x1="399.20" y1="672.44" x2="595.38" y2="672.44" stroke="#fff" stroke-width="0.6" />
<line x1="399.20" y1="679.58" x2="595.38" y2="679.58" stroke="#fff" stroke-width="0.6" />
<line x1="399.20" y1="686.72" x2="595.38" y2="686.72" stroke="#fff" stroke-width="0.6" />
<line x1="399.20" y1="693.86" x2="595.38" y2="693.86" stroke="#fff" stroke-width="0.6" />
<line x1="399.20" y1="701.00" x2="595.38" y2="701.00" stroke="#fff" stroke-width="0.6" />
<line x1="399.20" y1="708.14" x2="595.38" y2="708.14" stroke="#fff" stroke-width="0.6" />
<line x1="399.20" y1="715.28" x2="595.38" y2="715.28" stroke="#fff" stroke-width="0.6" />
<line x1="399.20" y1="722.42" x2="595.38" y2="722.42" stroke="#fff" stroke-width="0.6" />
<line x1="399.20" y1="729.56" x2="595.38" y2="729.56" stroke="#fff" stroke-width="0.6" />
<text x="395.60" y="600.40" font-size="8.4" text-anchor="end" font-style="italic" stroke="#000" stroke-width="0.16" clip-path="url(#clipGene)">PCK1</text>
<text x="597.60" y="600.80" font-size="8.2" stroke="#000" stroke-width="0.16" >2%</text>
<text x="395.60" y="607.54" font-size="8.4" text-anchor="end" font-style="italic" stroke="#000" stroke-width="0.16" clip-path="url(#clipGene)">ATP1B1</text>
<text x="597.60" y="607.94" font-size="8.2" stroke="#000" stroke-width="0.16" >2%</text>
<text x="395.60" y="614.68" font-size="8.4" text-anchor="end" font-style="italic" stroke="#000" stroke-width="0.16" clip-path="url(#clipGene)">MAP1B</text>
<text x="597.60" y="615.08" font-size="8.2" stroke="#000" stroke-width="0.16" >2%</text>
<text x="395.60" y="621.82" font-size="8.4" text-anchor="end" font-style="italic" stroke="#000" stroke-width="0.16" clip-path="url(#clipGene)">ALB</text>
<text x="597.60" y="622.22" font-size="8.2" stroke="#000" stroke-width="0.16" >2%</text>
<text x="395.60" y="628.96" font-size="8.4" text-anchor="end" font-style="italic" stroke="#000" stroke-width="0.16" clip-path="url(#clipGene)">FMO1</text>
<text x="597.60" y="629.36" font-size="8.2" stroke="#000" stroke-width="0.16" >2%</text>
<text x="395.60" y="636.10" font-size="8.4" text-anchor="end" font-style="italic" stroke="#000" stroke-width="0.16" clip-path="url(#clipGene)">MKKS</text>
<text x="597.60" y="636.50" font-size="8.2" stroke="#000" stroke-width="0.16" >2%</text>
<text x="395.60" y="643.24" font-size="8.4" text-anchor="end" font-style="italic" stroke="#000" stroke-width="0.16" clip-path="url(#clipGene)">PLG</text>
<text x="597.60" y="643.64" font-size="8.2" stroke="#000" stroke-width="0.16" >2%</text>
<text x="395.60" y="650.38" font-size="8.4" text-anchor="end" font-style="italic" stroke="#000" stroke-width="0.16" clip-path="url(#clipGene)">PTH1R</text>
<text x="597.60" y="650.78" font-size="8.2" stroke="#000" stroke-width="0.16" >2%</text>
<text x="395.60" y="657.52" font-size="8.4" text-anchor="end" font-style="italic" stroke="#000" stroke-width="0.16" clip-path="url(#clipGene)">ACTB</text>
<text x="597.60" y="657.92" font-size="8.2" stroke="#000" stroke-width="0.16" >1%</text>
<text x="395.60" y="664.66" font-size="8.4" text-anchor="end" font-style="italic" stroke="#000" stroke-width="0.16" clip-path="url(#clipGene)">ACTG1</text>
<text x="597.60" y="665.06" font-size="8.2" stroke="#000" stroke-width="0.16" >1%</text>
<text x="395.60" y="671.80" font-size="8.4" text-anchor="end" font-style="italic" stroke="#000" stroke-width="0.16" clip-path="url(#clipGene)">EIF3L</text>
<text x="597.60" y="672.20" font-size="8.2" stroke="#000" stroke-width="0.16" >1%</text>
<text x="395.60" y="678.94" font-size="8.4" text-anchor="end" font-style="italic" stroke="#000" stroke-width="0.16" clip-path="url(#clipGene)">LIMA1</text>
<text x="597.60" y="679.34" font-size="8.2" stroke="#000" stroke-width="0.16" >1%</text>
<text x="395.60" y="686.08" font-size="8.4" text-anchor="end" font-style="italic" stroke="#000" stroke-width="0.16" clip-path="url(#clipGene)">SLC22A6</text>
<text x="597.60" y="686.48" font-size="8.2" stroke="#000" stroke-width="0.16" >1%</text>
<text x="395.60" y="693.22" font-size="8.4" text-anchor="end" font-style="italic" stroke="#000" stroke-width="0.16" clip-path="url(#clipGene)">ALDOB</text>
<text x="597.60" y="693.62" font-size="8.2" stroke="#000" stroke-width="0.16" >1%</text>
<text x="395.60" y="700.36" font-size="8.4" text-anchor="end" font-style="italic" stroke="#000" stroke-width="0.16" clip-path="url(#clipGene)">ATP6V1A</text>
<text x="597.60" y="700.76" font-size="8.2" stroke="#000" stroke-width="0.16" >1%</text>
<text x="395.60" y="707.50" font-size="8.4" text-anchor="end" font-style="italic" stroke="#000" stroke-width="0.16" clip-path="url(#clipGene)">ATP6V1B1</text>
<text x="597.60" y="707.90" font-size="8.2" stroke="#000" stroke-width="0.16" >1%</text>
<text x="395.60" y="714.64" font-size="8.4" text-anchor="end" font-style="italic" stroke="#000" stroke-width="0.16" clip-path="url(#clipGene)">CLTA</text>
<text x="597.60" y="715.04" font-size="8.2" stroke="#000" stroke-width="0.16" >1%</text>
<text x="395.60" y="721.78" font-size="8.4" text-anchor="end" font-style="italic" stroke="#000" stroke-width="0.16" clip-path="url(#clipGene)">EAF2</text>
<text x="597.60" y="722.18" font-size="8.2" stroke="#000" stroke-width="0.16" >1%</text>
<text x="395.60" y="728.92" font-size="8.4" text-anchor="end" font-style="italic" stroke="#000" stroke-width="0.16" clip-path="url(#clipGene)">PAH</text>
<text x="597.60" y="729.32" font-size="8.2" stroke="#000" stroke-width="0.16" >1%</text>
<text x="395.60" y="736.06" font-size="8.4" text-anchor="end" font-style="italic" stroke="#000" stroke-width="0.16" clip-path="url(#clipGene)">PIPOX</text>
<text x="597.60" y="736.46" font-size="8.2" stroke="#000" stroke-width="0.16" >1%</text>
<line x1="395.20" y1="562.30" x2="395.20" y2="590.60" stroke="#000" stroke-width="0.6" />
<line x1="391.20" y1="562.30" x2="395.20" y2="562.30" stroke="#000" stroke-width="0.6" />
<line x1="391.20" y1="590.50" x2="395.20" y2="590.50" stroke="#000" stroke-width="0.6" />
<text x="388.00" y="564.60" font-size="6.4" text-anchor="end" stroke="#000" stroke-width="0.16" >8</text>
<text x="388.00" y="592.80" font-size="6.4" text-anchor="end" stroke="#000" stroke-width="0.16" >0</text>
<text x="381.80" y="576.80" font-size="5.5" text-anchor="middle" transform="rotate(-90 381.80 576.80)" stroke="#000" stroke-width="0.16" >TMB</text>
<rect x="399.20" y="579.94" width="2.11" height="10.56" fill="#50D810" />
<rect x="401.26" y="586.98" width="2.11" height="3.52" fill="#50D810" />
<rect x="403.33" y="583.46" width="2.11" height="7.04" fill="#50D810" />
<rect x="403.33" y="583.46" width="2.11" height="3.52" fill="#3088E8" />
<rect x="405.39" y="586.98" width="2.11" height="3.52" fill="#50D810" />
<rect x="405.39" y="586.98" width="2.11" height="3.52" fill="#F6F68C" />
<rect x="407.46" y="586.98" width="2.11" height="3.52" fill="#50D810" />
<rect x="407.46" y="586.98" width="2.11" height="3.52" fill="#F6F68C" />
<rect x="409.52" y="586.98" width="2.11" height="3.52" fill="#50D810" />
<rect x="411.59" y="579.94" width="2.11" height="10.56" fill="#50D810" />
<rect x="411.59" y="586.98" width="2.11" height="3.52" fill="#3088E8" />
<rect x="413.65" y="586.98" width="2.11" height="3.52" fill="#50D810" />
<rect x="415.72" y="583.46" width="2.11" height="7.04" fill="#50D810" />
<rect x="415.72" y="586.98" width="2.11" height="3.52" fill="#5038F0" />
<rect x="417.78" y="579.94" width="2.11" height="10.56" fill="#50D810" />
<rect x="417.78" y="586.98" width="2.11" height="3.52" fill="#5038F0" />
<rect x="419.85" y="579.94" width="2.11" height="10.56" fill="#50D810" />
<rect x="419.85" y="586.98" width="2.11" height="3.52" fill="#5038F0" />
<rect x="421.91" y="579.94" width="2.11" height="10.56" fill="#50D810" />
<rect x="421.91" y="586.98" width="2.11" height="3.52" fill="#3088E8" />
<rect x="423.98" y="583.46" width="2.11" height="7.04" fill="#50D810" />
<rect x="426.04" y="586.98" width="2.11" height="3.52" fill="#50D810" />
<rect x="428.11" y="586.98" width="2.11" height="3.52" fill="#50D810" />
<rect x="428.11" y="586.98" width="2.11" height="3.52" fill="#3088E8" />
<rect x="430.18" y="583.46" width="2.11" height="7.04" fill="#50D810" />
<rect x="430.18" y="586.98" width="2.11" height="3.52" fill="#F6F68C" />
<rect x="432.24" y="586.98" width="2.11" height="3.52" fill="#50D810" />
<rect x="434.31" y="583.46" width="2.11" height="7.04" fill="#50D810" />
<rect x="436.37" y="586.98" width="2.11" height="3.52" fill="#50D810" />
<rect x="438.44" y="586.98" width="2.11" height="3.52" fill="#50D810" />
<rect x="440.50" y="586.98" width="2.11" height="3.52" fill="#50D810" />
<rect x="442.56" y="586.98" width="2.11" height="3.52" fill="#50D810" />
<rect x="442.56" y="586.98" width="2.11" height="3.52" fill="#3088E8" />
<rect x="444.63" y="586.98" width="2.11" height="3.52" fill="#50D810" />
<rect x="444.63" y="586.98" width="2.11" height="3.52" fill="#F01828" />
<rect x="446.69" y="583.46" width="2.11" height="7.04" fill="#50D810" />
<rect x="448.76" y="586.98" width="2.11" height="3.52" fill="#50D810" />
<rect x="450.82" y="586.98" width="2.11" height="3.52" fill="#50D810" />
<rect x="452.89" y="586.98" width="2.11" height="3.52" fill="#50D810" />
<rect x="454.95" y="586.98" width="2.11" height="3.52" fill="#50D810" />
<rect x="457.02" y="586.98" width="2.11" height="3.52" fill="#50D810" />
<rect x="459.08" y="586.98" width="2.11" height="3.52" fill="#50D810" />
<rect x="459.08" y="586.98" width="2.11" height="3.52" fill="#3088E8" />
<rect x="461.15" y="579.94" width="2.11" height="10.56" fill="#50D810" />
<rect x="463.21" y="579.94" width="2.11" height="10.56" fill="#50D810" />
<rect x="465.28" y="579.94" width="2.11" height="10.56" fill="#50D810" />
<rect x="465.28" y="586.98" width="2.11" height="3.52" fill="#F6F68C" />
<rect x="467.34" y="586.98" width="2.11" height="3.52" fill="#50D810" />
<rect x="467.34" y="586.98" width="2.11" height="3.52" fill="#F6F68C" />
<rect x="469.41" y="583.46" width="2.11" height="7.04" fill="#50D810" />
<rect x="469.41" y="583.46" width="2.11" height="3.52" fill="#5038F0" />
<rect x="471.47" y="586.98" width="2.11" height="3.52" fill="#50D810" />
<rect x="473.54" y="579.94" width="2.11" height="10.56" fill="#50D810" />
<rect x="473.54" y="586.98" width="2.11" height="3.52" fill="#5038F0" />
<rect x="475.61" y="586.98" width="2.11" height="3.52" fill="#50D810" />
<rect x="477.67" y="586.98" width="2.11" height="3.52" fill="#50D810" />
<rect x="479.74" y="586.98" width="2.11" height="3.52" fill="#50D810" />
<rect x="481.80" y="572.90" width="2.11" height="17.60" fill="#50D810" />
<rect x="481.80" y="586.98" width="2.11" height="3.52" fill="#F6F68C" />
<rect x="481.80" y="572.90" width="2.11" height="3.52" fill="#F86428" />
<rect x="483.87" y="586.98" width="2.11" height="3.52" fill="#50D810" />
<rect x="485.93" y="579.94" width="2.11" height="10.56" fill="#50D810" />
<rect x="488.00" y="572.90" width="2.11" height="17.60" fill="#50D810" />
<rect x="490.06" y="572.90" width="2.11" height="17.60" fill="#50D810" />
<rect x="490.06" y="586.98" width="2.11" height="3.52" fill="#3088E8" />
<rect x="492.12" y="586.98" width="2.11" height="3.52" fill="#50D810" />
<rect x="494.19" y="583.46" width="2.11" height="7.04" fill="#50D810" />
<rect x="494.19" y="583.46" width="2.11" height="3.52" fill="#F86428" />
<rect x="496.25" y="583.46" width="2.11" height="7.04" fill="#50D810" />
<rect x="498.32" y="583.46" width="2.11" height="7.04" fill="#50D810" />
<rect x="500.38" y="583.46" width="2.11" height="7.04" fill="#50D810" />
<rect x="500.38" y="583.46" width="2.11" height="3.52" fill="#F86428" />
<rect x="502.45" y="579.94" width="2.11" height="10.56" fill="#50D810" />
<rect x="502.45" y="586.98" width="2.11" height="3.52" fill="#3088E8" />
<rect x="504.51" y="583.46" width="2.11" height="7.04" fill="#50D810" />
<rect x="504.51" y="586.98" width="2.11" height="3.52" fill="#5038F0" />
<rect x="506.58" y="583.46" width="2.11" height="7.04" fill="#50D810" />
<rect x="508.64" y="586.98" width="2.11" height="3.52" fill="#50D810" />
<rect x="510.71" y="586.98" width="2.11" height="3.52" fill="#50D810" />
<rect x="512.77" y="586.98" width="2.11" height="3.52" fill="#50D810" />
<rect x="514.84" y="586.98" width="2.11" height="3.52" fill="#50D810" />
<rect x="516.90" y="583.46" width="2.11" height="7.04" fill="#50D810" />
<rect x="516.90" y="586.98" width="2.11" height="3.52" fill="#5038F0" />
<rect x="518.97" y="583.46" width="2.11" height="7.04" fill="#50D810" />
<rect x="521.03" y="586.98" width="2.11" height="3.52" fill="#50D810" />
<rect x="521.03" y="586.98" width="2.11" height="3.52" fill="#3088E8" />
<rect x="523.10" y="586.98" width="2.11" height="3.52" fill="#50D810" />
<rect x="525.16" y="586.98" width="2.11" height="3.52" fill="#50D810" />
<rect x="527.23" y="562.34" width="2.11" height="28.16" fill="#50D810" />
<rect x="527.23" y="586.98" width="2.11" height="3.52" fill="#3088E8" />
<rect x="527.23" y="562.34" width="2.11" height="3.52" fill="#F86428" />
<rect x="529.29" y="586.98" width="2.11" height="3.52" fill="#50D810" />
<rect x="531.36" y="586.98" width="2.11" height="3.52" fill="#50D810" />
<rect x="533.42" y="586.98" width="2.11" height="3.52" fill="#50D810" />
<rect x="535.49" y="586.98" width="2.11" height="3.52" fill="#50D810" />
<rect x="537.55" y="576.42" width="2.11" height="14.08" fill="#50D810" />
<rect x="537.55" y="586.98" width="2.11" height="3.52" fill="#3088E8" />
<rect x="537.55" y="583.46" width="2.11" height="3.52" fill="#5038F0" />
<rect x="539.62" y="586.98" width="2.11" height="3.52" fill="#50D810" />
<rect x="541.68" y="583.46" width="2.11" height="7.04" fill="#50D810" />
<rect x="541.68" y="586.98" width="2.11" height="3.52" fill="#F01828" />
<rect x="543.75" y="586.98" width="2.11" height="3.52" fill="#50D810" />
<rect x="543.75" y="586.98" width="2.11" height="3.52" fill="#3088E8" />
<rect x="545.82" y="586.98" width="2.11" height="3.52" fill="#50D810" />
<rect x="545.82" y="586.98" width="2.11" height="3.52" fill="#5038F0" />
<rect x="547.88" y="586.98" width="2.11" height="3.52" fill="#50D810" />
<rect x="549.94" y="586.98" width="2.11" height="3.52" fill="#50D810" />
<rect x="552.01" y="583.46" width="2.11" height="7.04" fill="#50D810" />
<rect x="554.08" y="586.98" width="2.11" height="3.52" fill="#50D810" />
<rect x="556.14" y="586.98" width="2.11" height="3.52" fill="#50D810" />
<rect x="556.14" y="586.98" width="2.11" height="3.52" fill="#5038F0" />
<rect x="558.20" y="583.46" width="2.11" height="7.04" fill="#50D810" />
<rect x="560.27" y="586.98" width="2.11" height="3.52" fill="#50D810" />
<rect x="562.34" y="586.98" width="2.11" height="3.52" fill="#50D810" />
<rect x="564.40" y="586.98" width="2.11" height="3.52" fill="#50D810" />
<rect x="566.46" y="583.46" width="2.11" height="7.04" fill="#50D810" />
<rect x="566.46" y="586.98" width="2.11" height="3.52" fill="#3088E8" />
<rect x="568.53" y="586.98" width="2.11" height="3.52" fill="#50D810" />
<rect x="570.60" y="586.98" width="2.11" height="3.52" fill="#50D810" />
<rect x="572.66" y="586.98" width="2.11" height="3.52" fill="#50D810" />
<rect x="572.66" y="586.98" width="2.11" height="3.52" fill="#3088E8" />
<rect x="574.73" y="586.98" width="2.11" height="3.52" fill="#50D810" />
<rect x="574.73" y="586.98" width="2.11" height="3.52" fill="#F01828" />
<rect x="576.79" y="586.98" width="2.11" height="3.52" fill="#50D810" />
<rect x="578.86" y="586.98" width="2.11" height="3.52" fill="#50D810" />
<rect x="580.92" y="586.98" width="2.11" height="3.52" fill="#50D810" />
<rect x="580.92" y="586.98" width="2.11" height="3.52" fill="#3088E8" />
<rect x="582.99" y="579.94" width="2.11" height="10.56" fill="#50D810" />
<rect x="585.05" y="586.98" width="2.11" height="3.52" fill="#50D810" />
<rect x="587.12" y="583.46" width="2.11" height="7.04" fill="#50D810" />
<rect x="589.18" y="586.98" width="2.11" height="3.52" fill="#50D810" />
<rect x="589.18" y="586.98" width="2.11" height="3.52" fill="#F01828" />
<rect x="591.25" y="586.98" width="2.11" height="3.52" fill="#50D810" />
<rect x="593.31" y="586.98" width="2.11" height="3.52" fill="#50D810" />
<rect x="593.31" y="586.98" width="2.11" height="3.52" fill="#F6F68C" />
<rect x="620.30" y="594.40" width="32.20" height="6.34" fill="#50D810" />
<rect x="652.45" y="594.40" width="6.48" height="6.34" fill="#5038F0" />
<rect x="658.88" y="594.40" width="6.48" height="6.34" fill="#3088E8" />
<rect x="665.31" y="594.40" width="12.91" height="6.34" fill="#F6F68C" />
<rect x="620.30" y="601.54" width="32.20" height="6.34" fill="#50D810" />
<rect x="652.45" y="601.54" width="12.91" height="6.34" fill="#3088E8" />
<rect x="665.31" y="601.54" width="6.48" height="6.34" fill="#F6F68C" />
<rect x="620.30" y="608.68" width="38.63" height="6.34" fill="#50D810" />
<rect x="658.88" y="608.68" width="6.48" height="6.34" fill="#F01828" />
<rect x="665.31" y="608.68" width="6.48" height="6.34" fill="#3088E8" />
<rect x="620.30" y="615.82" width="32.20" height="6.34" fill="#50D810" />
<rect x="652.45" y="615.82" width="6.48" height="6.34" fill="#3088E8" />
<rect x="620.30" y="622.96" width="32.20" height="6.34" fill="#50D810" />
<rect x="652.45" y="622.96" width="6.48" height="6.34" fill="#3088E8" />
<rect x="620.30" y="630.10" width="38.63" height="6.34" fill="#50D810" />
<rect x="620.30" y="637.24" width="32.20" height="6.34" fill="#50D810" />
<rect x="652.45" y="637.24" width="6.48" height="6.34" fill="#F86428" />
<rect x="620.30" y="644.38" width="19.34" height="6.34" fill="#50D810" />
<rect x="639.59" y="644.38" width="6.48" height="6.34" fill="#F86428" />
<rect x="646.02" y="644.38" width="6.48" height="6.34" fill="#5038F0" />
<rect x="652.45" y="644.38" width="6.48" height="6.34" fill="#3088E8" />
<rect x="620.30" y="651.52" width="32.20" height="6.34" fill="#50D810" />
<rect x="620.30" y="658.66" width="25.77" height="6.34" fill="#50D810" />
<rect x="646.02" y="658.66" width="6.48" height="6.34" fill="#3088E8" />
<rect x="620.30" y="665.80" width="25.77" height="6.34" fill="#50D810" />
<rect x="646.02" y="665.80" width="6.48" height="6.34" fill="#F86428" />
<rect x="620.30" y="672.94" width="12.91" height="6.34" fill="#50D810" />
<rect x="633.16" y="672.94" width="6.48" height="6.34" fill="#5038F0" />
<rect x="639.59" y="672.94" width="6.48" height="6.34" fill="#F01828" />
<rect x="646.02" y="672.94" width="6.48" height="6.34" fill="#000000" />
<rect x="620.30" y="680.08" width="32.20" height="6.34" fill="#50D810" />
<rect x="620.30" y="687.22" width="6.48" height="6.34" fill="#50D810" />
<rect x="626.73" y="687.22" width="19.34" height="6.34" fill="#5038F0" />
<rect x="620.30" y="694.36" width="19.34" height="6.34" fill="#50D810" />
<rect x="639.59" y="694.36" width="6.48" height="6.34" fill="#3088E8" />
<rect x="620.30" y="701.50" width="25.77" height="6.34" fill="#50D810" />
<rect x="620.30" y="708.64" width="12.91" height="6.34" fill="#50D810" />
<rect x="633.16" y="708.64" width="6.48" height="6.34" fill="#F01828" />
<rect x="639.59" y="708.64" width="6.48" height="6.34" fill="#3088E8" />
<rect x="620.30" y="715.78" width="19.34" height="6.34" fill="#50D810" />
<rect x="639.59" y="715.78" width="6.48" height="6.34" fill="#3088E8" />
<rect x="620.30" y="722.92" width="19.34" height="6.34" fill="#50D810" />
<rect x="639.59" y="722.92" width="6.48" height="6.34" fill="#F01828" />
<rect x="620.30" y="730.06" width="6.48" height="6.34" fill="#50D810" />
<rect x="626.73" y="730.06" width="12.91" height="6.34" fill="#5038F0" />
<rect x="639.59" y="730.06" width="6.48" height="6.34" fill="#F6F68C" />
<line x1="619.90" y1="591.90" x2="678.57" y2="591.90" stroke="#000" stroke-width="0.8" />
<line x1="620.30" y1="587.90" x2="620.30" y2="591.90" stroke="#000" stroke-width="0.8" />
<line x1="678.17" y1="587.90" x2="678.17" y2="591.90" stroke="#000" stroke-width="0.8" />
<text x="620.80" y="582.40" font-size="6.8" text-anchor="middle" stroke="#000" stroke-width="0.16" >0</text>
<text x="677.80" y="582.40" font-size="6.8" text-anchor="middle" stroke="#000" stroke-width="0.16" >9</text>
<text x="649.20" y="588.30" font-size="5.9" text-anchor="middle" stroke="#000" stroke-width="0.16" >No. of samples</text>
<rect x="368.10" y="748.10" width="3.50" height="3.50" fill="#50D810" />
<text x="377.50" y="752.90" font-size="8.47" stroke="#000" stroke-width="0.16" >Missense_Mutation</text>
<rect x="368.10" y="758.15" width="3.50" height="3.50" fill="#F86428" />
<text x="377.50" y="762.95" font-size="8.47" stroke="#000" stroke-width="0.16" >Splice_Site</text>
<rect x="368.10" y="768.20" width="3.50" height="3.50" fill="#5038F0" />
<text x="377.50" y="773.00" font-size="8.47" stroke="#000" stroke-width="0.16" >Frame_Shift_Ins</text>
<rect x="368.10" y="778.25" width="3.50" height="3.50" fill="#F01828" />
<text x="377.50" y="783.05" font-size="8.47" stroke="#000" stroke-width="0.16" >Nonsense_Mutation</text>
<rect x="458.60" y="748.10" width="3.50" height="3.50" fill="#3088E8" />
<text x="468.00" y="752.90" font-size="8.47" stroke="#000" stroke-width="0.16" >Frame_Shift_Del</text>
<rect x="458.60" y="758.15" width="3.50" height="3.50" fill="#F6F68C" />
<text x="468.00" y="762.95" font-size="8.47" stroke="#000" stroke-width="0.16" >In_Frame_Del</text>
<rect x="458.60" y="768.20" width="3.50" height="3.50" fill="#000000" />
<text x="468.00" y="773.00" font-size="8.47" stroke="#000" stroke-width="0.16" >Multi_Hit</text>
</svg>
</body></html>
